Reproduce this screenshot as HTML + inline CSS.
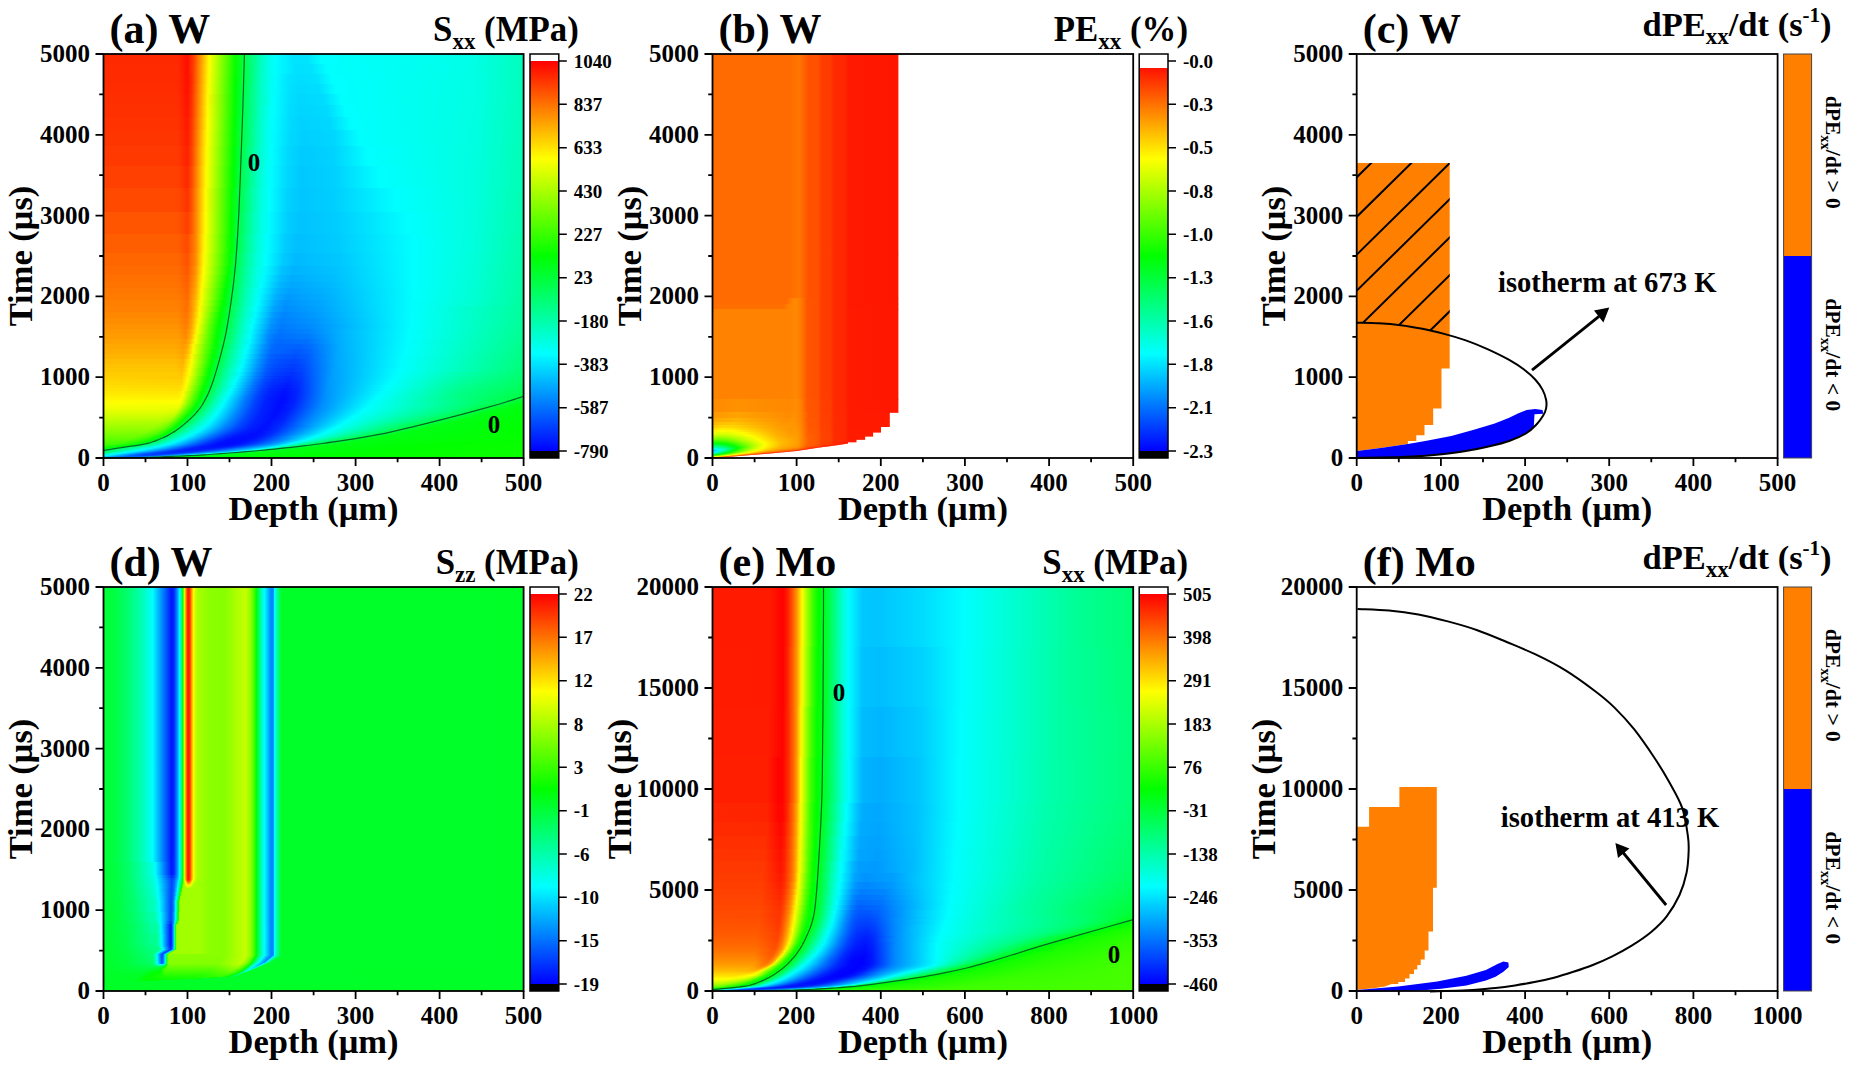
<!DOCTYPE html>
<html lang="en"><head><meta charset="utf-8"><title>Stress and plastic strain maps for W and Mo</title>
<style>html,body{margin:0;padding:0;background:#fff}body{width:1851px;height:1071px;overflow:hidden}svg{display:block}text{font-family:"Liberation Serif", "DejaVu Serif", serif;font-weight:bold;fill:#000}</style></head><body>
<svg width="1851" height="1071" viewBox="0 0 1851 1071">
<rect width="1851" height="1071" fill="#fff"/>
<!-- panel a --><defs><linearGradient id="a0"><stop offset="0" stop-color="#ff2900"/><stop offset=".176" stop-color="#ff2900"/><stop offset=".2" stop-color="#ff0d00"/><stop offset=".214" stop-color="#ff3b00"/><stop offset=".252" stop-color="#fcff00"/><stop offset=".314" stop-color="#07ff00"/><stop offset=".371" stop-color="#00ffb4"/><stop offset=".39" stop-color="#00ffe2"/><stop offset=".41" stop-color="#00ffff"/><stop offset=".452" stop-color="#00e4ff"/><stop offset=".486" stop-color="#00e4ff"/><stop offset=".519" stop-color="#00ffff"/><stop offset=".871" stop-color="#00ffe9"/><stop offset="1" stop-color="#00ffbc"/></linearGradient><linearGradient id="a1"><stop offset="0" stop-color="#ff2a00"/><stop offset=".176" stop-color="#ff2a00"/><stop offset=".2" stop-color="#ff0e00"/><stop offset=".214" stop-color="#ff3e00"/><stop offset=".248" stop-color="#ffef00"/><stop offset=".252" stop-color="#f9ff00"/><stop offset=".314" stop-color="#05ff00"/><stop offset=".371" stop-color="#00ffb6"/><stop offset=".39" stop-color="#00ffe3"/><stop offset=".41" stop-color="#00feff"/><stop offset=".457" stop-color="#00e1ff"/><stop offset=".495" stop-color="#00e2ff"/><stop offset=".533" stop-color="#00fffe"/><stop offset=".867" stop-color="#00ffe9"/><stop offset="1" stop-color="#00ffbb"/></linearGradient><linearGradient id="a2"><stop offset="0" stop-color="#ff2b00"/><stop offset=".176" stop-color="#ff2b00"/><stop offset=".2" stop-color="#ff1000"/><stop offset=".21" stop-color="#ff2a00"/><stop offset=".248" stop-color="#fff200"/><stop offset=".252" stop-color="#f6ff00"/><stop offset=".314" stop-color="#02ff00"/><stop offset=".371" stop-color="#00ffb8"/><stop offset=".39" stop-color="#00ffe5"/><stop offset=".41" stop-color="#00fdff"/><stop offset=".438" stop-color="#00e5ff"/><stop offset=".462" stop-color="#00deff"/><stop offset=".505" stop-color="#00e0ff"/><stop offset=".543" stop-color="#00ffff"/><stop offset=".881" stop-color="#00ffe6"/><stop offset="1" stop-color="#00ffbb"/></linearGradient><linearGradient id="a3"><stop offset="0" stop-color="#ff2c00"/><stop offset=".176" stop-color="#ff2c00"/><stop offset=".2" stop-color="#ff1100"/><stop offset=".21" stop-color="#ff2d00"/><stop offset=".248" stop-color="#fff500"/><stop offset=".252" stop-color="#f3ff00"/><stop offset=".314" stop-color="#00ff01"/><stop offset=".333" stop-color="#00ff46"/><stop offset=".371" stop-color="#00ffba"/><stop offset=".395" stop-color="#00fff0"/><stop offset=".41" stop-color="#00fcff"/><stop offset=".443" stop-color="#00e1ff"/><stop offset=".467" stop-color="#00dbff"/><stop offset=".514" stop-color="#00deff"/><stop offset=".552" stop-color="#00ffff"/><stop offset=".881" stop-color="#00ffe5"/><stop offset="1" stop-color="#00ffba"/></linearGradient><linearGradient id="a4"><stop offset="0" stop-color="#ff2e00"/><stop offset=".176" stop-color="#ff2e00"/><stop offset=".2" stop-color="#ff1300"/><stop offset=".21" stop-color="#ff3000"/><stop offset=".248" stop-color="#fff800"/><stop offset=".31" stop-color="#0eff00"/><stop offset=".314" stop-color="#00ff04"/><stop offset=".333" stop-color="#00ff49"/><stop offset=".371" stop-color="#00ffbc"/><stop offset=".405" stop-color="#00fffe"/><stop offset=".443" stop-color="#00dfff"/><stop offset=".467" stop-color="#00d8ff"/><stop offset=".524" stop-color="#00dcff"/><stop offset=".567" stop-color="#00fffe"/><stop offset=".881" stop-color="#00ffe4"/><stop offset="1" stop-color="#00ffba"/></linearGradient><linearGradient id="a5"><stop offset="0" stop-color="#ff3000"/><stop offset=".176" stop-color="#ff3000"/><stop offset=".2" stop-color="#ff1600"/><stop offset=".21" stop-color="#ff3300"/><stop offset=".248" stop-color="#fffc00"/><stop offset=".31" stop-color="#0bff00"/><stop offset=".314" stop-color="#00ff07"/><stop offset=".329" stop-color="#00ff3c"/><stop offset=".371" stop-color="#00ffbf"/><stop offset=".39" stop-color="#00ffeb"/><stop offset=".405" stop-color="#00ffff"/><stop offset=".443" stop-color="#00ddff"/><stop offset=".471" stop-color="#00d5ff"/><stop offset=".533" stop-color="#00daff"/><stop offset=".576" stop-color="#00ffff"/><stop offset=".881" stop-color="#00ffe3"/><stop offset="1" stop-color="#00ffb9"/></linearGradient><linearGradient id="a6"><stop offset="0" stop-color="#ff3200"/><stop offset=".176" stop-color="#ff3200"/><stop offset=".2" stop-color="#ff1900"/><stop offset=".21" stop-color="#ff3700"/><stop offset=".248" stop-color="#ffff00"/><stop offset=".31" stop-color="#08ff00"/><stop offset=".314" stop-color="#00ff0b"/><stop offset=".329" stop-color="#00ff40"/><stop offset=".371" stop-color="#00ffc2"/><stop offset=".39" stop-color="#00ffed"/><stop offset=".405" stop-color="#00fdff"/><stop offset=".443" stop-color="#00dbff"/><stop offset=".471" stop-color="#00d2ff"/><stop offset=".538" stop-color="#00d7ff"/><stop offset=".59" stop-color="#00ffff"/><stop offset=".881" stop-color="#00ffe2"/><stop offset="1" stop-color="#00ffb8"/></linearGradient><linearGradient id="a7"><stop offset="0" stop-color="#ff3500"/><stop offset=".176" stop-color="#ff3500"/><stop offset=".2" stop-color="#ff1c00"/><stop offset=".21" stop-color="#ff3c00"/><stop offset=".243" stop-color="#ffec00"/><stop offset=".248" stop-color="#fbff00"/><stop offset=".31" stop-color="#04ff00"/><stop offset=".367" stop-color="#00ffb9"/><stop offset=".39" stop-color="#00ffef"/><stop offset=".405" stop-color="#00fbff"/><stop offset=".443" stop-color="#00d9ff"/><stop offset=".476" stop-color="#00cfff"/><stop offset=".548" stop-color="#00d6ff"/><stop offset=".61" stop-color="#00fffe"/><stop offset=".881" stop-color="#00ffe1"/><stop offset="1" stop-color="#00ffb7"/></linearGradient><linearGradient id="a8"><stop offset="0" stop-color="#ff3900"/><stop offset=".176" stop-color="#ff3900"/><stop offset=".2" stop-color="#ff2100"/><stop offset=".21" stop-color="#ff4100"/><stop offset=".243" stop-color="#fff100"/><stop offset=".248" stop-color="#f6ff00"/><stop offset=".31" stop-color="#00ff01"/><stop offset=".324" stop-color="#00ff39"/><stop offset=".362" stop-color="#00ffb0"/><stop offset=".381" stop-color="#00ffe0"/><stop offset=".4" stop-color="#00feff"/><stop offset=".438" stop-color="#00d9ff"/><stop offset=".471" stop-color="#00cbff"/><stop offset=".548" stop-color="#00d2ff"/><stop offset=".629" stop-color="#00ffff"/><stop offset=".881" stop-color="#00ffe0"/><stop offset="1" stop-color="#00ffb5"/></linearGradient><linearGradient id="a9"><stop offset="0" stop-color="#ff4000"/><stop offset=".176" stop-color="#ff4000"/><stop offset=".2" stop-color="#ff2900"/><stop offset=".21" stop-color="#ff4900"/><stop offset=".243" stop-color="#fff600"/><stop offset=".248" stop-color="#f2ff00"/><stop offset=".305" stop-color="#0cff00"/><stop offset=".31" stop-color="#00ff07"/><stop offset=".324" stop-color="#00ff3f"/><stop offset=".367" stop-color="#00ffc3"/><stop offset=".386" stop-color="#00ffee"/><stop offset=".4" stop-color="#00fcff"/><stop offset=".438" stop-color="#00d6ff"/><stop offset=".471" stop-color="#00c8ff"/><stop offset=".552" stop-color="#00d1ff"/><stop offset=".657" stop-color="#00ffff"/><stop offset=".881" stop-color="#00ffdf"/><stop offset="1" stop-color="#00ffb3"/></linearGradient><linearGradient id="a10"><stop offset="0" stop-color="#ff4900"/><stop offset=".176" stop-color="#ff4900"/><stop offset=".2" stop-color="#ff3300"/><stop offset=".21" stop-color="#ff5100"/><stop offset=".243" stop-color="#fffb00"/><stop offset=".305" stop-color="#07ff00"/><stop offset=".324" stop-color="#00ff47"/><stop offset=".357" stop-color="#00ffaf"/><stop offset=".376" stop-color="#00ffdf"/><stop offset=".395" stop-color="#00ffff"/><stop offset=".438" stop-color="#00d2ff"/><stop offset=".471" stop-color="#00c6ff"/><stop offset=".552" stop-color="#00cfff"/><stop offset=".695" stop-color="#00ffff"/><stop offset=".881" stop-color="#00ffde"/><stop offset="1" stop-color="#00ffb0"/></linearGradient><linearGradient id="a11"><stop offset="0" stop-color="#ff5400"/><stop offset=".176" stop-color="#ff5400"/><stop offset=".2" stop-color="#ff3f00"/><stop offset=".21" stop-color="#ff5900"/><stop offset=".219" stop-color="#ff8200"/><stop offset=".243" stop-color="#feff00"/><stop offset=".305" stop-color="#01ff00"/><stop offset=".319" stop-color="#00ff3f"/><stop offset=".352" stop-color="#00ffaa"/><stop offset=".376" stop-color="#00ffe4"/><stop offset=".395" stop-color="#00fbff"/><stop offset=".438" stop-color="#00ceff"/><stop offset=".467" stop-color="#00c3ff"/><stop offset=".557" stop-color="#00cdff"/><stop offset=".724" stop-color="#00ffff"/><stop offset=".881" stop-color="#00ffdd"/><stop offset="1" stop-color="#00ffad"/></linearGradient><linearGradient id="a12"><stop offset="0" stop-color="#ff5e00"/><stop offset=".176" stop-color="#ff5e00"/><stop offset=".2" stop-color="#ff4a00"/><stop offset=".219" stop-color="#ff8400"/><stop offset=".238" stop-color="#ffee00"/><stop offset=".243" stop-color="#f8ff00"/><stop offset=".3" stop-color="#0fff00"/><stop offset=".305" stop-color="#00ff06"/><stop offset=".319" stop-color="#00ff49"/><stop offset=".348" stop-color="#00ffa6"/><stop offset=".371" stop-color="#00ffe1"/><stop offset=".39" stop-color="#00fdff"/><stop offset=".433" stop-color="#00ccff"/><stop offset=".462" stop-color="#00bfff"/><stop offset=".557" stop-color="#00cbff"/><stop offset=".738" stop-color="#00ffff"/><stop offset=".881" stop-color="#00ffdc"/><stop offset="1" stop-color="#00ffa9"/></linearGradient><linearGradient id="a13"><stop offset="0" stop-color="#ff6600"/><stop offset=".176" stop-color="#ff6600"/><stop offset=".2" stop-color="#ff5200"/><stop offset=".219" stop-color="#ff8900"/><stop offset=".238" stop-color="#fff600"/><stop offset=".243" stop-color="#f0ff00"/><stop offset=".3" stop-color="#07ff00"/><stop offset=".314" stop-color="#00ff42"/><stop offset=".343" stop-color="#00ffa2"/><stop offset=".367" stop-color="#00ffde"/><stop offset=".386" stop-color="#00ffff"/><stop offset=".429" stop-color="#00c9ff"/><stop offset=".457" stop-color="#00baff"/><stop offset=".562" stop-color="#00c8ff"/><stop offset=".738" stop-color="#00ffff"/><stop offset=".881" stop-color="#00ffda"/><stop offset="1" stop-color="#00ffa7"/></linearGradient><linearGradient id="a14"><stop offset="0" stop-color="#ff6b00"/><stop offset=".176" stop-color="#ff6b00"/><stop offset=".2" stop-color="#ff5800"/><stop offset=".219" stop-color="#ff9100"/><stop offset=".238" stop-color="#ffff00"/><stop offset=".295" stop-color="#0fff00"/><stop offset=".3" stop-color="#00ff07"/><stop offset=".314" stop-color="#00ff4b"/><stop offset=".343" stop-color="#00ffa9"/><stop offset=".367" stop-color="#00ffe4"/><stop offset=".386" stop-color="#00f9ff"/><stop offset=".424" stop-color="#00c3ff"/><stop offset=".452" stop-color="#00b3ff"/><stop offset=".557" stop-color="#00c3ff"/><stop offset=".738" stop-color="#00ffff"/><stop offset=".881" stop-color="#00ffd8"/><stop offset="1" stop-color="#00ffa5"/></linearGradient><linearGradient id="a15"><stop offset="0" stop-color="#ff7000"/><stop offset=".176" stop-color="#ff7000"/><stop offset=".2" stop-color="#ff5d00"/><stop offset=".219" stop-color="#ff9900"/><stop offset=".233" stop-color="#ffed00"/><stop offset=".238" stop-color="#f8ff00"/><stop offset=".295" stop-color="#02ff00"/><stop offset=".31" stop-color="#00ff41"/><stop offset=".338" stop-color="#00ffa0"/><stop offset=".362" stop-color="#00ffdf"/><stop offset=".381" stop-color="#00faff"/><stop offset=".419" stop-color="#00bfff"/><stop offset=".448" stop-color="#00acff"/><stop offset=".552" stop-color="#00bfff"/><stop offset=".738" stop-color="#00ffff"/><stop offset=".881" stop-color="#00ffd7"/><stop offset="1" stop-color="#00ffa3"/></linearGradient><linearGradient id="a16"><stop offset="0" stop-color="#ff7400"/><stop offset=".176" stop-color="#ff7400"/><stop offset=".2" stop-color="#ff6100"/><stop offset=".219" stop-color="#ffa000"/><stop offset=".233" stop-color="#fff400"/><stop offset=".238" stop-color="#f1ff00"/><stop offset=".29" stop-color="#0bff00"/><stop offset=".295" stop-color="#00ff0a"/><stop offset=".31" stop-color="#00ff48"/><stop offset=".338" stop-color="#00ffa6"/><stop offset=".376" stop-color="#00fdff"/><stop offset=".419" stop-color="#00b6ff"/><stop offset=".448" stop-color="#00a6ff"/><stop offset=".543" stop-color="#00b9ff"/><stop offset=".738" stop-color="#00ffff"/><stop offset=".881" stop-color="#00ffd5"/><stop offset="1" stop-color="#00ffa2"/></linearGradient><linearGradient id="a17"><stop offset="0" stop-color="#ff7700"/><stop offset=".176" stop-color="#ff7700"/><stop offset=".2" stop-color="#ff6500"/><stop offset=".219" stop-color="#ffa700"/><stop offset=".233" stop-color="#fffb00"/><stop offset=".29" stop-color="#00ff01"/><stop offset=".31" stop-color="#00ff4e"/><stop offset=".338" stop-color="#00ffab"/><stop offset=".362" stop-color="#00ffea"/><stop offset=".376" stop-color="#00f7ff"/><stop offset=".414" stop-color="#00b3ff"/><stop offset=".443" stop-color="#00a0ff"/><stop offset=".538" stop-color="#00b4ff"/><stop offset=".738" stop-color="#00fffe"/><stop offset=".881" stop-color="#00ffd4"/><stop offset="1" stop-color="#00ffa1"/></linearGradient><linearGradient id="a18"><stop offset="0" stop-color="#ff7b00"/><stop offset=".176" stop-color="#ff7b00"/><stop offset=".2" stop-color="#ff6900"/><stop offset=".219" stop-color="#ffaf00"/><stop offset=".233" stop-color="#fbff00"/><stop offset=".286" stop-color="#08ff00"/><stop offset=".29" stop-color="#00ff0c"/><stop offset=".338" stop-color="#00ffb1"/><stop offset=".362" stop-color="#00fff0"/><stop offset=".371" stop-color="#00faff"/><stop offset=".41" stop-color="#00b0ff"/><stop offset=".438" stop-color="#0099ff"/><stop offset=".529" stop-color="#00aeff"/><stop offset=".738" stop-color="#00fffe"/><stop offset=".881" stop-color="#00ffd3"/><stop offset="1" stop-color="#00ff9f"/></linearGradient><linearGradient id="a19"><stop offset="0" stop-color="#ff7f00"/><stop offset=".176" stop-color="#ff7f00"/><stop offset=".2" stop-color="#ff6e00"/><stop offset=".219" stop-color="#ffb700"/><stop offset=".229" stop-color="#fff100"/><stop offset=".233" stop-color="#f3ff00"/><stop offset=".281" stop-color="#10ff00"/><stop offset=".286" stop-color="#00ff04"/><stop offset=".333" stop-color="#00ffa9"/><stop offset=".367" stop-color="#00fdff"/><stop offset=".41" stop-color="#00a6ff"/><stop offset=".433" stop-color="#0093ff"/><stop offset=".519" stop-color="#00a7ff"/><stop offset=".733" stop-color="#00feff"/><stop offset=".881" stop-color="#00ffd1"/><stop offset="1" stop-color="#00ff9e"/></linearGradient><linearGradient id="a20"><stop offset="0" stop-color="#ff8300"/><stop offset=".176" stop-color="#ff8300"/><stop offset=".195" stop-color="#ff7000"/><stop offset=".2" stop-color="#ff7300"/><stop offset=".21" stop-color="#ff9300"/><stop offset=".219" stop-color="#ffbf00"/><stop offset=".229" stop-color="#fffa00"/><stop offset=".281" stop-color="#04ff00"/><stop offset=".338" stop-color="#00ffbf"/><stop offset=".362" stop-color="#00fffe"/><stop offset=".367" stop-color="#00f6ff"/><stop offset=".405" stop-color="#00a3ff"/><stop offset=".433" stop-color="#008dff"/><stop offset=".514" stop-color="#00a2ff"/><stop offset=".733" stop-color="#00feff"/><stop offset="1" stop-color="#00ff9c"/></linearGradient><linearGradient id="a21"><stop offset="0" stop-color="#ff8800"/><stop offset=".176" stop-color="#ff8800"/><stop offset=".195" stop-color="#ff7500"/><stop offset=".2" stop-color="#ff7800"/><stop offset=".21" stop-color="#ff9900"/><stop offset=".229" stop-color="#fbff00"/><stop offset=".257" stop-color="#63ff00"/><stop offset=".276" stop-color="#0cff00"/><stop offset=".281" stop-color="#00ff07"/><stop offset=".338" stop-color="#00ffc6"/><stop offset=".362" stop-color="#00f9ff"/><stop offset=".405" stop-color="#0099ff"/><stop offset=".429" stop-color="#0086ff"/><stop offset=".505" stop-color="#009aff"/><stop offset=".733" stop-color="#00ffff"/><stop offset="1" stop-color="#00ff9b"/></linearGradient><linearGradient id="a22"><stop offset="0" stop-color="#ff8d00"/><stop offset=".176" stop-color="#ff8d00"/><stop offset=".195" stop-color="#ff7a00"/><stop offset=".2" stop-color="#ff7e00"/><stop offset=".21" stop-color="#ff9f00"/><stop offset=".224" stop-color="#fff000"/><stop offset=".229" stop-color="#f1ff00"/><stop offset=".252" stop-color="#6fff00"/><stop offset=".276" stop-color="#02ff00"/><stop offset=".333" stop-color="#00ffc0"/><stop offset=".357" stop-color="#00fdff"/><stop offset=".4" stop-color="#0097ff"/><stop offset=".424" stop-color="#0080ff"/><stop offset=".5" stop-color="#0093ff"/><stop offset=".733" stop-color="#00ffff"/><stop offset="1" stop-color="#00ff99"/></linearGradient><linearGradient id="a23"><stop offset="0" stop-color="#ff9200"/><stop offset=".176" stop-color="#ff9200"/><stop offset=".195" stop-color="#ff7f00"/><stop offset=".2" stop-color="#ff8400"/><stop offset=".21" stop-color="#ffa700"/><stop offset=".224" stop-color="#fffc00"/><stop offset=".252" stop-color="#63ff00"/><stop offset=".271" stop-color="#0bff00"/><stop offset=".276" stop-color="#00ff07"/><stop offset=".338" stop-color="#00ffd6"/><stop offset=".352" stop-color="#00fffd"/><stop offset=".357" stop-color="#00f5ff"/><stop offset=".4" stop-color="#008eff"/><stop offset=".424" stop-color="#007bff"/><stop offset=".495" stop-color="#008cff"/><stop offset=".733" stop-color="#00ffff"/><stop offset="1" stop-color="#00ff96"/></linearGradient><linearGradient id="a24"><stop offset="0" stop-color="#ff9700"/><stop offset=".176" stop-color="#ff9700"/><stop offset=".195" stop-color="#ff8500"/><stop offset=".205" stop-color="#ff9b00"/><stop offset=".214" stop-color="#ffc700"/><stop offset=".219" stop-color="#ffe800"/><stop offset=".224" stop-color="#f6ff00"/><stop offset=".248" stop-color="#71ff00"/><stop offset=".271" stop-color="#03ff00"/><stop offset=".329" stop-color="#00ffc0"/><stop offset=".352" stop-color="#00fbff"/><stop offset=".395" stop-color="#008eff"/><stop offset=".419" stop-color="#0075ff"/><stop offset=".49" stop-color="#0083ff"/><stop offset=".571" stop-color="#00b5ff"/><stop offset=".729" stop-color="#00feff"/><stop offset="1" stop-color="#00ff94"/></linearGradient><linearGradient id="a25"><stop offset="0" stop-color="#ff9c00"/><stop offset=".176" stop-color="#ff9c00"/><stop offset=".195" stop-color="#ff8b00"/><stop offset=".2" stop-color="#ff9400"/><stop offset=".21" stop-color="#ffbb00"/><stop offset=".219" stop-color="#fff800"/><stop offset=".248" stop-color="#66ff00"/><stop offset=".267" stop-color="#0eff00"/><stop offset=".271" stop-color="#00ff05"/><stop offset=".319" stop-color="#00ffaa"/><stop offset=".348" stop-color="#00fffe"/><stop offset=".39" stop-color="#008fff"/><stop offset=".405" stop-color="#0077ff"/><stop offset=".419" stop-color="#0070ff"/><stop offset=".49" stop-color="#007bff"/><stop offset=".567" stop-color="#00b2ff"/><stop offset=".729" stop-color="#00ffff"/><stop offset="1" stop-color="#00ff91"/></linearGradient><linearGradient id="a26"><stop offset="0" stop-color="#ffa200"/><stop offset=".176" stop-color="#ffa200"/><stop offset=".195" stop-color="#ff9300"/><stop offset=".205" stop-color="#ffb100"/><stop offset=".214" stop-color="#ffe600"/><stop offset=".219" stop-color="#f8ff00"/><stop offset=".243" stop-color="#74ff00"/><stop offset=".267" stop-color="#06ff00"/><stop offset=".324" stop-color="#00ffc2"/><stop offset=".348" stop-color="#00f8ff"/><stop offset=".395" stop-color="#007dff"/><stop offset=".41" stop-color="#006cff"/><stop offset=".424" stop-color="#006aff"/><stop offset=".486" stop-color="#0070ff"/><stop offset=".562" stop-color="#00aeff"/><stop offset=".724" stop-color="#00feff"/><stop offset="1" stop-color="#00ff8d"/></linearGradient><linearGradient id="a27"><stop offset="0" stop-color="#ffa800"/><stop offset=".171" stop-color="#ffa800"/><stop offset=".19" stop-color="#ff9a00"/><stop offset=".2" stop-color="#ffaa00"/><stop offset=".214" stop-color="#fff800"/><stop offset=".248" stop-color="#52ff00"/><stop offset=".267" stop-color="#00ff03"/><stop offset=".31" stop-color="#00ff9d"/><stop offset=".343" stop-color="#00fdff"/><stop offset=".381" stop-color="#0094ff"/><stop offset=".4" stop-color="#006eff"/><stop offset=".414" stop-color="#0064ff"/><stop offset=".467" stop-color="#0062ff"/><stop offset=".495" stop-color="#006fff"/><stop offset=".567" stop-color="#00b0ff"/><stop offset=".724" stop-color="#00ffff"/><stop offset="1" stop-color="#00ff8a"/></linearGradient><linearGradient id="a28"><stop offset="0" stop-color="#ffae00"/><stop offset=".171" stop-color="#ffae00"/><stop offset=".19" stop-color="#ffa100"/><stop offset=".2" stop-color="#ffb700"/><stop offset=".21" stop-color="#ffe800"/><stop offset=".214" stop-color="#f8ff00"/><stop offset=".238" stop-color="#77ff00"/><stop offset=".262" stop-color="#06ff00"/><stop offset=".314" stop-color="#00ffb7"/><stop offset=".338" stop-color="#00fffd"/><stop offset=".343" stop-color="#00f5ff"/><stop offset=".381" stop-color="#008bff"/><stop offset=".4" stop-color="#0067ff"/><stop offset=".462" stop-color="#0058ff"/><stop offset=".49" stop-color="#0065ff"/><stop offset=".562" stop-color="#00acff"/><stop offset=".719" stop-color="#00ffff"/><stop offset="1" stop-color="#00ff86"/></linearGradient><linearGradient id="a29"><stop offset="0" stop-color="#ffb500"/><stop offset=".171" stop-color="#ffb500"/><stop offset=".19" stop-color="#ffa800"/><stop offset=".2" stop-color="#ffc500"/><stop offset=".21" stop-color="#fff800"/><stop offset=".257" stop-color="#10ff00"/><stop offset=".262" stop-color="#00ff05"/><stop offset=".305" stop-color="#00ffa3"/><stop offset=".333" stop-color="#00fff9"/><stop offset=".338" stop-color="#00f8ff"/><stop offset=".376" stop-color="#008eff"/><stop offset=".395" stop-color="#0066ff"/><stop offset=".41" stop-color="#0058ff"/><stop offset=".457" stop-color="#004eff"/><stop offset=".486" stop-color="#005cff"/><stop offset=".557" stop-color="#00a8ff"/><stop offset=".714" stop-color="#00feff"/><stop offset="1" stop-color="#00ff82"/></linearGradient><linearGradient id="a30"><stop offset="0" stop-color="#ffbc00"/><stop offset=".171" stop-color="#ffbc00"/><stop offset=".19" stop-color="#ffb100"/><stop offset=".205" stop-color="#ffea00"/><stop offset=".21" stop-color="#faff00"/><stop offset=".257" stop-color="#04ff00"/><stop offset=".3" stop-color="#00ff9e"/><stop offset=".333" stop-color="#00fbff"/><stop offset=".371" stop-color="#0090ff"/><stop offset=".395" stop-color="#005eff"/><stop offset=".419" stop-color="#004dff"/><stop offset=".457" stop-color="#0045ff"/><stop offset=".481" stop-color="#0053ff"/><stop offset=".552" stop-color="#00a5ff"/><stop offset=".71" stop-color="#00feff"/><stop offset="1" stop-color="#00ff7e"/></linearGradient><linearGradient id="a31"><stop offset="0" stop-color="#ffc200"/><stop offset=".171" stop-color="#ffc200"/><stop offset=".186" stop-color="#ffb800"/><stop offset=".19" stop-color="#ffba00"/><stop offset=".205" stop-color="#fff500"/><stop offset=".21" stop-color="#f2ff00"/><stop offset=".252" stop-color="#0dff00"/><stop offset=".257" stop-color="#00ff09"/><stop offset=".29" stop-color="#00ff89"/><stop offset=".329" stop-color="#00feff"/><stop offset=".367" stop-color="#0092ff"/><stop offset=".39" stop-color="#005eff"/><stop offset=".41" stop-color="#004bff"/><stop offset=".452" stop-color="#003dff"/><stop offset=".476" stop-color="#004aff"/><stop offset=".552" stop-color="#00a4ff"/><stop offset=".71" stop-color="#00fffe"/><stop offset="1" stop-color="#00ff7a"/></linearGradient><linearGradient id="a32"><stop offset="0" stop-color="#ffc700"/><stop offset=".171" stop-color="#ffc700"/><stop offset=".186" stop-color="#ffbe00"/><stop offset=".19" stop-color="#ffc300"/><stop offset=".205" stop-color="#fffd00"/><stop offset=".252" stop-color="#01ff00"/><stop offset=".295" stop-color="#00ffa4"/><stop offset=".324" stop-color="#00fffb"/><stop offset=".329" stop-color="#00f5ff"/><stop offset=".367" stop-color="#0089ff"/><stop offset=".39" stop-color="#0056ff"/><stop offset=".414" stop-color="#0041ff"/><stop offset=".448" stop-color="#0037ff"/><stop offset=".476" stop-color="#0047ff"/><stop offset=".548" stop-color="#00a1ff"/><stop offset=".705" stop-color="#00ffff"/><stop offset="1" stop-color="#00ff77"/></linearGradient><linearGradient id="a33"><stop offset="0" stop-color="#ffcc00"/><stop offset=".171" stop-color="#ffcc00"/><stop offset=".186" stop-color="#ffc400"/><stop offset=".2" stop-color="#fff000"/><stop offset=".205" stop-color="#f7ff00"/><stop offset=".21" stop-color="#dfff00"/><stop offset=".248" stop-color="#0cff00"/><stop offset=".252" stop-color="#00ff0a"/><stop offset=".295" stop-color="#00ffaf"/><stop offset=".324" stop-color="#00f8ff"/><stop offset=".362" stop-color="#008aff"/><stop offset=".386" stop-color="#0055ff"/><stop offset=".41" stop-color="#003cff"/><stop offset=".448" stop-color="#002fff"/><stop offset=".471" stop-color="#003eff"/><stop offset=".543" stop-color="#009dff"/><stop offset=".7" stop-color="#00fffe"/><stop offset=".857" stop-color="#00ffab"/><stop offset="1" stop-color="#00ff71"/></linearGradient><linearGradient id="a34"><stop offset="0" stop-color="#ffd100"/><stop offset=".186" stop-color="#ffca00"/><stop offset=".2" stop-color="#fff900"/><stop offset=".21" stop-color="#d4ff00"/><stop offset=".233" stop-color="#48ff00"/><stop offset=".248" stop-color="#01ff00"/><stop offset=".286" stop-color="#00ff98"/><stop offset=".319" stop-color="#00fcff"/><stop offset=".362" stop-color="#0080ff"/><stop offset=".386" stop-color="#004dff"/><stop offset=".41" stop-color="#0035ff"/><stop offset=".443" stop-color="#0028ff"/><stop offset=".471" stop-color="#003bff"/><stop offset=".543" stop-color="#009dff"/><stop offset=".695" stop-color="#00fffe"/><stop offset=".857" stop-color="#00ffa4"/><stop offset="1" stop-color="#00ff6b"/></linearGradient><linearGradient id="a35"><stop offset="0" stop-color="#ffd500"/><stop offset=".186" stop-color="#ffd000"/><stop offset=".2" stop-color="#fcff00"/><stop offset=".243" stop-color="#0dff00"/><stop offset=".248" stop-color="#00ff09"/><stop offset=".267" stop-color="#00ff5b"/><stop offset=".295" stop-color="#00ffc3"/><stop offset=".314" stop-color="#00fffe"/><stop offset=".319" stop-color="#00f3ff"/><stop offset=".357" stop-color="#0084ff"/><stop offset=".381" stop-color="#004dff"/><stop offset=".405" stop-color="#0032ff"/><stop offset=".443" stop-color="#0023ff"/><stop offset=".471" stop-color="#0038ff"/><stop offset=".538" stop-color="#0099ff"/><stop offset=".686" stop-color="#00fdff"/><stop offset=".857" stop-color="#00ff9d"/><stop offset="1" stop-color="#00ff66"/></linearGradient><linearGradient id="a36"><stop offset="0" stop-color="#ffd900"/><stop offset=".181" stop-color="#ffd400"/><stop offset=".186" stop-color="#ffd600"/><stop offset=".195" stop-color="#fff300"/><stop offset=".2" stop-color="#f1ff00"/><stop offset=".243" stop-color="#03ff00"/><stop offset=".286" stop-color="#00ffac"/><stop offset=".31" stop-color="#00fffa"/><stop offset=".314" stop-color="#00f7ff"/><stop offset=".357" stop-color="#007aff"/><stop offset=".381" stop-color="#0046ff"/><stop offset=".4" stop-color="#002fff"/><stop offset=".438" stop-color="#001dff"/><stop offset=".467" stop-color="#0030ff"/><stop offset=".538" stop-color="#0099ff"/><stop offset=".681" stop-color="#00feff"/><stop offset=".857" stop-color="#00ff95"/><stop offset="1" stop-color="#00ff61"/></linearGradient><linearGradient id="a37"><stop offset="0" stop-color="#ffde00"/><stop offset=".181" stop-color="#ffd900"/><stop offset=".19" stop-color="#ffe900"/><stop offset=".195" stop-color="#fffd00"/><stop offset=".238" stop-color="#0eff00"/><stop offset=".243" stop-color="#00ff09"/><stop offset=".281" stop-color="#00ffa6"/><stop offset=".31" stop-color="#00faff"/><stop offset=".352" stop-color="#007dff"/><stop offset=".376" stop-color="#0047ff"/><stop offset=".4" stop-color="#0029ff"/><stop offset=".438" stop-color="#0018ff"/><stop offset=".467" stop-color="#002eff"/><stop offset=".533" stop-color="#0095ff"/><stop offset=".676" stop-color="#00ffff"/><stop offset=".852" stop-color="#00ff91"/><stop offset="1" stop-color="#00ff5b"/></linearGradient><linearGradient id="a38"><stop offset="0" stop-color="#ffe300"/><stop offset=".181" stop-color="#ffdf00"/><stop offset=".19" stop-color="#fff000"/><stop offset=".195" stop-color="#f6ff00"/><stop offset=".238" stop-color="#02ff00"/><stop offset=".271" stop-color="#00ff8f"/><stop offset=".305" stop-color="#00fdff"/><stop offset=".348" stop-color="#0080ff"/><stop offset=".376" stop-color="#0040ff"/><stop offset=".395" stop-color="#0027ff"/><stop offset=".433" stop-color="#0013ff"/><stop offset=".462" stop-color="#0026ff"/><stop offset=".533" stop-color="#0095ff"/><stop offset=".671" stop-color="#00fffe"/><stop offset=".848" stop-color="#00ff8d"/><stop offset="1" stop-color="#00ff56"/></linearGradient><linearGradient id="a39"><stop offset="0" stop-color="#ffe800"/><stop offset=".176" stop-color="#ffe500"/><stop offset=".19" stop-color="#fff900"/><stop offset=".233" stop-color="#0cff00"/><stop offset=".238" stop-color="#00ff0c"/><stop offset=".281" stop-color="#00ffbf"/><stop offset=".3" stop-color="#00fffe"/><stop offset=".305" stop-color="#00f2ff"/><stop offset=".343" stop-color="#0083ff"/><stop offset=".371" stop-color="#0041ff"/><stop offset=".395" stop-color="#0022ff"/><stop offset=".433" stop-color="#000fff"/><stop offset=".462" stop-color="#0026ff"/><stop offset=".529" stop-color="#0090ff"/><stop offset=".662" stop-color="#00fdff"/><stop offset=".848" stop-color="#00ff87"/><stop offset="1" stop-color="#00ff50"/></linearGradient><linearGradient id="a40"><stop offset="0" stop-color="#ffed00"/><stop offset=".176" stop-color="#ffeb00"/><stop offset=".19" stop-color="#faff00"/><stop offset=".214" stop-color="#66ff00"/><stop offset=".233" stop-color="#01ff02"/><stop offset=".271" stop-color="#00ffa7"/><stop offset=".295" stop-color="#00fff9"/><stop offset=".3" stop-color="#00f6ff"/><stop offset=".343" stop-color="#007bff"/><stop offset=".371" stop-color="#003cff"/><stop offset=".39" stop-color="#0023ff"/><stop offset=".429" stop-color="#000dff"/><stop offset=".457" stop-color="#0020ff"/><stop offset=".529" stop-color="#0091ff"/><stop offset=".657" stop-color="#00feff"/><stop offset=".843" stop-color="#00ff86"/><stop offset="1" stop-color="#00ff4a"/></linearGradient><linearGradient id="a41"><stop offset="0" stop-color="#fff100"/><stop offset=".176" stop-color="#ffef00"/><stop offset=".186" stop-color="#fff800"/><stop offset=".19" stop-color="#f0ff00"/><stop offset=".21" stop-color="#77ff00"/><stop offset=".229" stop-color="#0dff00"/><stop offset=".233" stop-color="#00ff0c"/><stop offset=".271" stop-color="#00ffb1"/><stop offset=".295" stop-color="#00fdff"/><stop offset=".338" stop-color="#0081ff"/><stop offset=".367" stop-color="#0040ff"/><stop offset=".39" stop-color="#0020ff"/><stop offset=".429" stop-color="#000bff"/><stop offset=".457" stop-color="#0021ff"/><stop offset=".529" stop-color="#0092ff"/><stop offset=".652" stop-color="#00feff"/><stop offset=".833" stop-color="#00ff89"/><stop offset="1" stop-color="#00ff42"/></linearGradient><linearGradient id="a42"><stop offset="0" stop-color="#fff500"/><stop offset=".176" stop-color="#fff500"/><stop offset=".186" stop-color="#fefe00"/><stop offset=".21" stop-color="#6bff00"/><stop offset=".229" stop-color="#02ff01"/><stop offset=".271" stop-color="#00ffbb"/><stop offset=".29" stop-color="#00fffb"/><stop offset=".295" stop-color="#00f4ff"/><stop offset=".338" stop-color="#007bff"/><stop offset=".367" stop-color="#003dff"/><stop offset=".395" stop-color="#001aff"/><stop offset=".429" stop-color="#000bff"/><stop offset=".457" stop-color="#0022ff"/><stop offset=".524" stop-color="#008dff"/><stop offset=".648" stop-color="#00feff"/><stop offset=".8" stop-color="#00ff9b"/><stop offset=".976" stop-color="#00ff48"/><stop offset="1" stop-color="#00ff34"/></linearGradient><linearGradient id="a43"><stop offset="0" stop-color="#fffa00"/><stop offset=".181" stop-color="#fffd00"/><stop offset=".186" stop-color="#f7ff00"/><stop offset=".195" stop-color="#b5ff00"/><stop offset=".224" stop-color="#0eff00"/><stop offset=".229" stop-color="#00ff0b"/><stop offset=".267" stop-color="#00ffb3"/><stop offset=".29" stop-color="#00faff"/><stop offset=".333" stop-color="#0081ff"/><stop offset=".362" stop-color="#0042ff"/><stop offset=".386" stop-color="#0021ff"/><stop offset=".424" stop-color="#000aff"/><stop offset=".452" stop-color="#001eff"/><stop offset=".524" stop-color="#008fff"/><stop offset=".643" stop-color="#00feff"/><stop offset=".776" stop-color="#00ffa9"/><stop offset=".962" stop-color="#00ff48"/><stop offset="1" stop-color="#00ff22"/></linearGradient><linearGradient id="a44"><stop offset="0" stop-color="#fefe00"/><stop offset=".181" stop-color="#fbff00"/><stop offset=".186" stop-color="#eaff00"/><stop offset=".205" stop-color="#6cff00"/><stop offset=".224" stop-color="#02ff02"/><stop offset=".267" stop-color="#00ffbe"/><stop offset=".286" stop-color="#00fefe"/><stop offset=".29" stop-color="#00f2ff"/><stop offset=".333" stop-color="#007cff"/><stop offset=".362" stop-color="#003fff"/><stop offset=".386" stop-color="#001fff"/><stop offset=".424" stop-color="#000aff"/><stop offset=".452" stop-color="#0020ff"/><stop offset=".524" stop-color="#0090ff"/><stop offset=".638" stop-color="#00feff"/><stop offset=".943" stop-color="#00ff4b"/><stop offset="1" stop-color="#00ff14"/></linearGradient><linearGradient id="a45"><stop offset="0" stop-color="#f9ff00"/><stop offset=".181" stop-color="#f2ff00"/><stop offset=".219" stop-color="#0aff00"/><stop offset=".224" stop-color="#00ff0f"/><stop offset=".262" stop-color="#00ffb7"/><stop offset=".281" stop-color="#00fff9"/><stop offset=".286" stop-color="#00f7ff"/><stop offset=".329" stop-color="#0082ff"/><stop offset=".357" stop-color="#0044ff"/><stop offset=".381" stop-color="#0022ff"/><stop offset=".419" stop-color="#000bff"/><stop offset=".452" stop-color="#0023ff"/><stop offset=".519" stop-color="#008cff"/><stop offset=".633" stop-color="#00feff"/><stop offset=".876" stop-color="#00ff6e"/><stop offset=".938" stop-color="#00ff43"/><stop offset=".981" stop-color="#00ff16"/><stop offset="1" stop-color="#00ff0f"/></linearGradient><linearGradient id="a46"><stop offset="0" stop-color="#f3ff00"/><stop offset=".176" stop-color="#ecff00"/><stop offset=".181" stop-color="#e2ff00"/><stop offset=".19" stop-color="#9eff00"/><stop offset=".214" stop-color="#12ff00"/><stop offset=".219" stop-color="#00ff08"/><stop offset=".252" stop-color="#00ff9e"/><stop offset=".281" stop-color="#00fdff"/><stop offset=".324" stop-color="#0087ff"/><stop offset=".357" stop-color="#0040ff"/><stop offset=".381" stop-color="#0020ff"/><stop offset=".419" stop-color="#000bff"/><stop offset=".448" stop-color="#0020ff"/><stop offset=".519" stop-color="#008fff"/><stop offset=".629" stop-color="#00fffe"/><stop offset=".862" stop-color="#00ff71"/><stop offset=".967" stop-color="#00ff14"/><stop offset="1" stop-color="#00ff0d"/></linearGradient><linearGradient id="a47"><stop offset="0" stop-color="#edff00"/><stop offset=".148" stop-color="#edff00"/><stop offset=".176" stop-color="#e4ff00"/><stop offset=".181" stop-color="#d2ff00"/><stop offset=".19" stop-color="#8dff00"/><stop offset=".214" stop-color="#03ff00"/><stop offset=".252" stop-color="#00ffa8"/><stop offset=".276" stop-color="#00fffa"/><stop offset=".281" stop-color="#00f6ff"/><stop offset=".324" stop-color="#0083ff"/><stop offset=".352" stop-color="#0045ff"/><stop offset=".376" stop-color="#0024ff"/><stop offset=".414" stop-color="#000bff"/><stop offset=".443" stop-color="#001dff"/><stop offset=".51" stop-color="#0085ff"/><stop offset=".624" stop-color="#00ffff"/><stop offset=".852" stop-color="#00ff72"/><stop offset=".952" stop-color="#00ff15"/><stop offset="1" stop-color="#00ff0c"/></linearGradient><linearGradient id="a48"><stop offset="0" stop-color="#eaff00"/><stop offset=".148" stop-color="#eaff00"/><stop offset=".176" stop-color="#deff00"/><stop offset=".21" stop-color="#13ff00"/><stop offset=".214" stop-color="#00ff07"/><stop offset=".233" stop-color="#00ff61"/><stop offset=".257" stop-color="#00ffc0"/><stop offset=".276" stop-color="#00ffff"/><stop offset=".281" stop-color="#00f2ff"/><stop offset=".324" stop-color="#007fff"/><stop offset=".352" stop-color="#0043ff"/><stop offset=".376" stop-color="#0023ff"/><stop offset=".414" stop-color="#000cff"/><stop offset=".443" stop-color="#001fff"/><stop offset=".51" stop-color="#0087ff"/><stop offset=".619" stop-color="#00feff"/><stop offset=".843" stop-color="#00ff75"/><stop offset=".948" stop-color="#00ff13"/><stop offset="1" stop-color="#00ff0c"/></linearGradient><linearGradient id="a49"><stop offset="0" stop-color="#e6ff00"/><stop offset=".148" stop-color="#e6ff00"/><stop offset=".171" stop-color="#dcff00"/><stop offset=".176" stop-color="#d4ff00"/><stop offset=".19" stop-color="#75ff00"/><stop offset=".21" stop-color="#08ff00"/><stop offset=".214" stop-color="#00ff11"/><stop offset=".248" stop-color="#00ffa3"/><stop offset=".276" stop-color="#00fbff"/><stop offset=".319" stop-color="#0088ff"/><stop offset=".352" stop-color="#0041ff"/><stop offset=".376" stop-color="#0022ff"/><stop offset=".414" stop-color="#000cff"/><stop offset=".443" stop-color="#0021ff"/><stop offset=".51" stop-color="#0089ff"/><stop offset=".619" stop-color="#00fffe"/><stop offset=".833" stop-color="#00ff77"/><stop offset=".938" stop-color="#00ff14"/><stop offset="1" stop-color="#00ff0b"/></linearGradient><linearGradient id="a50"><stop offset="0" stop-color="#e2ff00"/><stop offset=".143" stop-color="#e2ff00"/><stop offset=".171" stop-color="#d6ff00"/><stop offset=".176" stop-color="#c9ff00"/><stop offset=".186" stop-color="#85ff00"/><stop offset=".21" stop-color="#00ff02"/><stop offset=".248" stop-color="#00ffaa"/><stop offset=".271" stop-color="#00fffa"/><stop offset=".276" stop-color="#00f6ff"/><stop offset=".319" stop-color="#0084ff"/><stop offset=".352" stop-color="#003fff"/><stop offset=".376" stop-color="#0021ff"/><stop offset=".414" stop-color="#000dff"/><stop offset=".438" stop-color="#001dff"/><stop offset=".505" stop-color="#0085ff"/><stop offset=".614" stop-color="#00ffff"/><stop offset=".824" stop-color="#00ff78"/><stop offset=".929" stop-color="#00ff14"/><stop offset="1" stop-color="#00ff0a"/></linearGradient><linearGradient id="a51"><stop offset="0" stop-color="#deff00"/><stop offset=".143" stop-color="#deff00"/><stop offset=".171" stop-color="#cfff00"/><stop offset=".176" stop-color="#bbff00"/><stop offset=".186" stop-color="#78ff00"/><stop offset=".205" stop-color="#0cff00"/><stop offset=".21" stop-color="#00ff0d"/><stop offset=".243" stop-color="#00ff9f"/><stop offset=".271" stop-color="#00ffff"/><stop offset=".314" stop-color="#008cff"/><stop offset=".348" stop-color="#0045ff"/><stop offset=".376" stop-color="#0020ff"/><stop offset=".41" stop-color="#000dff"/><stop offset=".438" stop-color="#001fff"/><stop offset=".505" stop-color="#0087ff"/><stop offset=".61" stop-color="#00feff"/><stop offset=".814" stop-color="#00ff7a"/><stop offset=".919" stop-color="#00ff15"/><stop offset="1" stop-color="#00ff0a"/></linearGradient><linearGradient id="a52"><stop offset="0" stop-color="#daff00"/><stop offset=".143" stop-color="#daff00"/><stop offset=".167" stop-color="#ccff00"/><stop offset=".171" stop-color="#c6ff00"/><stop offset=".176" stop-color="#acff00"/><stop offset=".186" stop-color="#6bff00"/><stop offset=".205" stop-color="#00ff00"/><stop offset=".219" stop-color="#00ff46"/><stop offset=".243" stop-color="#00ffa7"/><stop offset=".271" stop-color="#00faff"/><stop offset=".314" stop-color="#0088ff"/><stop offset=".348" stop-color="#0043ff"/><stop offset=".371" stop-color="#0023ff"/><stop offset=".41" stop-color="#000dff"/><stop offset=".438" stop-color="#0021ff"/><stop offset=".505" stop-color="#0089ff"/><stop offset=".61" stop-color="#00fffd"/><stop offset=".81" stop-color="#00ff77"/><stop offset=".91" stop-color="#00ff15"/><stop offset="1" stop-color="#00ff09"/></linearGradient><linearGradient id="a53"><stop offset="0" stop-color="#d5ff00"/><stop offset=".138" stop-color="#d5ff00"/><stop offset=".167" stop-color="#c5ff00"/><stop offset=".171" stop-color="#baff00"/><stop offset=".2" stop-color="#0eff00"/><stop offset=".205" stop-color="#00ff0b"/><stop offset=".224" stop-color="#00ff63"/><stop offset=".248" stop-color="#00ffbf"/><stop offset=".267" stop-color="#00fffc"/><stop offset=".271" stop-color="#00f5ff"/><stop offset=".314" stop-color="#0085ff"/><stop offset=".348" stop-color="#0040ff"/><stop offset=".371" stop-color="#0022ff"/><stop offset=".41" stop-color="#000dff"/><stop offset=".438" stop-color="#0023ff"/><stop offset=".5" stop-color="#0085ff"/><stop offset=".605" stop-color="#00fffe"/><stop offset=".8" stop-color="#00ff78"/><stop offset=".905" stop-color="#00ff13"/><stop offset="1" stop-color="#00ff08"/></linearGradient><linearGradient id="a54"><stop offset="0" stop-color="#d1ff00"/><stop offset=".138" stop-color="#d1ff00"/><stop offset=".167" stop-color="#beff00"/><stop offset=".171" stop-color="#acff00"/><stop offset=".181" stop-color="#6bff00"/><stop offset=".2" stop-color="#02ff00"/><stop offset=".233" stop-color="#00ff92"/><stop offset=".267" stop-color="#00fdff"/><stop offset=".31" stop-color="#008cff"/><stop offset=".343" stop-color="#0046ff"/><stop offset=".371" stop-color="#0020ff"/><stop offset=".405" stop-color="#000eff"/><stop offset=".433" stop-color="#001fff"/><stop offset=".495" stop-color="#0081ff"/><stop offset=".6" stop-color="#00feff"/><stop offset=".79" stop-color="#00ff79"/><stop offset=".895" stop-color="#00ff13"/><stop offset="1" stop-color="#00ff08"/></linearGradient><linearGradient id="a55"><stop offset="0" stop-color="#cdff00"/><stop offset=".138" stop-color="#cdff00"/><stop offset=".162" stop-color="#bcff00"/><stop offset=".167" stop-color="#b4ff00"/><stop offset=".171" stop-color="#9cff00"/><stop offset=".195" stop-color="#0fff00"/><stop offset=".2" stop-color="#00ff0a"/><stop offset=".214" stop-color="#00ff4e"/><stop offset=".238" stop-color="#00ffac"/><stop offset=".257" stop-color="#00ffec"/><stop offset=".267" stop-color="#00f8ff"/><stop offset=".31" stop-color="#0088ff"/><stop offset=".343" stop-color="#0043ff"/><stop offset=".371" stop-color="#001fff"/><stop offset=".405" stop-color="#000eff"/><stop offset=".433" stop-color="#0022ff"/><stop offset=".495" stop-color="#0083ff"/><stop offset=".595" stop-color="#00fdff"/><stop offset=".781" stop-color="#00ff79"/><stop offset=".886" stop-color="#00ff13"/><stop offset="1" stop-color="#00ff07"/></linearGradient><linearGradient id="a56"><stop offset="0" stop-color="#c8ff00"/><stop offset=".133" stop-color="#c8ff00"/><stop offset=".162" stop-color="#b4ff00"/><stop offset=".167" stop-color="#a7ff00"/><stop offset=".195" stop-color="#03ff00"/><stop offset=".214" stop-color="#00ff58"/><stop offset=".238" stop-color="#00ffb4"/><stop offset=".262" stop-color="#00ffff"/><stop offset=".267" stop-color="#00f2ff"/><stop offset=".31" stop-color="#0084ff"/><stop offset=".343" stop-color="#0041ff"/><stop offset=".367" stop-color="#0022ff"/><stop offset=".405" stop-color="#000eff"/><stop offset=".433" stop-color="#0024ff"/><stop offset=".495" stop-color="#0086ff"/><stop offset=".595" stop-color="#00fffd"/><stop offset=".776" stop-color="#00ff75"/><stop offset=".876" stop-color="#00ff13"/><stop offset="1" stop-color="#00ff06"/></linearGradient><linearGradient id="a57"><stop offset="0" stop-color="#c4ff00"/><stop offset=".133" stop-color="#c4ff00"/><stop offset=".157" stop-color="#b2ff00"/><stop offset=".167" stop-color="#99ff00"/><stop offset=".19" stop-color="#10ff00"/><stop offset=".195" stop-color="#00ff09"/><stop offset=".21" stop-color="#00ff4f"/><stop offset=".233" stop-color="#00ffac"/><stop offset=".262" stop-color="#00faff"/><stop offset=".305" stop-color="#008bff"/><stop offset=".338" stop-color="#0046ff"/><stop offset=".367" stop-color="#0021ff"/><stop offset=".4" stop-color="#000fff"/><stop offset=".429" stop-color="#0020ff"/><stop offset=".49" stop-color="#0082ff"/><stop offset=".59" stop-color="#00fffe"/><stop offset=".767" stop-color="#00ff76"/><stop offset=".867" stop-color="#00ff13"/><stop offset="1" stop-color="#00ff06"/></linearGradient><linearGradient id="a58"><stop offset="0" stop-color="#bfff00"/><stop offset=".133" stop-color="#bfff00"/><stop offset=".152" stop-color="#afff00"/><stop offset=".162" stop-color="#a0ff00"/><stop offset=".19" stop-color="#03ff00"/><stop offset=".205" stop-color="#00ff45"/><stop offset=".229" stop-color="#00ffa3"/><stop offset=".257" stop-color="#00fffd"/><stop offset=".262" stop-color="#00f4ff"/><stop offset=".305" stop-color="#0087ff"/><stop offset=".338" stop-color="#0043ff"/><stop offset=".367" stop-color="#0020ff"/><stop offset=".4" stop-color="#000fff"/><stop offset=".429" stop-color="#0023ff"/><stop offset=".486" stop-color="#007eff"/><stop offset=".586" stop-color="#00ffff"/><stop offset=".757" stop-color="#00ff76"/><stop offset=".857" stop-color="#00ff13"/><stop offset="1" stop-color="#00ff05"/></linearGradient><linearGradient id="a59"><stop offset="0" stop-color="#bbff00"/><stop offset=".138" stop-color="#b6ff00"/><stop offset=".157" stop-color="#a1ff00"/><stop offset=".162" stop-color="#93ff00"/><stop offset=".186" stop-color="#10ff00"/><stop offset=".19" stop-color="#00ff09"/><stop offset=".205" stop-color="#00ff50"/><stop offset=".224" stop-color="#00ff9b"/><stop offset=".257" stop-color="#00fbff"/><stop offset=".3" stop-color="#008dff"/><stop offset=".333" stop-color="#0048ff"/><stop offset=".362" stop-color="#0022ff"/><stop offset=".395" stop-color="#000fff"/><stop offset=".429" stop-color="#0025ff"/><stop offset=".486" stop-color="#0081ff"/><stop offset=".581" stop-color="#00feff"/><stop offset=".748" stop-color="#00ff76"/><stop offset=".848" stop-color="#00ff13"/><stop offset="1" stop-color="#00ff05"/></linearGradient><linearGradient id="a60"><stop offset="0" stop-color="#b6ff00"/><stop offset=".138" stop-color="#afff00"/><stop offset=".157" stop-color="#98ff00"/><stop offset=".186" stop-color="#03ff00"/><stop offset=".2" stop-color="#00ff47"/><stop offset=".224" stop-color="#00ffa5"/><stop offset=".252" stop-color="#00fffd"/><stop offset=".257" stop-color="#00f5ff"/><stop offset=".3" stop-color="#0089ff"/><stop offset=".333" stop-color="#0045ff"/><stop offset=".362" stop-color="#0021ff"/><stop offset=".395" stop-color="#000fff"/><stop offset=".429" stop-color="#0028ff"/><stop offset=".481" stop-color="#007dff"/><stop offset=".576" stop-color="#00feff"/><stop offset=".738" stop-color="#00ff76"/><stop offset=".838" stop-color="#00ff13"/><stop offset="1" stop-color="#00ff04"/></linearGradient><linearGradient id="a61"><stop offset="0" stop-color="#b2ff00"/><stop offset=".133" stop-color="#adff00"/><stop offset=".157" stop-color="#8bff00"/><stop offset=".181" stop-color="#10ff00"/><stop offset=".186" stop-color="#00ff09"/><stop offset=".195" stop-color="#00ff3e"/><stop offset=".219" stop-color="#00ff9e"/><stop offset=".252" stop-color="#00fbff"/><stop offset=".3" stop-color="#0084ff"/><stop offset=".333" stop-color="#0042ff"/><stop offset=".362" stop-color="#001fff"/><stop offset=".395" stop-color="#000fff"/><stop offset=".424" stop-color="#0025ff"/><stop offset=".481" stop-color="#0080ff"/><stop offset=".576" stop-color="#00fffc"/><stop offset=".729" stop-color="#00ff77"/><stop offset=".829" stop-color="#00ff12"/><stop offset="1" stop-color="#00ff03"/></linearGradient><linearGradient id="a62"><stop offset="0" stop-color="#aeff00"/><stop offset=".129" stop-color="#abff00"/><stop offset=".152" stop-color="#8eff00"/><stop offset=".181" stop-color="#04ff00"/><stop offset=".195" stop-color="#00ff4b"/><stop offset=".214" stop-color="#00ff97"/><stop offset=".243" stop-color="#00fff1"/><stop offset=".252" stop-color="#00f4ff"/><stop offset=".295" stop-color="#008aff"/><stop offset=".329" stop-color="#0047ff"/><stop offset=".357" stop-color="#0022ff"/><stop offset=".39" stop-color="#000fff"/><stop offset=".424" stop-color="#0028ff"/><stop offset=".476" stop-color="#007dff"/><stop offset=".571" stop-color="#00fffc"/><stop offset=".819" stop-color="#00ff12"/><stop offset="1" stop-color="#00ff03"/></linearGradient><linearGradient id="a63"><stop offset="0" stop-color="#a9ff00"/><stop offset=".129" stop-color="#a4ff00"/><stop offset=".152" stop-color="#83ff00"/><stop offset=".176" stop-color="#10ff00"/><stop offset=".181" stop-color="#00ff09"/><stop offset=".19" stop-color="#00ff42"/><stop offset=".214" stop-color="#00ffa2"/><stop offset=".248" stop-color="#00faff"/><stop offset=".295" stop-color="#0085ff"/><stop offset=".329" stop-color="#0043ff"/><stop offset=".357" stop-color="#0020ff"/><stop offset=".39" stop-color="#000fff"/><stop offset=".424" stop-color="#002bff"/><stop offset=".476" stop-color="#0080ff"/><stop offset=".567" stop-color="#00fffd"/><stop offset=".805" stop-color="#00ff14"/><stop offset="1" stop-color="#00ff02"/></linearGradient><linearGradient id="a64"><stop offset="0" stop-color="#a5ff00"/><stop offset=".124" stop-color="#a1ff00"/><stop offset=".148" stop-color="#84ff00"/><stop offset=".176" stop-color="#04ff00"/><stop offset=".19" stop-color="#00ff50"/><stop offset=".21" stop-color="#00ff9c"/><stop offset=".243" stop-color="#00ffff"/><stop offset=".248" stop-color="#00f3ff"/><stop offset=".29" stop-color="#008aff"/><stop offset=".324" stop-color="#0047ff"/><stop offset=".352" stop-color="#0022ff"/><stop offset=".386" stop-color="#000fff"/><stop offset=".419" stop-color="#0027ff"/><stop offset=".562" stop-color="#00fffd"/><stop offset=".795" stop-color="#00ff14"/><stop offset="1" stop-color="#00ff02"/></linearGradient><linearGradient id="a65"><stop offset="0" stop-color="#a0ff00"/><stop offset=".119" stop-color="#9eff00"/><stop offset=".148" stop-color="#79ff00"/><stop offset=".171" stop-color="#0fff00"/><stop offset=".176" stop-color="#00ff0a"/><stop offset=".186" stop-color="#00ff47"/><stop offset=".205" stop-color="#00ff96"/><stop offset=".229" stop-color="#00ffe1"/><stop offset=".243" stop-color="#00f8ff"/><stop offset=".29" stop-color="#0083ff"/><stop offset=".324" stop-color="#0043ff"/><stop offset=".352" stop-color="#0020ff"/><stop offset=".386" stop-color="#000fff"/><stop offset=".419" stop-color="#002aff"/><stop offset=".557" stop-color="#00fffe"/><stop offset=".786" stop-color="#00ff13"/><stop offset="1" stop-color="#00ff01"/></linearGradient><linearGradient id="a66"><stop offset="0" stop-color="#9cff00"/><stop offset=".119" stop-color="#97ff00"/><stop offset=".143" stop-color="#79ff00"/><stop offset=".171" stop-color="#01ff00"/><stop offset=".181" stop-color="#00ff3e"/><stop offset=".2" stop-color="#00ff90"/><stop offset=".219" stop-color="#00ffcf"/><stop offset=".238" stop-color="#00fcff"/><stop offset=".286" stop-color="#0087ff"/><stop offset=".319" stop-color="#0046ff"/><stop offset=".348" stop-color="#0021ff"/><stop offset=".381" stop-color="#000fff"/><stop offset=".414" stop-color="#0027ff"/><stop offset=".552" stop-color="#00fffe"/><stop offset=".776" stop-color="#00ff13"/><stop offset="1" stop-color="#00ff00"/></linearGradient><linearGradient id="a67"><stop offset="0" stop-color="#97ff00"/><stop offset=".114" stop-color="#94ff00"/><stop offset=".143" stop-color="#6cff00"/><stop offset=".167" stop-color="#0aff00"/><stop offset=".171" stop-color="#00ff10"/><stop offset=".181" stop-color="#00ff4e"/><stop offset=".2" stop-color="#00ff9c"/><stop offset=".229" stop-color="#00fff2"/><stop offset=".238" stop-color="#00f4ff"/><stop offset=".286" stop-color="#0080ff"/><stop offset=".319" stop-color="#0040ff"/><stop offset=".348" stop-color="#001eff"/><stop offset=".381" stop-color="#000fff"/><stop offset=".414" stop-color="#002aff"/><stop offset=".548" stop-color="#00fffe"/><stop offset=".767" stop-color="#00ff12"/><stop offset="1" stop-color="#00ff00"/></linearGradient><linearGradient id="a68"><stop offset="0" stop-color="#93ff00"/><stop offset=".11" stop-color="#91ff00"/><stop offset=".138" stop-color="#6cff00"/><stop offset=".162" stop-color="#11ff00"/><stop offset=".167" stop-color="#00ff05"/><stop offset=".176" stop-color="#00ff47"/><stop offset=".195" stop-color="#00ff97"/><stop offset=".219" stop-color="#00ffe2"/><stop offset=".233" stop-color="#00f7ff"/><stop offset=".281" stop-color="#0082ff"/><stop offset=".314" stop-color="#0041ff"/><stop offset=".343" stop-color="#001eff"/><stop offset=".376" stop-color="#000eff"/><stop offset=".395" stop-color="#0017ff"/><stop offset=".414" stop-color="#002eff"/><stop offset=".543" stop-color="#00fffe"/><stop offset=".752" stop-color="#00ff14"/><stop offset="1" stop-color="#01ff00"/></linearGradient><linearGradient id="a69"><stop offset="0" stop-color="#8eff00"/><stop offset=".11" stop-color="#89ff00"/><stop offset=".133" stop-color="#6aff00"/><stop offset=".162" stop-color="#02ff00"/><stop offset=".171" stop-color="#00ff3f"/><stop offset=".19" stop-color="#00ff93"/><stop offset=".21" stop-color="#00ffd1"/><stop offset=".229" stop-color="#00faff"/><stop offset=".276" stop-color="#0084ff"/><stop offset=".31" stop-color="#0042ff"/><stop offset=".338" stop-color="#001eff"/><stop offset=".371" stop-color="#000eff"/><stop offset=".39" stop-color="#0015ff"/><stop offset=".41" stop-color="#002bff"/><stop offset=".538" stop-color="#00fffe"/><stop offset=".743" stop-color="#00ff13"/><stop offset="1" stop-color="#01ff00"/></linearGradient><linearGradient id="a70"><stop offset="0" stop-color="#89ff00"/><stop offset=".105" stop-color="#85ff00"/><stop offset=".133" stop-color="#5cff00"/><stop offset=".157" stop-color="#07ff00"/><stop offset=".162" stop-color="#00ff13"/><stop offset=".171" stop-color="#00ff51"/><stop offset=".186" stop-color="#00ff8e"/><stop offset=".205" stop-color="#00ffce"/><stop offset=".224" stop-color="#00fcff"/><stop offset=".271" stop-color="#0086ff"/><stop offset=".305" stop-color="#0043ff"/><stop offset=".333" stop-color="#001eff"/><stop offset=".371" stop-color="#000eff"/><stop offset=".41" stop-color="#002fff"/><stop offset=".533" stop-color="#00fffe"/><stop offset=".681" stop-color="#00ff48"/><stop offset=".733" stop-color="#00ff12"/><stop offset="1" stop-color="#02ff00"/></linearGradient><linearGradient id="a71"><stop offset="0" stop-color="#84ff00"/><stop offset=".1" stop-color="#80ff00"/><stop offset=".129" stop-color="#5aff00"/><stop offset=".152" stop-color="#0bff00"/><stop offset=".157" stop-color="#00ff0c"/><stop offset=".167" stop-color="#00ff4d"/><stop offset=".181" stop-color="#00ff8b"/><stop offset=".219" stop-color="#00feff"/><stop offset=".271" stop-color="#007cff"/><stop offset=".305" stop-color="#003bff"/><stop offset=".333" stop-color="#001aff"/><stop offset=".367" stop-color="#000dff"/><stop offset=".386" stop-color="#0016ff"/><stop offset=".405" stop-color="#002dff"/><stop offset=".529" stop-color="#00fffd"/><stop offset=".667" stop-color="#00ff4b"/><stop offset=".719" stop-color="#00ff14"/><stop offset="1" stop-color="#02ff00"/></linearGradient><linearGradient id="a72"><stop offset="0" stop-color="#80ff00"/><stop offset=".095" stop-color="#7bff00"/><stop offset=".124" stop-color="#56ff00"/><stop offset=".148" stop-color="#0dff00"/><stop offset=".152" stop-color="#00ff08"/><stop offset=".162" stop-color="#00ff49"/><stop offset=".181" stop-color="#00ff9a"/><stop offset=".21" stop-color="#00fff2"/><stop offset=".219" stop-color="#00f3ff"/><stop offset=".267" stop-color="#007cff"/><stop offset=".3" stop-color="#003aff"/><stop offset=".329" stop-color="#0019ff"/><stop offset=".362" stop-color="#000dff"/><stop offset=".381" stop-color="#0015ff"/><stop offset=".4" stop-color="#002bff"/><stop offset=".524" stop-color="#00fffc"/><stop offset=".657" stop-color="#00ff49"/><stop offset=".71" stop-color="#00ff13"/><stop offset="1" stop-color="#03ff00"/></linearGradient><linearGradient id="a73"><stop offset="0" stop-color="#7bff00"/><stop offset=".09" stop-color="#76ff00"/><stop offset=".119" stop-color="#52ff00"/><stop offset=".148" stop-color="#00ff05"/><stop offset=".157" stop-color="#00ff46"/><stop offset=".176" stop-color="#00ff98"/><stop offset=".205" stop-color="#00fff1"/><stop offset=".214" stop-color="#00f4ff"/><stop offset=".262" stop-color="#007cff"/><stop offset=".295" stop-color="#0039ff"/><stop offset=".324" stop-color="#0017ff"/><stop offset=".357" stop-color="#000cff"/><stop offset=".376" stop-color="#0013ff"/><stop offset=".4" stop-color="#0030ff"/><stop offset=".519" stop-color="#00fffa"/><stop offset=".643" stop-color="#00ff4c"/><stop offset=".695" stop-color="#00ff14"/><stop offset="1" stop-color="#03ff00"/></linearGradient><linearGradient id="a74"><stop offset="0" stop-color="#75ff00"/><stop offset=".086" stop-color="#71ff00"/><stop offset=".114" stop-color="#4dff00"/><stop offset=".143" stop-color="#00ff05"/><stop offset=".152" stop-color="#00ff44"/><stop offset=".171" stop-color="#00ff96"/><stop offset=".2" stop-color="#00fff1"/><stop offset=".21" stop-color="#00f4ff"/><stop offset=".257" stop-color="#007bff"/><stop offset=".29" stop-color="#0038ff"/><stop offset=".319" stop-color="#0016ff"/><stop offset=".357" stop-color="#000cff"/><stop offset=".376" stop-color="#0017ff"/><stop offset=".4" stop-color="#0036ff"/><stop offset=".51" stop-color="#00feff"/><stop offset=".629" stop-color="#00ff4e"/><stop offset=".686" stop-color="#00ff12"/><stop offset="1" stop-color="#04ff00"/></linearGradient><linearGradient id="a75"><stop offset="0" stop-color="#70ff00"/><stop offset=".076" stop-color="#6fff00"/><stop offset=".11" stop-color="#47ff00"/><stop offset=".138" stop-color="#00ff06"/><stop offset=".148" stop-color="#00ff44"/><stop offset=".167" stop-color="#00ff96"/><stop offset=".195" stop-color="#00fff1"/><stop offset=".205" stop-color="#00f4ff"/><stop offset=".252" stop-color="#007aff"/><stop offset=".286" stop-color="#0036ff"/><stop offset=".314" stop-color="#0014ff"/><stop offset=".352" stop-color="#000cff"/><stop offset=".371" stop-color="#0016ff"/><stop offset=".395" stop-color="#0035ff"/><stop offset=".505" stop-color="#00fffe"/><stop offset=".59" stop-color="#00ff72"/><stop offset=".671" stop-color="#00ff13"/><stop offset="1" stop-color="#04ff00"/></linearGradient><linearGradient id="a76"><stop offset="0" stop-color="#6bff00"/><stop offset=".071" stop-color="#69ff00"/><stop offset=".105" stop-color="#41ff00"/><stop offset=".129" stop-color="#09ff00"/><stop offset=".133" stop-color="#00ff09"/><stop offset=".143" stop-color="#00ff46"/><stop offset=".167" stop-color="#00ffa8"/><stop offset=".195" stop-color="#00ffff"/><stop offset=".2" stop-color="#00f3ff"/><stop offset=".248" stop-color="#0078ff"/><stop offset=".281" stop-color="#0034ff"/><stop offset=".31" stop-color="#0013ff"/><stop offset=".348" stop-color="#000bff"/><stop offset=".367" stop-color="#0016ff"/><stop offset=".39" stop-color="#0035ff"/><stop offset=".5" stop-color="#00fffa"/><stop offset=".576" stop-color="#00ff75"/><stop offset=".633" stop-color="#00ff29"/><stop offset=".662" stop-color="#00ff11"/><stop offset="1" stop-color="#05ff00"/></linearGradient><linearGradient id="a77"><stop offset="0" stop-color="#65ff00"/><stop offset=".067" stop-color="#63ff00"/><stop offset=".1" stop-color="#3bff00"/><stop offset=".124" stop-color="#06ff00"/><stop offset=".129" stop-color="#00ff0e"/><stop offset=".138" stop-color="#00ff48"/><stop offset=".157" stop-color="#00ff98"/><stop offset=".19" stop-color="#00feff"/><stop offset=".243" stop-color="#0076ff"/><stop offset=".276" stop-color="#0032ff"/><stop offset=".305" stop-color="#0011ff"/><stop offset=".338" stop-color="#000bff"/><stop offset=".362" stop-color="#0015ff"/><stop offset=".386" stop-color="#0035ff"/><stop offset=".438" stop-color="#0090ff"/><stop offset=".49" stop-color="#00ffff"/><stop offset=".562" stop-color="#00ff77"/><stop offset=".614" stop-color="#00ff30"/><stop offset=".648" stop-color="#00ff12"/><stop offset="1" stop-color="#05ff00"/></linearGradient><linearGradient id="a78"><stop offset="0" stop-color="#60ff00"/><stop offset=".062" stop-color="#5cff00"/><stop offset=".09" stop-color="#3bff00"/><stop offset=".119" stop-color="#01ff00"/><stop offset=".133" stop-color="#00ff4d"/><stop offset=".148" stop-color="#00ff89"/><stop offset=".167" stop-color="#00ffcc"/><stop offset=".186" stop-color="#00fbff"/><stop offset=".238" stop-color="#0073ff"/><stop offset=".271" stop-color="#002fff"/><stop offset=".3" stop-color="#000fff"/><stop offset=".333" stop-color="#000bff"/><stop offset=".357" stop-color="#0016ff"/><stop offset=".381" stop-color="#0035ff"/><stop offset=".433" stop-color="#0092ff"/><stop offset=".486" stop-color="#00fffa"/><stop offset=".548" stop-color="#00ff78"/><stop offset=".6" stop-color="#00ff30"/><stop offset=".633" stop-color="#00ff12"/><stop offset="1" stop-color="#05ff00"/></linearGradient><linearGradient id="a79"><stop offset="0" stop-color="#5aff00"/><stop offset=".052" stop-color="#58ff00"/><stop offset=".086" stop-color="#34ff00"/><stop offset=".114" stop-color="#00ff05"/><stop offset=".124" stop-color="#00ff3c"/><stop offset=".143" stop-color="#00ff8d"/><stop offset=".167" stop-color="#00ffde"/><stop offset=".181" stop-color="#00f9ff"/><stop offset=".233" stop-color="#0070ff"/><stop offset=".267" stop-color="#002dff"/><stop offset=".295" stop-color="#000eff"/><stop offset=".329" stop-color="#000aff"/><stop offset=".352" stop-color="#0016ff"/><stop offset=".376" stop-color="#0036ff"/><stop offset=".429" stop-color="#0094ff"/><stop offset=".476" stop-color="#00fffd"/><stop offset=".533" stop-color="#00ff79"/><stop offset=".581" stop-color="#00ff35"/><stop offset=".619" stop-color="#00ff12"/><stop offset="1" stop-color="#06ff00"/></linearGradient><linearGradient id="a80"><stop offset="0" stop-color="#54ff00"/><stop offset=".048" stop-color="#51ff00"/><stop offset=".081" stop-color="#2dff00"/><stop offset=".105" stop-color="#03ff00"/><stop offset=".11" stop-color="#00ff0f"/><stop offset=".119" stop-color="#00ff45"/><stop offset=".143" stop-color="#00ffa4"/><stop offset=".167" stop-color="#00fff0"/><stop offset=".176" stop-color="#00f5ff"/><stop offset=".229" stop-color="#006dff"/><stop offset=".262" stop-color="#002aff"/><stop offset=".29" stop-color="#000dff"/><stop offset=".324" stop-color="#000aff"/><stop offset=".348" stop-color="#0017ff"/><stop offset=".376" stop-color="#0040ff"/><stop offset=".424" stop-color="#0097ff"/><stop offset=".467" stop-color="#00fdff"/><stop offset=".519" stop-color="#00ff7a"/><stop offset=".567" stop-color="#00ff34"/><stop offset=".605" stop-color="#00ff11"/><stop offset=".833" stop-color="#00ff00"/><stop offset="1" stop-color="#06ff00"/></linearGradient><linearGradient id="a81"><stop offset="0" stop-color="#4eff00"/><stop offset=".038" stop-color="#4cff00"/><stop offset=".071" stop-color="#2bff00"/><stop offset=".1" stop-color="#00ff05"/><stop offset=".114" stop-color="#00ff4e"/><stop offset=".129" stop-color="#00ff87"/><stop offset=".167" stop-color="#00fdff"/><stop offset=".219" stop-color="#0075ff"/><stop offset=".252" stop-color="#0030ff"/><stop offset=".281" stop-color="#000eff"/><stop offset=".314" stop-color="#000aff"/><stop offset=".338" stop-color="#0014ff"/><stop offset=".367" stop-color="#003bff"/><stop offset=".414" stop-color="#0092ff"/><stop offset=".457" stop-color="#00fbff"/><stop offset=".462" stop-color="#00fff6"/><stop offset=".505" stop-color="#00ff7a"/><stop offset=".538" stop-color="#00ff45"/><stop offset=".586" stop-color="#00ff13"/><stop offset=".819" stop-color="#00ff00"/><stop offset="1" stop-color="#07ff00"/></linearGradient><linearGradient id="a82"><stop offset="0" stop-color="#48ff00"/><stop offset=".033" stop-color="#43ff00"/><stop offset=".09" stop-color="#00ff03"/><stop offset=".105" stop-color="#00ff49"/><stop offset=".129" stop-color="#00ffa3"/><stop offset=".152" stop-color="#00ffed"/><stop offset=".162" stop-color="#00f8ff"/><stop offset=".214" stop-color="#0071ff"/><stop offset=".248" stop-color="#002dff"/><stop offset=".276" stop-color="#000dff"/><stop offset=".31" stop-color="#000aff"/><stop offset=".333" stop-color="#0017ff"/><stop offset=".362" stop-color="#003fff"/><stop offset=".405" stop-color="#008eff"/><stop offset=".448" stop-color="#00faff"/><stop offset=".452" stop-color="#00fff7"/><stop offset=".49" stop-color="#00ff79"/><stop offset=".524" stop-color="#00ff42"/><stop offset=".571" stop-color="#00ff12"/><stop offset=".8" stop-color="#00ff00"/><stop offset="1" stop-color="#07ff00"/></linearGradient><linearGradient id="a83"><stop offset="0" stop-color="#41ff00"/><stop offset=".024" stop-color="#3bff00"/><stop offset=".076" stop-color="#00ff01"/><stop offset=".114" stop-color="#00ff94"/><stop offset=".152" stop-color="#00fcff"/><stop offset=".21" stop-color="#006aff"/><stop offset=".238" stop-color="#0030ff"/><stop offset=".267" stop-color="#000fff"/><stop offset=".3" stop-color="#000cff"/><stop offset=".324" stop-color="#0018ff"/><stop offset=".348" stop-color="#0039ff"/><stop offset=".4" stop-color="#009aff"/><stop offset=".438" stop-color="#00fcff"/><stop offset=".443" stop-color="#00fff2"/><stop offset=".467" stop-color="#00ff94"/><stop offset=".476" stop-color="#00ff78"/><stop offset=".505" stop-color="#00ff44"/><stop offset=".552" stop-color="#00ff13"/><stop offset=".786" stop-color="#00ff00"/><stop offset="1" stop-color="#07ff00"/></linearGradient><linearGradient id="a84"><stop offset="0" stop-color="#39ff00"/><stop offset=".057" stop-color="#03ff00"/><stop offset=".105" stop-color="#00ff9b"/><stop offset=".143" stop-color="#00fdff"/><stop offset=".2" stop-color="#006cff"/><stop offset=".229" stop-color="#0031ff"/><stop offset=".257" stop-color="#0010ff"/><stop offset=".29" stop-color="#000dff"/><stop offset=".314" stop-color="#001cff"/><stop offset=".338" stop-color="#003eff"/><stop offset=".39" stop-color="#00a1ff"/><stop offset=".429" stop-color="#00fffa"/><stop offset=".452" stop-color="#00ff92"/><stop offset=".462" stop-color="#00ff74"/><stop offset=".486" stop-color="#00ff44"/><stop offset=".533" stop-color="#00ff13"/><stop offset=".767" stop-color="#00ff00"/><stop offset="1" stop-color="#08ff00"/></linearGradient><linearGradient id="a85"><stop offset="0" stop-color="#29ff00"/><stop offset=".038" stop-color="#02ff00"/><stop offset=".043" stop-color="#00ff09"/><stop offset=".09" stop-color="#00ff97"/><stop offset=".133" stop-color="#00fbff"/><stop offset=".19" stop-color="#006cff"/><stop offset=".219" stop-color="#0031ff"/><stop offset=".243" stop-color="#0014ff"/><stop offset=".276" stop-color="#0010ff"/><stop offset=".3" stop-color="#001dff"/><stop offset=".324" stop-color="#003fff"/><stop offset=".381" stop-color="#00abff"/><stop offset=".414" stop-color="#00fffd"/><stop offset=".438" stop-color="#00ff8d"/><stop offset=".462" stop-color="#00ff4b"/><stop offset=".49" stop-color="#00ff24"/><stop offset=".514" stop-color="#00ff12"/><stop offset=".748" stop-color="#00ff00"/><stop offset="1" stop-color="#08ff00"/></linearGradient><linearGradient id="a86"><stop offset="0" stop-color="#13ff00"/><stop offset=".019" stop-color="#00ff01"/><stop offset=".095" stop-color="#00ffc4"/><stop offset=".124" stop-color="#00f8ff"/><stop offset=".181" stop-color="#0068ff"/><stop offset=".21" stop-color="#002eff"/><stop offset=".233" stop-color="#0015ff"/><stop offset=".262" stop-color="#0013ff"/><stop offset=".281" stop-color="#001cff"/><stop offset=".305" stop-color="#003bff"/><stop offset=".371" stop-color="#00b9ff"/><stop offset=".4" stop-color="#00fffa"/><stop offset=".424" stop-color="#00ff82"/><stop offset=".443" stop-color="#00ff47"/><stop offset=".49" stop-color="#00ff13"/><stop offset=".724" stop-color="#00ff00"/><stop offset="1" stop-color="#09ff00"/></linearGradient><linearGradient id="a87"><stop offset="0" stop-color="#00ff05"/><stop offset=".11" stop-color="#00feff"/><stop offset=".186" stop-color="#0044ff"/><stop offset=".21" stop-color="#0020ff"/><stop offset=".229" stop-color="#0017ff"/><stop offset=".257" stop-color="#0019ff"/><stop offset=".281" stop-color="#0032ff"/><stop offset=".357" stop-color="#00bfff"/><stop offset=".381" stop-color="#00fcff"/><stop offset=".386" stop-color="#00fff0"/><stop offset=".405" stop-color="#00ff84"/><stop offset=".419" stop-color="#00ff4b"/><stop offset=".443" stop-color="#00ff26"/><stop offset=".467" stop-color="#00ff13"/><stop offset=".7" stop-color="#00ff00"/><stop offset="1" stop-color="#09ff00"/></linearGradient><linearGradient id="a88"><stop offset="0" stop-color="#00ff2a"/><stop offset=".095" stop-color="#00fffc"/><stop offset=".176" stop-color="#003eff"/><stop offset=".195" stop-color="#0023ff"/><stop offset=".214" stop-color="#001bff"/><stop offset=".243" stop-color="#001eff"/><stop offset=".267" stop-color="#0038ff"/><stop offset=".338" stop-color="#00bdff"/><stop offset=".362" stop-color="#00f9ff"/><stop offset=".367" stop-color="#00fff3"/><stop offset=".386" stop-color="#00ff7d"/><stop offset=".395" stop-color="#00ff4f"/><stop offset=".419" stop-color="#00ff26"/><stop offset=".448" stop-color="#00ff11"/><stop offset=".681" stop-color="#00ff00"/><stop offset="1" stop-color="#09ff00"/></linearGradient><linearGradient id="a89"><stop offset="0" stop-color="#00ff46"/><stop offset=".086" stop-color="#00fbff"/><stop offset=".162" stop-color="#0041ff"/><stop offset=".181" stop-color="#0026ff"/><stop offset=".2" stop-color="#001fff"/><stop offset=".224" stop-color="#0021ff"/><stop offset=".248" stop-color="#0038ff"/><stop offset=".319" stop-color="#00bcff"/><stop offset=".343" stop-color="#00fcff"/><stop offset=".348" stop-color="#00ffec"/><stop offset=".371" stop-color="#00ff4c"/><stop offset=".39" stop-color="#00ff2a"/><stop offset=".419" stop-color="#00ff13"/><stop offset=".652" stop-color="#00ff00"/><stop offset="1" stop-color="#09ff00"/></linearGradient><linearGradient id="a90"><stop offset="0" stop-color="#00ff5a"/><stop offset=".071" stop-color="#00fbff"/><stop offset=".143" stop-color="#004aff"/><stop offset=".162" stop-color="#002dff"/><stop offset=".181" stop-color="#0024ff"/><stop offset=".21" stop-color="#0027ff"/><stop offset=".233" stop-color="#0043ff"/><stop offset=".295" stop-color="#00baff"/><stop offset=".319" stop-color="#00ffff"/><stop offset=".324" stop-color="#00ffe4"/><stop offset=".338" stop-color="#00ff77"/><stop offset=".348" stop-color="#00ff46"/><stop offset=".371" stop-color="#00ff23"/><stop offset=".395" stop-color="#00ff12"/><stop offset=".629" stop-color="#00ff00"/><stop offset="1" stop-color="#0aff00"/></linearGradient><linearGradient id="a91"><stop offset="0" stop-color="#00ff6e"/><stop offset=".052" stop-color="#00fffd"/><stop offset=".124" stop-color="#0050ff"/><stop offset=".143" stop-color="#0033ff"/><stop offset=".162" stop-color="#002aff"/><stop offset=".186" stop-color="#002cff"/><stop offset=".21" stop-color="#0045ff"/><stop offset=".262" stop-color="#00afff"/><stop offset=".286" stop-color="#00f4ff"/><stop offset=".29" stop-color="#00fff4"/><stop offset=".305" stop-color="#00ff84"/><stop offset=".319" stop-color="#00ff4a"/><stop offset=".343" stop-color="#00ff26"/><stop offset=".371" stop-color="#00ff11"/><stop offset=".605" stop-color="#00ff00"/><stop offset="1" stop-color="#0aff00"/></linearGradient><linearGradient id="a92"><stop offset="0" stop-color="#00ff8f"/><stop offset=".029" stop-color="#00ffeb"/><stop offset=".038" stop-color="#00faff"/><stop offset=".1" stop-color="#005dff"/><stop offset=".119" stop-color="#003eff"/><stop offset=".138" stop-color="#0033ff"/><stop offset=".167" stop-color="#0036ff"/><stop offset=".186" stop-color="#004eff"/><stop offset=".229" stop-color="#00abff"/><stop offset=".252" stop-color="#00fbff"/><stop offset=".257" stop-color="#00ffe8"/><stop offset=".271" stop-color="#00ff7c"/><stop offset=".286" stop-color="#00ff4f"/><stop offset=".314" stop-color="#00ff24"/><stop offset=".343" stop-color="#00ff11"/><stop offset=".571" stop-color="#00ff00"/><stop offset="1" stop-color="#0aff00"/></linearGradient><linearGradient id="a93"><stop offset="0" stop-color="#00ffc2"/><stop offset=".019" stop-color="#00ffff"/><stop offset=".081" stop-color="#0062ff"/><stop offset=".1" stop-color="#0045ff"/><stop offset=".119" stop-color="#003eff"/><stop offset=".143" stop-color="#0041ff"/><stop offset=".162" stop-color="#005cff"/><stop offset=".195" stop-color="#00acff"/><stop offset=".214" stop-color="#00f7ff"/><stop offset=".219" stop-color="#00ffeb"/><stop offset=".233" stop-color="#00ff7d"/><stop offset=".248" stop-color="#00ff51"/><stop offset=".276" stop-color="#00ff25"/><stop offset=".305" stop-color="#00ff11"/><stop offset=".533" stop-color="#00ff00"/><stop offset="1" stop-color="#0aff00"/></linearGradient><linearGradient id="a94"><stop offset="0" stop-color="#00ffef"/><stop offset=".01" stop-color="#00f5ff"/><stop offset=".067" stop-color="#0065ff"/><stop offset=".095" stop-color="#004bff"/><stop offset=".119" stop-color="#004eff"/><stop offset=".133" stop-color="#0063ff"/><stop offset=".162" stop-color="#00afff"/><stop offset=".176" stop-color="#00eeff"/><stop offset=".181" stop-color="#00fff5"/><stop offset=".195" stop-color="#00ff7c"/><stop offset=".205" stop-color="#00ff44"/><stop offset=".229" stop-color="#00ff21"/><stop offset=".252" stop-color="#00ff12"/><stop offset=".486" stop-color="#00ff00"/><stop offset="1" stop-color="#0aff00"/></linearGradient><linearGradient id="a95"><stop offset="0" stop-color="#00e4ff"/><stop offset=".029" stop-color="#0099ff"/><stop offset=".048" stop-color="#0073ff"/><stop offset=".062" stop-color="#0065ff"/><stop offset=".086" stop-color="#0064ff"/><stop offset=".095" stop-color="#0071ff"/><stop offset=".114" stop-color="#00a9ff"/><stop offset=".124" stop-color="#00cbff"/><stop offset=".133" stop-color="#00fdff"/><stop offset=".143" stop-color="#00ffce"/><stop offset=".148" stop-color="#00ff44"/><stop offset=".167" stop-color="#00ff1e"/><stop offset=".186" stop-color="#00ff11"/><stop offset=".419" stop-color="#00ff00"/><stop offset="1" stop-color="#0aff00"/></linearGradient><linearGradient id="a96"><stop offset="0" stop-color="#00deff"/><stop offset=".019" stop-color="#00e2ff"/><stop offset=".033" stop-color="#00fffd"/><stop offset=".043" stop-color="#00ffe7"/><stop offset=".057" stop-color="#00ffb8"/><stop offset=".062" stop-color="#00ff45"/><stop offset=".081" stop-color="#00ff1f"/><stop offset=".1" stop-color="#00ff12"/><stop offset=".338" stop-color="#00ff00"/><stop offset="1" stop-color="#0aff00"/></linearGradient></defs>
<rect x="103.5" y="54" width="420.1" height="10.5" fill="url(#a0)"/><rect x="103.5" y="64" width="420.1" height="10.5" fill="url(#a1)"/><rect x="103.5" y="74" width="420.1" height="10.5" fill="url(#a2)"/><rect x="103.5" y="84" width="420.1" height="10.5" fill="url(#a3)"/><rect x="103.5" y="94" width="420.1" height="11.5" fill="url(#a4)"/><rect x="103.5" y="105" width="420.1" height="12.5" fill="url(#a5)"/><rect x="103.5" y="117" width="420.1" height="13.5" fill="url(#a6)"/><rect x="103.5" y="130" width="420.1" height="16.5" fill="url(#a7)"/><rect x="103.5" y="146" width="420.1" height="20.5" fill="url(#a8)"/><rect x="103.5" y="166" width="420.1" height="22.5" fill="url(#a9)"/><rect x="103.5" y="188" width="420.1" height="24.5" fill="url(#a10)"/><rect x="103.5" y="212" width="420.1" height="22.5" fill="url(#a11)"/><rect x="103.5" y="234" width="420.1" height="19.5" fill="url(#a12)"/><rect x="103.5" y="253" width="420.1" height="13.5" fill="url(#a13)"/><rect x="103.5" y="266" width="420.1" height="9.5" fill="url(#a14)"/><rect x="103.5" y="275" width="420.1" height="7.5" fill="url(#a15)"/><rect x="103.5" y="282" width="420.1" height="6.5" fill="url(#a16)"/><rect x="103.5" y="288" width="420.1" height="6.5" fill="url(#a17)"/><rect x="103.5" y="294" width="420.1" height="6.5" fill="url(#a18)"/><rect x="103.5" y="300" width="420.1" height="6.5" fill="url(#a19)"/><rect x="103.5" y="306" width="420.1" height="6.5" fill="url(#a20)"/><rect x="103.5" y="312" width="420.1" height="6.5" fill="url(#a21)"/><rect x="103.5" y="318" width="420.1" height="6.5" fill="url(#a22)"/><rect x="103.5" y="324" width="420.1" height="5.5" fill="url(#a23)"/><rect x="103.5" y="329" width="420.1" height="5.5" fill="url(#a24)"/><rect x="103.5" y="334" width="420.1" height="5.5" fill="url(#a25)"/><rect x="103.5" y="339" width="420.1" height="5.5" fill="url(#a26)"/><rect x="103.5" y="344" width="420.1" height="5.5" fill="url(#a27)"/><rect x="103.5" y="349" width="420.1" height="5.5" fill="url(#a28)"/><rect x="103.5" y="354" width="420.1" height="5.5" fill="url(#a29)"/><rect x="103.5" y="359" width="420.1" height="5.5" fill="url(#a30)"/><rect x="103.5" y="364" width="420.1" height="4.5" fill="url(#a31)"/><rect x="103.5" y="368" width="420.1" height="4.5" fill="url(#a32)"/><rect x="103.5" y="372" width="420.1" height="4.5" fill="url(#a33)"/><rect x="103.5" y="376" width="420.1" height="3.5" fill="url(#a34)"/><rect x="103.5" y="379" width="420.1" height="3.5" fill="url(#a35)"/><rect x="103.5" y="382" width="420.1" height="3.5" fill="url(#a36)"/><rect x="103.5" y="385" width="420.1" height="3.5" fill="url(#a37)"/><rect x="103.5" y="388" width="420.1" height="3.5" fill="url(#a38)"/><rect x="103.5" y="391" width="420.1" height="3.5" fill="url(#a39)"/><rect x="103.5" y="394" width="420.1" height="2.5" fill="url(#a40)"/><rect x="103.5" y="396" width="420.1" height="2.5" fill="url(#a41)"/><rect x="103.5" y="398" width="420.1" height="2.5" fill="url(#a42)"/><rect x="103.5" y="400" width="420.1" height="2.5" fill="url(#a43)"/><rect x="103.5" y="402" width="420.1" height="2.5" fill="url(#a44)"/><rect x="103.5" y="404" width="420.1" height="2.5" fill="url(#a45)"/><rect x="103.5" y="406" width="420.1" height="2.5" fill="url(#a46)"/><rect x="103.5" y="408" width="420.1" height="1.5" fill="url(#a47)"/><rect x="103.5" y="409" width="420.1" height="1.5" fill="url(#a48)"/><rect x="103.5" y="410" width="420.1" height="1.5" fill="url(#a49)"/><rect x="103.5" y="411" width="420.1" height="1.5" fill="url(#a50)"/><rect x="103.5" y="412" width="420.1" height="1.5" fill="url(#a51)"/><rect x="103.5" y="413" width="420.1" height="1.5" fill="url(#a52)"/><rect x="103.5" y="414" width="420.1" height="1.5" fill="url(#a53)"/><rect x="103.5" y="415" width="420.1" height="1.5" fill="url(#a54)"/><rect x="103.5" y="416" width="420.1" height="1.5" fill="url(#a55)"/><rect x="103.5" y="417" width="420.1" height="1.5" fill="url(#a56)"/><rect x="103.5" y="418" width="420.1" height="1.5" fill="url(#a57)"/><rect x="103.5" y="419" width="420.1" height="1.5" fill="url(#a58)"/><rect x="103.5" y="420" width="420.1" height="1.5" fill="url(#a59)"/><rect x="103.5" y="421" width="420.1" height="1.5" fill="url(#a60)"/><rect x="103.5" y="422" width="420.1" height="1.5" fill="url(#a61)"/><rect x="103.5" y="423" width="420.1" height="1.5" fill="url(#a62)"/><rect x="103.5" y="424" width="420.1" height="1.5" fill="url(#a63)"/><rect x="103.5" y="425" width="420.1" height="1.5" fill="url(#a64)"/><rect x="103.5" y="426" width="420.1" height="1.5" fill="url(#a65)"/><rect x="103.5" y="427" width="420.1" height="1.5" fill="url(#a66)"/><rect x="103.5" y="428" width="420.1" height="1.5" fill="url(#a67)"/><rect x="103.5" y="429" width="420.1" height="1.5" fill="url(#a68)"/><rect x="103.5" y="430" width="420.1" height="1.5" fill="url(#a69)"/><rect x="103.5" y="431" width="420.1" height="1.5" fill="url(#a70)"/><rect x="103.5" y="432" width="420.1" height="1.5" fill="url(#a71)"/><rect x="103.5" y="433" width="420.1" height="1.5" fill="url(#a72)"/><rect x="103.5" y="434" width="420.1" height="1.5" fill="url(#a73)"/><rect x="103.5" y="435" width="420.1" height="1.5" fill="url(#a74)"/><rect x="103.5" y="436" width="420.1" height="1.5" fill="url(#a75)"/><rect x="103.5" y="437" width="420.1" height="1.5" fill="url(#a76)"/><rect x="103.5" y="438" width="420.1" height="1.5" fill="url(#a77)"/><rect x="103.5" y="439" width="420.1" height="1.5" fill="url(#a78)"/><rect x="103.5" y="440" width="420.1" height="1.5" fill="url(#a79)"/><rect x="103.5" y="441" width="420.1" height="1.5" fill="url(#a80)"/><rect x="103.5" y="442" width="420.1" height="1.5" fill="url(#a81)"/><rect x="103.5" y="443" width="420.1" height="1.5" fill="url(#a82)"/><rect x="103.5" y="444" width="420.1" height="1.5" fill="url(#a83)"/><rect x="103.5" y="445" width="420.1" height="1.5" fill="url(#a84)"/><rect x="103.5" y="446" width="420.1" height="1.5" fill="url(#a85)"/><rect x="103.5" y="447" width="420.1" height="1.5" fill="url(#a86)"/><rect x="103.5" y="448" width="420.1" height="1.5" fill="url(#a87)"/><rect x="103.5" y="449" width="420.1" height="1.5" fill="url(#a88)"/><rect x="103.5" y="450" width="420.1" height="1.5" fill="url(#a89)"/><rect x="103.5" y="451" width="420.1" height="1.5" fill="url(#a90)"/><rect x="103.5" y="452" width="420.1" height="1.5" fill="url(#a91)"/><rect x="103.5" y="453" width="420.1" height="1.5" fill="url(#a92)"/><rect x="103.5" y="454" width="420.1" height="1.5" fill="url(#a93)"/><rect x="103.5" y="455" width="420.1" height="1.5" fill="url(#a94)"/><rect x="103.5" y="456" width="420.1" height="1.5" fill="url(#a95)"/><rect x="103.5" y="457" width="420.1" height="1" fill="url(#a96)"/><path d="M103.5 450.5C104.8 450.3 108.6 449.5 111.6 449.1C114.5 448.6 117.9 448.1 121.2 447.7C124.4 447.2 128 446.7 131.2 446.2C134.3 445.8 137.6 445.3 140.3 444.8C143 444.4 145.5 443.9 147.5 443.4C149.5 443 150.7 442.5 152.1 442C153.5 441.5 154.8 441.1 156 440.6C157.3 440.1 158.5 439.7 159.6 439.2C160.8 438.7 161.9 438.2 162.9 437.8C164 437.3 165 436.8 165.9 436.4C166.9 435.9 167.8 435.4 168.7 434.9C169.6 434.5 170.4 434 171.2 433.5C172 433.1 172.8 432.6 173.5 432.1C174.3 431.7 175 431.2 175.7 430.7C176.4 430.2 177 429.8 177.7 429.3C178.3 428.8 179 428.4 179.6 427.9C180.2 427.4 180.8 426.9 181.4 426.5C182 426 182.6 425.5 183.1 425.1C183.7 424.6 184.3 424.1 184.9 423.6C185.4 423.2 186 422.7 186.5 422.2C187.1 421.8 187.6 421.3 188.1 420.8C188.6 420.3 189.2 419.9 189.7 419.4C190.2 418.9 190.7 418.5 191.2 418C191.6 417.5 192.1 417.1 192.6 416.6C193.1 416.1 193.5 415.6 194 415.2C194.4 414.7 194.9 414.2 195.3 413.8C195.7 413.3 196.1 412.8 196.6 412.3C197 411.9 197.4 411.4 197.8 410.9C198.2 410.5 198.2 410.4 198.9 409.5C199.6 408.6 200.3 408.2 201.9 405.5C203.4 402.8 206.5 397.4 208.3 393.4C210.2 389.3 211.6 385.3 213 381.2C214.5 377.2 215.6 373.2 216.8 369.1C218 365.1 219.1 361 220.2 357C221.3 353 222.3 348.9 223.3 344.9C224.3 340.8 225.2 336.8 226 332.8C226.8 328.7 227.5 324.7 228.2 320.6C228.9 316.6 229.5 312.6 230.1 308.5C230.7 304.5 231.3 300.4 231.8 296.4C232.4 292.4 232.9 288.3 233.4 284.3C233.9 280.2 234.3 276.2 234.7 272.2C235.2 268.1 235.6 264.1 235.9 260C236.2 256 236.5 252 236.8 247.9C237.1 243.9 237.3 239.8 237.6 235.8C237.8 231.8 238 227.7 238.3 223.7C238.5 219.6 238.7 215.6 238.9 211.6C239.1 207.5 239.2 203.5 239.4 199.4C239.6 195.4 239.7 191.4 239.9 187.3C240.1 183.3 240.2 179.2 240.4 175.2C240.5 171.2 240.7 167.1 240.8 163.1C241 159 241.1 155 241.3 151C241.4 146.9 241.6 142.9 241.7 138.8C241.9 134.8 242 130.8 242.2 126.7C242.3 122.7 242.5 118.6 242.6 114.6C242.7 110.6 242.9 106.5 243 102.5C243.1 98.4 243.3 94.4 243.4 90.4C243.5 86.3 243.6 82.3 243.7 78.2C243.9 74.2 244 70.2 244.1 66.1C244.2 62.1 244.3 56 244.4 54" stroke="#042" stroke-width="1.2" fill="none" opacity=".8"/><path d="M103.5 458C106.3 458 114.7 457.9 120.3 457.9C125.9 457.8 131.5 457.7 137.1 457.5C142.7 457.4 148.3 457.2 153.9 457C159.5 456.8 165.1 456.6 170.7 456.4C176.3 456.2 181.9 456 187.5 455.7C193.1 455.5 198.7 455.2 204.3 454.8C209.9 454.5 215.5 454 221.1 453.6C226.7 453.2 232.3 452.8 237.9 452.4C243.5 451.9 249.1 451.5 254.7 451C260.3 450.5 265.9 450 271.5 449.4C277.1 448.9 282.7 448.3 288.3 447.7C293.9 447.1 299.5 446.4 305.1 445.7C310.7 445 316.4 444.3 322 443.5C327.6 442.8 333.2 442 338.8 441.2C344.4 440.3 350 439.5 355.6 438.6C361.2 437.6 366.8 436.7 372.4 435.7C378 434.6 383.6 433.5 389.2 432.3C394.8 431.1 400.4 429.8 406 428.4C411.6 427.1 417.2 425.7 422.8 424.3C428.4 422.9 434 421.5 439.6 420.1C445.2 418.6 450.8 417.2 456.4 415.8C462 414.3 467.6 412.9 473.2 411.3C478.8 409.8 484.4 408.3 490 406.7C495.6 405.1 501.2 403.5 506.8 401.7C512.4 400 520.8 397.2 523.6 396.3" stroke="#042" stroke-width="1.2" fill="none" opacity=".8"/>
<!-- panel b --><clipPath id="bclip"><path d="M712.5 54L898.4 54L898.4 412.8L889.8 412.8L889.8 427.1L881 427.1L881 432.6L873.1 432.6L873.1 436.6L865.1 436.6L865.1 439.7L856.4 439.7L856.4 442.2L848 442.2L848 443.6L838.7 444.9L827.8 446.4L817.7 447.7L806.7 449.4L796.6 450.9L775.6 452.9L754.6 454.8L733.5 456.5L712.5 458Z"/></clipPath><g clip-path="url(#bclip)"><defs><linearGradient id="b0"><stop offset="0" stop-color="#ff6b00"/><stop offset=".408" stop-color="#ff6b00"/><stop offset=".458" stop-color="#ff7700"/><stop offset=".508" stop-color="#ff5100"/><stop offset=".558" stop-color="#ff5000"/><stop offset=".575" stop-color="#ff3d00"/><stop offset=".625" stop-color="#ff3b00"/><stop offset=".642" stop-color="#ff2900"/><stop offset=".7" stop-color="#ff2700"/><stop offset=".717" stop-color="#ff1900"/><stop offset="1" stop-color="#ff1600"/></linearGradient><linearGradient id="b1"><stop offset="0" stop-color="#ff6b00"/><stop offset=".408" stop-color="#ff6b00"/><stop offset=".458" stop-color="#ff7700"/><stop offset=".508" stop-color="#ff5100"/><stop offset=".558" stop-color="#ff5000"/><stop offset=".575" stop-color="#ff3d00"/><stop offset=".625" stop-color="#ff3b00"/><stop offset=".642" stop-color="#ff2900"/><stop offset=".7" stop-color="#ff2700"/><stop offset=".717" stop-color="#ff1900"/><stop offset="1" stop-color="#ff1600"/></linearGradient><linearGradient id="b2"><stop offset="0" stop-color="#ff6b00"/><stop offset=".392" stop-color="#ff6b00"/><stop offset=".425" stop-color="#ff8600"/><stop offset=".442" stop-color="#ff8900"/><stop offset=".467" stop-color="#ff7c00"/><stop offset=".5" stop-color="#ff5500"/><stop offset=".558" stop-color="#ff5000"/><stop offset=".575" stop-color="#ff3d00"/><stop offset=".625" stop-color="#ff3b00"/><stop offset=".642" stop-color="#ff2900"/><stop offset=".7" stop-color="#ff2700"/><stop offset=".717" stop-color="#ff1900"/><stop offset="1" stop-color="#ff1600"/></linearGradient><linearGradient id="b3"><stop offset="0" stop-color="#ff6e00"/><stop offset=".375" stop-color="#ff6e00"/><stop offset=".4" stop-color="#ff8100"/><stop offset=".442" stop-color="#ff8900"/><stop offset=".467" stop-color="#ff7c00"/><stop offset=".5" stop-color="#ff5500"/><stop offset=".558" stop-color="#ff5000"/><stop offset=".575" stop-color="#ff3d00"/><stop offset=".625" stop-color="#ff3b00"/><stop offset=".642" stop-color="#ff2900"/><stop offset=".7" stop-color="#ff2700"/><stop offset=".717" stop-color="#ff1900"/><stop offset="1" stop-color="#ff1600"/></linearGradient><linearGradient id="b4"><stop offset="0" stop-color="#ff8200"/><stop offset=".408" stop-color="#ff8200"/><stop offset=".442" stop-color="#ff8900"/><stop offset=".467" stop-color="#ff7c00"/><stop offset=".5" stop-color="#ff5500"/><stop offset=".558" stop-color="#ff5000"/><stop offset=".575" stop-color="#ff3d00"/><stop offset=".625" stop-color="#ff3b00"/><stop offset=".642" stop-color="#ff2900"/><stop offset=".7" stop-color="#ff2700"/><stop offset=".717" stop-color="#ff1a00"/><stop offset="1" stop-color="#ff1600"/></linearGradient><linearGradient id="b5"><stop offset="0" stop-color="#ff8a00"/><stop offset=".133" stop-color="#ff9100"/><stop offset=".408" stop-color="#ff8800"/><stop offset=".442" stop-color="#ff8e00"/><stop offset=".467" stop-color="#ff8000"/><stop offset=".5" stop-color="#ff5800"/><stop offset=".558" stop-color="#ff5200"/><stop offset=".575" stop-color="#ff3f00"/><stop offset=".625" stop-color="#ff3c00"/><stop offset=".642" stop-color="#ff2a00"/><stop offset=".7" stop-color="#ff2700"/><stop offset=".717" stop-color="#ff1a00"/><stop offset="1" stop-color="#ff1700"/></linearGradient><linearGradient id="b6"><stop offset="0" stop-color="#ff9700"/><stop offset=".125" stop-color="#ffa300"/><stop offset=".408" stop-color="#ff8b00"/><stop offset=".433" stop-color="#ff9200"/><stop offset=".467" stop-color="#ff8200"/><stop offset=".508" stop-color="#ff5600"/><stop offset=".558" stop-color="#ff5300"/><stop offset=".575" stop-color="#ff4000"/><stop offset=".625" stop-color="#ff3d00"/><stop offset=".642" stop-color="#ff2a00"/><stop offset=".7" stop-color="#ff2800"/><stop offset=".717" stop-color="#ff1a00"/><stop offset="1" stop-color="#ff1900"/></linearGradient><linearGradient id="b7"><stop offset="0" stop-color="#ffa600"/><stop offset=".125" stop-color="#ffb300"/><stop offset=".4" stop-color="#ff8f00"/><stop offset=".433" stop-color="#ff9400"/><stop offset=".467" stop-color="#ff8400"/><stop offset=".5" stop-color="#ff5b00"/><stop offset=".558" stop-color="#ff5300"/><stop offset=".575" stop-color="#ff4000"/><stop offset=".625" stop-color="#ff3d00"/><stop offset=".642" stop-color="#ff2a00"/><stop offset=".7" stop-color="#ff2800"/><stop offset=".717" stop-color="#ff1a00"/><stop offset="1" stop-color="#ff1900"/></linearGradient><linearGradient id="b8"><stop offset="0" stop-color="#ffb500"/><stop offset=".058" stop-color="#ffc300"/><stop offset=".117" stop-color="#ffc300"/><stop offset=".375" stop-color="#ff9500"/><stop offset=".442" stop-color="#ff9500"/><stop offset=".467" stop-color="#ff8600"/><stop offset=".508" stop-color="#ff5800"/><stop offset=".558" stop-color="#ff5400"/><stop offset=".575" stop-color="#ff4100"/><stop offset=".625" stop-color="#ff3e00"/><stop offset=".642" stop-color="#ff2b00"/><stop offset=".7" stop-color="#ff2800"/><stop offset=".717" stop-color="#ff1a00"/><stop offset="1" stop-color="#ff1900"/></linearGradient><linearGradient id="b9"><stop offset="0" stop-color="#ffc800"/><stop offset=".05" stop-color="#ffd600"/><stop offset=".108" stop-color="#ffd600"/><stop offset=".35" stop-color="#ff9d00"/><stop offset=".442" stop-color="#ff9700"/><stop offset=".467" stop-color="#ff8700"/><stop offset=".508" stop-color="#ff5900"/><stop offset=".558" stop-color="#ff5500"/><stop offset=".575" stop-color="#ff4100"/><stop offset=".625" stop-color="#ff3e00"/><stop offset=".642" stop-color="#ff2b00"/><stop offset=".7" stop-color="#ff2800"/><stop offset=".717" stop-color="#ff1a00"/><stop offset="1" stop-color="#ff1a00"/></linearGradient><linearGradient id="b10"><stop offset="0" stop-color="#ffdd00"/><stop offset=".05" stop-color="#ffec00"/><stop offset=".1" stop-color="#ffeb00"/><stop offset=".342" stop-color="#ffa300"/><stop offset=".408" stop-color="#ff9600"/><stop offset=".442" stop-color="#ff9800"/><stop offset=".467" stop-color="#ff8900"/><stop offset=".508" stop-color="#ff5a00"/><stop offset=".558" stop-color="#ff5500"/><stop offset=".575" stop-color="#ff4200"/><stop offset=".625" stop-color="#ff3e00"/><stop offset=".642" stop-color="#ff2b00"/><stop offset=".7" stop-color="#ff2800"/><stop offset=".717" stop-color="#ff1b00"/><stop offset="1" stop-color="#ff1a00"/></linearGradient><linearGradient id="b11"><stop offset="0" stop-color="#fff100"/><stop offset=".042" stop-color="#fbfd00"/><stop offset=".117" stop-color="#fffa00"/><stop offset=".325" stop-color="#ffac00"/><stop offset=".408" stop-color="#ff9800"/><stop offset=".442" stop-color="#ff9a00"/><stop offset=".467" stop-color="#ff8a00"/><stop offset=".508" stop-color="#ff5b00"/><stop offset=".558" stop-color="#ff5600"/><stop offset=".575" stop-color="#ff4200"/><stop offset=".625" stop-color="#ff3e00"/><stop offset=".642" stop-color="#ff2b00"/><stop offset=".7" stop-color="#ff2800"/><stop offset=".717" stop-color="#ff1b00"/><stop offset="1" stop-color="#ff1a00"/></linearGradient><linearGradient id="b12"><stop offset="0" stop-color="#f4ff00"/><stop offset=".033" stop-color="#e5ff00"/><stop offset=".067" stop-color="#e4ff00"/><stop offset=".158" stop-color="#fefc00"/><stop offset=".325" stop-color="#ffb100"/><stop offset=".408" stop-color="#ff9b00"/><stop offset=".442" stop-color="#ff9c00"/><stop offset=".467" stop-color="#ff8b00"/><stop offset=".5" stop-color="#ff6000"/><stop offset=".558" stop-color="#ff5600"/><stop offset=".575" stop-color="#ff4300"/><stop offset=".625" stop-color="#ff3f00"/><stop offset=".642" stop-color="#ff2b00"/><stop offset=".7" stop-color="#ff2800"/><stop offset=".717" stop-color="#ff1b00"/><stop offset="1" stop-color="#ff1a00"/></linearGradient><linearGradient id="b13"><stop offset="0" stop-color="#deff00"/><stop offset=".033" stop-color="#cfff00"/><stop offset=".075" stop-color="#d0ff00"/><stop offset=".183" stop-color="#fffd00"/><stop offset=".333" stop-color="#ffb200"/><stop offset=".408" stop-color="#ff9d00"/><stop offset=".442" stop-color="#ff9d00"/><stop offset=".467" stop-color="#ff8c00"/><stop offset=".5" stop-color="#ff6100"/><stop offset=".558" stop-color="#ff5700"/><stop offset=".575" stop-color="#ff4300"/><stop offset=".625" stop-color="#ff3f00"/><stop offset=".642" stop-color="#ff2c00"/><stop offset=".7" stop-color="#ff2800"/><stop offset=".717" stop-color="#ff1b00"/><stop offset="1" stop-color="#ff1a00"/></linearGradient><linearGradient id="b14"><stop offset="0" stop-color="#cdff00"/><stop offset=".033" stop-color="#beff00"/><stop offset=".075" stop-color="#c0ff00"/><stop offset=".192" stop-color="#feff00"/><stop offset=".333" stop-color="#ffb500"/><stop offset=".408" stop-color="#ff9e00"/><stop offset=".442" stop-color="#ff9e00"/><stop offset=".467" stop-color="#ff8d00"/><stop offset=".5" stop-color="#ff6200"/><stop offset=".558" stop-color="#ff5700"/><stop offset=".575" stop-color="#ff4300"/><stop offset=".625" stop-color="#ff3f00"/><stop offset=".642" stop-color="#ff2c00"/><stop offset=".7" stop-color="#ff2800"/><stop offset=".717" stop-color="#ff1b00"/><stop offset="1" stop-color="#ff1a00"/></linearGradient><linearGradient id="b15"><stop offset="0" stop-color="#baff00"/><stop offset=".033" stop-color="#abff00"/><stop offset=".075" stop-color="#b0ff00"/><stop offset=".208" stop-color="#fffe00"/><stop offset=".333" stop-color="#ffb800"/><stop offset=".408" stop-color="#ff9f00"/><stop offset=".442" stop-color="#ff9f00"/><stop offset=".467" stop-color="#ff8e00"/><stop offset=".5" stop-color="#ff6200"/><stop offset=".558" stop-color="#ff5700"/><stop offset=".575" stop-color="#ff4300"/><stop offset=".625" stop-color="#ff3f00"/><stop offset=".642" stop-color="#ff2c00"/><stop offset=".7" stop-color="#ff2800"/><stop offset=".717" stop-color="#ff1b00"/><stop offset="1" stop-color="#ff1a00"/></linearGradient><linearGradient id="b16"><stop offset="0" stop-color="#a6ff00"/><stop offset=".033" stop-color="#97ff00"/><stop offset=".075" stop-color="#9eff00"/><stop offset=".225" stop-color="#fffa00"/><stop offset=".342" stop-color="#ffb800"/><stop offset=".408" stop-color="#ffa100"/><stop offset=".442" stop-color="#ffa100"/><stop offset=".467" stop-color="#ff8f00"/><stop offset=".5" stop-color="#ff6300"/><stop offset=".558" stop-color="#ff5700"/><stop offset=".575" stop-color="#ff4300"/><stop offset=".625" stop-color="#ff3f00"/><stop offset=".642" stop-color="#ff2c00"/><stop offset=".7" stop-color="#ff2800"/><stop offset=".717" stop-color="#ff1b00"/><stop offset="1" stop-color="#ff1a00"/></linearGradient><linearGradient id="b17"><stop offset="0" stop-color="#90ff00"/><stop offset=".033" stop-color="#81ff00"/><stop offset=".075" stop-color="#8aff00"/><stop offset=".233" stop-color="#fffc00"/><stop offset=".342" stop-color="#ffbb00"/><stop offset=".45" stop-color="#ff9d00"/><stop offset=".508" stop-color="#ff5f00"/><stop offset=".558" stop-color="#ff5700"/><stop offset=".575" stop-color="#ff4300"/><stop offset=".625" stop-color="#ff3f00"/><stop offset=".642" stop-color="#ff2c00"/><stop offset=".7" stop-color="#ff2800"/><stop offset=".717" stop-color="#ff1b00"/><stop offset="1" stop-color="#ff1a00"/></linearGradient><linearGradient id="b18"><stop offset="0" stop-color="#78ff00"/><stop offset=".033" stop-color="#69ff00"/><stop offset=".075" stop-color="#75ff00"/><stop offset=".242" stop-color="#fffd00"/><stop offset=".35" stop-color="#ffba00"/><stop offset=".45" stop-color="#ff9e00"/><stop offset=".508" stop-color="#ff5f00"/><stop offset=".558" stop-color="#ff5700"/><stop offset=".575" stop-color="#ff4300"/><stop offset=".625" stop-color="#ff3f00"/><stop offset=".642" stop-color="#ff2c00"/><stop offset=".7" stop-color="#ff2800"/><stop offset=".717" stop-color="#ff1b00"/><stop offset="1" stop-color="#ff1a00"/></linearGradient><linearGradient id="b19"><stop offset="0" stop-color="#5dff00"/><stop offset=".033" stop-color="#4fff00"/><stop offset=".075" stop-color="#5eff00"/><stop offset=".25" stop-color="#fffe00"/><stop offset=".35" stop-color="#ffbd00"/><stop offset=".45" stop-color="#ff9e00"/><stop offset=".508" stop-color="#ff5f00"/><stop offset=".558" stop-color="#ff5700"/><stop offset=".575" stop-color="#ff4300"/><stop offset=".625" stop-color="#ff3f00"/><stop offset=".642" stop-color="#ff2c00"/><stop offset=".7" stop-color="#ff2700"/><stop offset=".717" stop-color="#ff1b00"/><stop offset="1" stop-color="#ff1a00"/></linearGradient><linearGradient id="b20"><stop offset="0" stop-color="#40ff00"/><stop offset=".033" stop-color="#33ff00"/><stop offset=".075" stop-color="#46ff00"/><stop offset=".258" stop-color="#ffff00"/><stop offset=".35" stop-color="#ffc000"/><stop offset=".45" stop-color="#ff9e00"/><stop offset=".508" stop-color="#ff5f00"/><stop offset=".558" stop-color="#ff5700"/><stop offset=".575" stop-color="#ff4300"/><stop offset=".625" stop-color="#ff3e00"/><stop offset=".642" stop-color="#ff2b00"/><stop offset=".7" stop-color="#ff2600"/><stop offset=".717" stop-color="#ff1a00"/><stop offset="1" stop-color="#ff1a00"/></linearGradient><linearGradient id="b21"><stop offset="0" stop-color="#20ff00"/><stop offset=".033" stop-color="#15ff00"/><stop offset=".075" stop-color="#2cff00"/><stop offset=".267" stop-color="#ffff00"/><stop offset=".367" stop-color="#ffb900"/><stop offset=".45" stop-color="#ff9e00"/><stop offset=".508" stop-color="#ff5e00"/><stop offset=".558" stop-color="#ff5700"/><stop offset=".575" stop-color="#ff4300"/><stop offset=".625" stop-color="#ff3d00"/><stop offset=".642" stop-color="#ff2b00"/><stop offset=".717" stop-color="#ff1a00"/><stop offset="1" stop-color="#ff1a00"/></linearGradient><linearGradient id="b22"><stop offset="0" stop-color="#00ff02"/><stop offset=".025" stop-color="#00ff0d"/><stop offset=".067" stop-color="#09ff00"/><stop offset=".108" stop-color="#36ff00"/><stop offset=".217" stop-color="#c3ff00"/><stop offset=".275" stop-color="#fffe00"/><stop offset=".367" stop-color="#ffb800"/><stop offset=".45" stop-color="#ff9d00"/><stop offset=".508" stop-color="#ff5e00"/><stop offset=".558" stop-color="#ff5600"/><stop offset=".575" stop-color="#ff4200"/><stop offset=".625" stop-color="#ff3b00"/><stop offset=".642" stop-color="#ff2900"/><stop offset=".708" stop-color="#ff1a00"/><stop offset="1" stop-color="#ff1a00"/></linearGradient><linearGradient id="b23"><stop offset="0" stop-color="#00ff27"/><stop offset=".017" stop-color="#00ff31"/><stop offset=".033" stop-color="#00ff2e"/><stop offset=".083" stop-color="#00ff03"/><stop offset=".092" stop-color="#07ff00"/><stop offset=".2" stop-color="#a2ff00"/><stop offset=".275" stop-color="#fdff00"/><stop offset=".358" stop-color="#ffbc00"/><stop offset=".45" stop-color="#ff9c00"/><stop offset=".5" stop-color="#ff6200"/><stop offset=".558" stop-color="#ff5300"/><stop offset=".575" stop-color="#ff4000"/><stop offset=".625" stop-color="#ff3500"/><stop offset=".642" stop-color="#ff2500"/><stop offset=".683" stop-color="#ff1a00"/><stop offset="1" stop-color="#ff1a00"/></linearGradient><linearGradient id="b24"><stop offset="0" stop-color="#00ff4e"/><stop offset=".017" stop-color="#00ff57"/><stop offset=".042" stop-color="#00ff4e"/><stop offset=".108" stop-color="#05ff00"/><stop offset=".192" stop-color="#8aff00"/><stop offset=".275" stop-color="#fffe00"/><stop offset=".358" stop-color="#ffb900"/><stop offset=".45" stop-color="#ff9a00"/><stop offset=".5" stop-color="#ff6000"/><stop offset=".558" stop-color="#ff4e00"/><stop offset=".575" stop-color="#ff3a00"/><stop offset=".642" stop-color="#ff1c00"/><stop offset="1" stop-color="#ff1a00"/></linearGradient><linearGradient id="b25"><stop offset="0" stop-color="#00ff78"/><stop offset=".017" stop-color="#00ff80"/><stop offset=".042" stop-color="#00ff74"/><stop offset=".075" stop-color="#00ff4b"/><stop offset=".117" stop-color="#00ff06"/><stop offset=".175" stop-color="#61ff00"/><stop offset=".225" stop-color="#c0ff00"/><stop offset=".258" stop-color="#f0ff00"/><stop offset=".275" stop-color="#fffa00"/><stop offset=".358" stop-color="#ffb600"/><stop offset=".45" stop-color="#ff9600"/><stop offset=".5" stop-color="#ff5b00"/><stop offset=".55" stop-color="#ff4500"/><stop offset=".608" stop-color="#ff1a00"/><stop offset="1" stop-color="#ff1a00"/></linearGradient><linearGradient id="b26"><stop offset="0" stop-color="#00ffa5"/><stop offset=".025" stop-color="#00ffa8"/><stop offset=".05" stop-color="#00ff91"/><stop offset=".083" stop-color="#00ff5d"/><stop offset=".133" stop-color="#03ff00"/><stop offset=".2" stop-color="#9bff00"/><stop offset=".233" stop-color="#d4ff00"/><stop offset=".267" stop-color="#fffe00"/><stop offset=".35" stop-color="#ffb500"/><stop offset=".45" stop-color="#ff8e00"/><stop offset=".5" stop-color="#ff5100"/><stop offset=".567" stop-color="#ff1a00"/><stop offset="1" stop-color="#ff1a00"/></linearGradient><linearGradient id="b27"><stop offset="0" stop-color="#00ffd4"/><stop offset=".025" stop-color="#00ffd4"/><stop offset=".058" stop-color="#00ffaa"/><stop offset=".092" stop-color="#00ff6b"/><stop offset=".125" stop-color="#00ff0b"/><stop offset=".133" stop-color="#0cff00"/><stop offset=".167" stop-color="#61ff00"/><stop offset=".2" stop-color="#a6ff00"/><stop offset=".258" stop-color="#fffe00"/><stop offset=".3" stop-color="#ffd200"/><stop offset=".342" stop-color="#ffb200"/><stop offset=".45" stop-color="#ff7f00"/><stop offset=".525" stop-color="#ff1c00"/><stop offset=".533" stop-color="#ff1a00"/><stop offset="1" stop-color="#ff1a00"/></linearGradient><linearGradient id="b28"><stop offset="0" stop-color="#00faff"/><stop offset=".025" stop-color="#00ffff"/><stop offset=".05" stop-color="#00ffdd"/><stop offset=".058" stop-color="#00ffcb"/><stop offset=".117" stop-color="#00ff10"/><stop offset=".125" stop-color="#08ff00"/><stop offset=".158" stop-color="#5eff00"/><stop offset=".192" stop-color="#a5ff00"/><stop offset=".225" stop-color="#dfff00"/><stop offset=".25" stop-color="#fffb00"/><stop offset=".325" stop-color="#ffb000"/><stop offset=".442" stop-color="#ff6b00"/><stop offset=".467" stop-color="#ff4c00"/><stop offset=".492" stop-color="#ff1f00"/><stop offset=".5" stop-color="#ff1a00"/><stop offset="1" stop-color="#ff1a00"/></linearGradient><linearGradient id="b29"><stop offset="0" stop-color="#00c9ff"/><stop offset=".017" stop-color="#00ccff"/><stop offset=".033" stop-color="#00ffff"/><stop offset=".1" stop-color="#00ff27"/><stop offset=".117" stop-color="#0aff00"/><stop offset=".175" stop-color="#9aff00"/><stop offset=".233" stop-color="#fffe00"/><stop offset=".3" stop-color="#ffb100"/><stop offset=".425" stop-color="#ff4f00"/><stop offset=".458" stop-color="#ff1e00"/><stop offset=".467" stop-color="#ff1a00"/><stop offset="1" stop-color="#ff1a00"/></linearGradient><linearGradient id="b30"><stop offset="0" stop-color="#00d2ff"/><stop offset=".017" stop-color="#00f7ff"/><stop offset=".025" stop-color="#00ffef"/><stop offset=".1" stop-color="#00ff02"/><stop offset=".108" stop-color="#16ff00"/><stop offset=".167" stop-color="#a8ff00"/><stop offset=".2" stop-color="#e9ff00"/><stop offset=".217" stop-color="#fff900"/><stop offset=".275" stop-color="#ffac00"/><stop offset=".375" stop-color="#ff4d00"/><stop offset=".417" stop-color="#ff1a00"/><stop offset="1" stop-color="#ff1a00"/></linearGradient><linearGradient id="b31"><stop offset="0" stop-color="#00fff5"/><stop offset=".025" stop-color="#00ffb8"/><stop offset=".083" stop-color="#00ff03"/><stop offset=".092" stop-color="#16ff00"/><stop offset=".142" stop-color="#9bff00"/><stop offset=".175" stop-color="#e4ff00"/><stop offset=".192" stop-color="#fffa00"/><stop offset=".258" stop-color="#ff9500"/><stop offset=".367" stop-color="#ff1a00"/><stop offset="1" stop-color="#ff1a00"/></linearGradient><linearGradient id="b32"><stop offset="0" stop-color="#00ffaf"/><stop offset=".017" stop-color="#00ff89"/><stop offset=".058" stop-color="#00ff0c"/><stop offset=".067" stop-color="#0eff00"/><stop offset=".117" stop-color="#9bff00"/><stop offset=".158" stop-color="#feff00"/><stop offset=".233" stop-color="#ff7a00"/><stop offset=".3" stop-color="#ff1e00"/><stop offset=".308" stop-color="#ff1a00"/><stop offset="1" stop-color="#ff1a00"/></linearGradient><linearGradient id="b33"><stop offset="0" stop-color="#00ff54"/><stop offset=".033" stop-color="#03ff00"/><stop offset=".092" stop-color="#aeff00"/><stop offset=".125" stop-color="#fffa00"/><stop offset=".183" stop-color="#ff7c00"/><stop offset=".242" stop-color="#ff1a00"/><stop offset="1" stop-color="#ff1a00"/></linearGradient><linearGradient id="b34"><stop offset="0" stop-color="#20ff00"/><stop offset=".075" stop-color="#f2ff00"/><stop offset=".083" stop-color="#fff400"/><stop offset=".125" stop-color="#ff8900"/><stop offset=".175" stop-color="#ff1a00"/><stop offset="1" stop-color="#ff1a00"/></linearGradient><linearGradient id="b35"><stop offset="0" stop-color="#b4ff00"/><stop offset=".025" stop-color="#f9ff00"/><stop offset=".108" stop-color="#ff1a00"/><stop offset="1" stop-color="#ff1a00"/></linearGradient><linearGradient id="b36"><stop offset="0" stop-color="#ff8c00"/><stop offset=".033" stop-color="#ff2600"/><stop offset=".042" stop-color="#ff1a00"/><stop offset="1" stop-color="#ff1a00"/></linearGradient></defs>
<rect x="712.5" y="54" width="189.3" height="200.5" fill="url(#b0)"/><rect x="712.5" y="254" width="189.3" height="44.5" fill="url(#b1)"/><rect x="712.5" y="298" width="189.3" height="6.5" fill="url(#b2)"/><rect x="712.5" y="304" width="189.3" height="5.5" fill="url(#b3)"/><rect x="712.5" y="309" width="189.3" height="90.5" fill="url(#b4)"/><rect x="712.5" y="399" width="189.3" height="13.5" fill="url(#b5)"/><rect x="712.5" y="412" width="189.3" height="6.5" fill="url(#b6)"/><rect x="712.5" y="418" width="189.3" height="4.5" fill="url(#b7)"/><rect x="712.5" y="422" width="189.3" height="3.5" fill="url(#b8)"/><rect x="712.5" y="425" width="189.3" height="3.5" fill="url(#b9)"/><rect x="712.5" y="428" width="189.3" height="2.5" fill="url(#b10)"/><rect x="712.5" y="430" width="189.3" height="2.5" fill="url(#b11)"/><rect x="712.5" y="432" width="189.3" height="2.5" fill="url(#b12)"/><rect x="712.5" y="434" width="189.3" height="1.5" fill="url(#b13)"/><rect x="712.5" y="435" width="189.3" height="1.5" fill="url(#b14)"/><rect x="712.5" y="436" width="189.3" height="1.5" fill="url(#b15)"/><rect x="712.5" y="437" width="189.3" height="1.5" fill="url(#b16)"/><rect x="712.5" y="438" width="189.3" height="1.5" fill="url(#b17)"/><rect x="712.5" y="439" width="189.3" height="1.5" fill="url(#b18)"/><rect x="712.5" y="440" width="189.3" height="1.5" fill="url(#b19)"/><rect x="712.5" y="441" width="189.3" height="1.5" fill="url(#b20)"/><rect x="712.5" y="442" width="189.3" height="1.5" fill="url(#b21)"/><rect x="712.5" y="443" width="189.3" height="1.5" fill="url(#b22)"/><rect x="712.5" y="444" width="189.3" height="1.5" fill="url(#b23)"/><rect x="712.5" y="445" width="189.3" height="1.5" fill="url(#b24)"/><rect x="712.5" y="446" width="189.3" height="1.5" fill="url(#b25)"/><rect x="712.5" y="447" width="189.3" height="1.5" fill="url(#b26)"/><rect x="712.5" y="448" width="189.3" height="1.5" fill="url(#b27)"/><rect x="712.5" y="449" width="189.3" height="1.5" fill="url(#b28)"/><rect x="712.5" y="450" width="189.3" height="1.5" fill="url(#b29)"/><rect x="712.5" y="451" width="189.3" height="1.5" fill="url(#b30)"/><rect x="712.5" y="452" width="189.3" height="1.5" fill="url(#b31)"/><rect x="712.5" y="453" width="189.3" height="1.5" fill="url(#b32)"/><rect x="712.5" y="454" width="189.3" height="1.5" fill="url(#b33)"/><rect x="712.5" y="455" width="189.3" height="1.5" fill="url(#b34)"/><rect x="712.5" y="456" width="189.3" height="1.5" fill="url(#b35)"/><rect x="712.5" y="457" width="189.3" height="1" fill="url(#b36)"/></g>
<!-- panel d --><defs><linearGradient id="d0"><stop offset="0" stop-color="#00ff33"/><stop offset=".026" stop-color="#00ff43"/><stop offset=".055" stop-color="#00ff6a"/><stop offset=".086" stop-color="#00ffa9"/><stop offset=".117" stop-color="#00fffb"/><stop offset=".162" stop-color="#0015ff"/><stop offset=".167" stop-color="#0025ff"/><stop offset=".171" stop-color="#0051ff"/><stop offset=".176" stop-color="#0096ff"/><stop offset=".181" stop-color="#00f6ff"/><stop offset=".183" stop-color="#00ffcb"/><stop offset=".186" stop-color="#00ff81"/><stop offset=".188" stop-color="#00ff25"/><stop offset=".19" stop-color="#4fff00"/><stop offset=".193" stop-color="#d4ff00"/><stop offset=".195" stop-color="#ffad00"/><stop offset=".198" stop-color="#ff6000"/><stop offset=".2" stop-color="#ff2800"/><stop offset=".202" stop-color="#ff1a00"/><stop offset=".205" stop-color="#ff2e00"/><stop offset=".207" stop-color="#ff5700"/><stop offset=".214" stop-color="#fff700"/><stop offset=".217" stop-color="#e1ff00"/><stop offset=".219" stop-color="#c6ff00"/><stop offset=".224" stop-color="#abff00"/><stop offset=".252" stop-color="#8cff00"/><stop offset=".288" stop-color="#87ff00"/><stop offset=".338" stop-color="#c6ff00"/><stop offset=".35" stop-color="#91ff00"/><stop offset=".357" stop-color="#55ff00"/><stop offset=".362" stop-color="#19ff00"/><stop offset=".364" stop-color="#00ff08"/><stop offset=".369" stop-color="#00ff56"/><stop offset=".376" stop-color="#00ffb7"/><stop offset=".383" stop-color="#00fffe"/><stop offset=".386" stop-color="#00eaff"/><stop offset=".398" stop-color="#008aff"/><stop offset=".402" stop-color="#0082ff"/><stop offset=".405" stop-color="#00a1ff"/><stop offset=".407" stop-color="#00fffd"/><stop offset=".421" stop-color="#00ff3d"/><stop offset=".426" stop-color="#00ff29"/><stop offset="1" stop-color="#00ff27"/></linearGradient><linearGradient id="d1"><stop offset="0" stop-color="#00ff32"/><stop offset=".029" stop-color="#00ff42"/><stop offset=".06" stop-color="#00ff6a"/><stop offset=".098" stop-color="#00ffb5"/><stop offset=".119" stop-color="#00ffe9"/><stop offset=".121" stop-color="#00fff8"/><stop offset=".124" stop-color="#00f8ff"/><stop offset=".162" stop-color="#0015ff"/><stop offset=".167" stop-color="#0025ff"/><stop offset=".171" stop-color="#0051ff"/><stop offset=".176" stop-color="#0096ff"/><stop offset=".181" stop-color="#00f6ff"/><stop offset=".183" stop-color="#00ffcb"/><stop offset=".186" stop-color="#00ff81"/><stop offset=".188" stop-color="#00ff25"/><stop offset=".19" stop-color="#4fff00"/><stop offset=".193" stop-color="#d4ff00"/><stop offset=".195" stop-color="#ffad00"/><stop offset=".198" stop-color="#ff6000"/><stop offset=".2" stop-color="#ff2800"/><stop offset=".202" stop-color="#ff1a00"/><stop offset=".205" stop-color="#ff2e00"/><stop offset=".207" stop-color="#ff5700"/><stop offset=".214" stop-color="#fff700"/><stop offset=".217" stop-color="#e1ff00"/><stop offset=".219" stop-color="#c6ff00"/><stop offset=".224" stop-color="#abff00"/><stop offset=".252" stop-color="#8cff00"/><stop offset=".288" stop-color="#87ff00"/><stop offset=".338" stop-color="#c6ff00"/><stop offset=".35" stop-color="#91ff00"/><stop offset=".357" stop-color="#55ff00"/><stop offset=".362" stop-color="#19ff00"/><stop offset=".364" stop-color="#00ff08"/><stop offset=".369" stop-color="#00ff56"/><stop offset=".376" stop-color="#00ffb7"/><stop offset=".383" stop-color="#00fffe"/><stop offset=".386" stop-color="#00eaff"/><stop offset=".398" stop-color="#008aff"/><stop offset=".402" stop-color="#0082ff"/><stop offset=".405" stop-color="#00a1ff"/><stop offset=".407" stop-color="#00fffd"/><stop offset=".421" stop-color="#00ff3d"/><stop offset=".426" stop-color="#00ff29"/><stop offset="1" stop-color="#00ff27"/></linearGradient><linearGradient id="d2"><stop offset="0" stop-color="#00ff31"/><stop offset=".029" stop-color="#00ff41"/><stop offset=".062" stop-color="#00ff6b"/><stop offset=".119" stop-color="#00ffdf"/><stop offset=".124" stop-color="#00fff8"/><stop offset=".126" stop-color="#00f8ff"/><stop offset=".162" stop-color="#002aff"/><stop offset=".164" stop-color="#002eff"/><stop offset=".169" stop-color="#004cff"/><stop offset=".174" stop-color="#0083ff"/><stop offset=".179" stop-color="#00d2ff"/><stop offset=".181" stop-color="#00fffa"/><stop offset=".183" stop-color="#00ffbf"/><stop offset=".186" stop-color="#00ff77"/><stop offset=".188" stop-color="#00ff1d"/><stop offset=".19" stop-color="#53ff00"/><stop offset=".193" stop-color="#d6ff00"/><stop offset=".195" stop-color="#ffad00"/><stop offset=".198" stop-color="#ff6000"/><stop offset=".2" stop-color="#ff2800"/><stop offset=".202" stop-color="#ff1a00"/><stop offset=".205" stop-color="#ff2e00"/><stop offset=".207" stop-color="#ff5700"/><stop offset=".214" stop-color="#fff700"/><stop offset=".217" stop-color="#e1ff00"/><stop offset=".219" stop-color="#c6ff00"/><stop offset=".224" stop-color="#abff00"/><stop offset=".252" stop-color="#8cff00"/><stop offset=".288" stop-color="#87ff00"/><stop offset=".338" stop-color="#c6ff00"/><stop offset=".35" stop-color="#91ff00"/><stop offset=".357" stop-color="#55ff00"/><stop offset=".362" stop-color="#19ff00"/><stop offset=".364" stop-color="#00ff08"/><stop offset=".369" stop-color="#00ff56"/><stop offset=".376" stop-color="#00ffb7"/><stop offset=".383" stop-color="#00fffe"/><stop offset=".386" stop-color="#00eaff"/><stop offset=".398" stop-color="#008aff"/><stop offset=".402" stop-color="#0082ff"/><stop offset=".405" stop-color="#00a1ff"/><stop offset=".407" stop-color="#00fffd"/><stop offset=".421" stop-color="#00ff3d"/><stop offset=".426" stop-color="#00ff29"/><stop offset="1" stop-color="#00ff27"/></linearGradient><linearGradient id="d3"><stop offset="0" stop-color="#00ff31"/><stop offset=".031" stop-color="#00ff43"/><stop offset=".064" stop-color="#00ff6e"/><stop offset=".119" stop-color="#00ffdc"/><stop offset=".126" stop-color="#00feff"/><stop offset=".162" stop-color="#003dff"/><stop offset=".164" stop-color="#0042ff"/><stop offset=".169" stop-color="#0060ff"/><stop offset=".174" stop-color="#0097ff"/><stop offset=".179" stop-color="#00e7ff"/><stop offset=".181" stop-color="#00ffe5"/><stop offset=".183" stop-color="#00ffac"/><stop offset=".186" stop-color="#00ff67"/><stop offset=".188" stop-color="#00ff12"/><stop offset=".19" stop-color="#59ff00"/><stop offset=".193" stop-color="#d8ff00"/><stop offset=".195" stop-color="#ffb800"/><stop offset=".198" stop-color="#ff6700"/><stop offset=".2" stop-color="#ff2900"/><stop offset=".202" stop-color="#ff1a00"/><stop offset=".205" stop-color="#ff3000"/><stop offset=".207" stop-color="#ff5d00"/><stop offset=".212" stop-color="#ffd000"/><stop offset=".214" stop-color="#fbfe00"/><stop offset=".219" stop-color="#beff00"/><stop offset=".224" stop-color="#a8ff00"/><stop offset=".252" stop-color="#8cff00"/><stop offset=".288" stop-color="#87ff00"/><stop offset=".338" stop-color="#c6ff00"/><stop offset=".35" stop-color="#91ff00"/><stop offset=".357" stop-color="#55ff00"/><stop offset=".362" stop-color="#19ff00"/><stop offset=".364" stop-color="#00ff08"/><stop offset=".369" stop-color="#00ff56"/><stop offset=".376" stop-color="#00ffb7"/><stop offset=".383" stop-color="#00fffe"/><stop offset=".386" stop-color="#00eaff"/><stop offset=".398" stop-color="#008aff"/><stop offset=".402" stop-color="#0082ff"/><stop offset=".405" stop-color="#00a1ff"/><stop offset=".407" stop-color="#00fffd"/><stop offset=".421" stop-color="#00ff3d"/><stop offset=".426" stop-color="#00ff29"/><stop offset="1" stop-color="#00ff27"/></linearGradient><linearGradient id="d4"><stop offset="0" stop-color="#00ff31"/><stop offset=".031" stop-color="#00ff42"/><stop offset=".064" stop-color="#00ff6d"/><stop offset=".119" stop-color="#00ffdb"/><stop offset=".126" stop-color="#00fffc"/><stop offset=".162" stop-color="#0048ff"/><stop offset=".164" stop-color="#004dff"/><stop offset=".169" stop-color="#006cff"/><stop offset=".174" stop-color="#00a5ff"/><stop offset=".179" stop-color="#00f7ff"/><stop offset=".181" stop-color="#00ffd4"/><stop offset=".183" stop-color="#00ff9a"/><stop offset=".186" stop-color="#00ff56"/><stop offset=".188" stop-color="#00ff06"/><stop offset=".19" stop-color="#5fff00"/><stop offset=".193" stop-color="#d6ff00"/><stop offset=".195" stop-color="#ffd000"/><stop offset=".198" stop-color="#ff7f00"/><stop offset=".2" stop-color="#ff3f00"/><stop offset=".202" stop-color="#ff2e00"/><stop offset=".205" stop-color="#ff4500"/><stop offset=".207" stop-color="#ff7500"/><stop offset=".212" stop-color="#ffe800"/><stop offset=".214" stop-color="#e8ff00"/><stop offset=".217" stop-color="#c8ff00"/><stop offset=".221" stop-color="#aaff00"/><stop offset=".252" stop-color="#8cff00"/><stop offset=".288" stop-color="#87ff00"/><stop offset=".338" stop-color="#c6ff00"/><stop offset=".35" stop-color="#91ff00"/><stop offset=".357" stop-color="#55ff00"/><stop offset=".362" stop-color="#19ff00"/><stop offset=".364" stop-color="#00ff08"/><stop offset=".369" stop-color="#00ff56"/><stop offset=".376" stop-color="#00ffb7"/><stop offset=".383" stop-color="#00fffe"/><stop offset=".386" stop-color="#00eaff"/><stop offset=".398" stop-color="#008aff"/><stop offset=".402" stop-color="#0082ff"/><stop offset=".405" stop-color="#00a1ff"/><stop offset=".407" stop-color="#00fffd"/><stop offset=".421" stop-color="#00ff3d"/><stop offset=".426" stop-color="#00ff29"/><stop offset="1" stop-color="#00ff27"/></linearGradient><linearGradient id="d5"><stop offset="0" stop-color="#00ff31"/><stop offset=".031" stop-color="#00ff42"/><stop offset=".064" stop-color="#00ff6d"/><stop offset=".119" stop-color="#00ffda"/><stop offset=".126" stop-color="#00fffb"/><stop offset=".162" stop-color="#0048ff"/><stop offset=".164" stop-color="#004dff"/><stop offset=".169" stop-color="#006dff"/><stop offset=".174" stop-color="#00a9ff"/><stop offset=".179" stop-color="#00feff"/><stop offset=".183" stop-color="#00ff90"/><stop offset=".188" stop-color="#03ff00"/><stop offset=".19" stop-color="#62ff00"/><stop offset=".193" stop-color="#d4ff00"/><stop offset=".195" stop-color="#ffec00"/><stop offset=".198" stop-color="#ffa100"/><stop offset=".2" stop-color="#ff6400"/><stop offset=".202" stop-color="#ff5500"/><stop offset=".205" stop-color="#ff6b00"/><stop offset=".212" stop-color="#fdff00"/><stop offset=".214" stop-color="#d6ff00"/><stop offset=".217" stop-color="#bdff00"/><stop offset=".221" stop-color="#a7ff00"/><stop offset=".252" stop-color="#8cff00"/><stop offset=".288" stop-color="#87ff00"/><stop offset=".338" stop-color="#c6ff00"/><stop offset=".35" stop-color="#91ff00"/><stop offset=".357" stop-color="#55ff00"/><stop offset=".362" stop-color="#19ff00"/><stop offset=".364" stop-color="#00ff08"/><stop offset=".369" stop-color="#00ff56"/><stop offset=".376" stop-color="#00ffb7"/><stop offset=".383" stop-color="#00fffe"/><stop offset=".386" stop-color="#00eaff"/><stop offset=".398" stop-color="#008aff"/><stop offset=".402" stop-color="#0082ff"/><stop offset=".405" stop-color="#00a1ff"/><stop offset=".407" stop-color="#00fffd"/><stop offset=".421" stop-color="#00ff3d"/><stop offset=".426" stop-color="#00ff29"/><stop offset="1" stop-color="#00ff27"/></linearGradient><linearGradient id="d6"><stop offset="0" stop-color="#00ff31"/><stop offset=".031" stop-color="#00ff42"/><stop offset=".064" stop-color="#00ff6d"/><stop offset=".119" stop-color="#00ffd9"/><stop offset=".126" stop-color="#00fff9"/><stop offset=".162" stop-color="#0048ff"/><stop offset=".164" stop-color="#004dff"/><stop offset=".169" stop-color="#006fff"/><stop offset=".174" stop-color="#00adff"/><stop offset=".176" stop-color="#00d5ff"/><stop offset=".179" stop-color="#00fff9"/><stop offset=".183" stop-color="#00ff86"/><stop offset=".186" stop-color="#00ff41"/><stop offset=".188" stop-color="#0eff00"/><stop offset=".193" stop-color="#c9ff00"/><stop offset=".195" stop-color="#faff00"/><stop offset=".198" stop-color="#ffc200"/><stop offset=".2" stop-color="#ff8a00"/><stop offset=".202" stop-color="#ff7b00"/><stop offset=".205" stop-color="#ff9000"/><stop offset=".21" stop-color="#ffeb00"/><stop offset=".212" stop-color="#e8ff00"/><stop offset=".214" stop-color="#c7ff00"/><stop offset=".219" stop-color="#a9ff00"/><stop offset=".252" stop-color="#8cff00"/><stop offset=".288" stop-color="#87ff00"/><stop offset=".338" stop-color="#c6ff00"/><stop offset=".35" stop-color="#91ff00"/><stop offset=".357" stop-color="#55ff00"/><stop offset=".362" stop-color="#19ff00"/><stop offset=".364" stop-color="#00ff08"/><stop offset=".369" stop-color="#00ff56"/><stop offset=".376" stop-color="#00ffb7"/><stop offset=".383" stop-color="#00fffe"/><stop offset=".386" stop-color="#00eaff"/><stop offset=".398" stop-color="#008aff"/><stop offset=".402" stop-color="#0082ff"/><stop offset=".405" stop-color="#00a1ff"/><stop offset=".407" stop-color="#00fffd"/><stop offset=".421" stop-color="#00ff3d"/><stop offset=".426" stop-color="#00ff29"/><stop offset="1" stop-color="#00ff27"/></linearGradient><linearGradient id="d7"><stop offset="0" stop-color="#00ff31"/><stop offset=".031" stop-color="#00ff42"/><stop offset=".064" stop-color="#00ff6c"/><stop offset=".119" stop-color="#00ffd8"/><stop offset=".126" stop-color="#00fff8"/><stop offset=".129" stop-color="#00f9ff"/><stop offset=".162" stop-color="#0048ff"/><stop offset=".164" stop-color="#004eff"/><stop offset=".169" stop-color="#0071ff"/><stop offset=".174" stop-color="#00b1ff"/><stop offset=".176" stop-color="#00dbff"/><stop offset=".179" stop-color="#00fff2"/><stop offset=".183" stop-color="#00ff7b"/><stop offset=".186" stop-color="#00ff34"/><stop offset=".188" stop-color="#1bff00"/><stop offset=".19" stop-color="#76ff00"/><stop offset=".193" stop-color="#bcff00"/><stop offset=".195" stop-color="#e3ff00"/><stop offset=".198" stop-color="#ffe200"/><stop offset=".2" stop-color="#ffaf00"/><stop offset=".202" stop-color="#ffa100"/><stop offset=".205" stop-color="#ffb500"/><stop offset=".21" stop-color="#f9ff00"/><stop offset=".214" stop-color="#bbff00"/><stop offset=".219" stop-color="#a6ff00"/><stop offset=".252" stop-color="#8cff00"/><stop offset=".288" stop-color="#87ff00"/><stop offset=".338" stop-color="#c6ff00"/><stop offset=".35" stop-color="#91ff00"/><stop offset=".357" stop-color="#55ff00"/><stop offset=".362" stop-color="#19ff00"/><stop offset=".364" stop-color="#00ff08"/><stop offset=".369" stop-color="#00ff56"/><stop offset=".376" stop-color="#00ffb7"/><stop offset=".383" stop-color="#00fffe"/><stop offset=".386" stop-color="#00eaff"/><stop offset=".398" stop-color="#008aff"/><stop offset=".402" stop-color="#0082ff"/><stop offset=".405" stop-color="#00a1ff"/><stop offset=".407" stop-color="#00fffd"/><stop offset=".421" stop-color="#00ff3d"/><stop offset=".426" stop-color="#00ff29"/><stop offset="1" stop-color="#00ff27"/></linearGradient><linearGradient id="d8"><stop offset="0" stop-color="#00ff31"/><stop offset=".031" stop-color="#00ff42"/><stop offset=".064" stop-color="#00ff6c"/><stop offset=".121" stop-color="#00ffdb"/><stop offset=".126" stop-color="#00fff5"/><stop offset=".129" stop-color="#00fbff"/><stop offset=".162" stop-color="#0048ff"/><stop offset=".164" stop-color="#004eff"/><stop offset=".169" stop-color="#0074ff"/><stop offset=".174" stop-color="#00b7ff"/><stop offset=".176" stop-color="#00e4ff"/><stop offset=".179" stop-color="#00ffe7"/><stop offset=".183" stop-color="#00ff69"/><stop offset=".186" stop-color="#00ff1f"/><stop offset=".188" stop-color="#33ff00"/><stop offset=".19" stop-color="#8fff00"/><stop offset=".195" stop-color="#c7ff00"/><stop offset=".198" stop-color="#f0ff00"/><stop offset=".2" stop-color="#ffe600"/><stop offset=".202" stop-color="#ffdb00"/><stop offset=".207" stop-color="#f3fc00"/><stop offset=".212" stop-color="#beff00"/><stop offset=".217" stop-color="#a7ff00"/><stop offset=".252" stop-color="#8cff00"/><stop offset=".288" stop-color="#87ff00"/><stop offset=".338" stop-color="#c6ff00"/><stop offset=".35" stop-color="#91ff00"/><stop offset=".357" stop-color="#55ff00"/><stop offset=".362" stop-color="#19ff00"/><stop offset=".364" stop-color="#00ff08"/><stop offset=".369" stop-color="#00ff56"/><stop offset=".376" stop-color="#00ffb7"/><stop offset=".383" stop-color="#00fffe"/><stop offset=".386" stop-color="#00eaff"/><stop offset=".398" stop-color="#008aff"/><stop offset=".402" stop-color="#0082ff"/><stop offset=".405" stop-color="#00a1ff"/><stop offset=".407" stop-color="#00fffd"/><stop offset=".421" stop-color="#00ff3d"/><stop offset=".426" stop-color="#00ff29"/><stop offset="1" stop-color="#00ff27"/></linearGradient><linearGradient id="d9"><stop offset="0" stop-color="#00ff31"/><stop offset=".033" stop-color="#00ff44"/><stop offset=".069" stop-color="#00ff73"/><stop offset=".121" stop-color="#00ffd8"/><stop offset=".129" stop-color="#00fdff"/><stop offset=".162" stop-color="#0048ff"/><stop offset=".164" stop-color="#004fff"/><stop offset=".169" stop-color="#0077ff"/><stop offset=".174" stop-color="#00beff"/><stop offset=".176" stop-color="#00edff"/><stop offset=".179" stop-color="#00ffda"/><stop offset=".183" stop-color="#00ff55"/><stop offset=".186" stop-color="#00ff07"/><stop offset=".19" stop-color="#a3ff00"/><stop offset=".195" stop-color="#b2ff00"/><stop offset=".2" stop-color="#e3ff00"/><stop offset=".202" stop-color="#eaff00"/><stop offset=".21" stop-color="#baff00"/><stop offset=".214" stop-color="#a6ff00"/><stop offset=".231" stop-color="#a1ff00"/><stop offset=".252" stop-color="#8cff00"/><stop offset=".288" stop-color="#87ff00"/><stop offset=".338" stop-color="#c6ff00"/><stop offset=".35" stop-color="#91ff00"/><stop offset=".357" stop-color="#55ff00"/><stop offset=".362" stop-color="#19ff00"/><stop offset=".364" stop-color="#00ff08"/><stop offset=".369" stop-color="#00ff56"/><stop offset=".376" stop-color="#00ffb7"/><stop offset=".383" stop-color="#00fffe"/><stop offset=".386" stop-color="#00eaff"/><stop offset=".398" stop-color="#008aff"/><stop offset=".402" stop-color="#0082ff"/><stop offset=".405" stop-color="#00a1ff"/><stop offset=".407" stop-color="#00fffd"/><stop offset=".421" stop-color="#00ff3d"/><stop offset=".426" stop-color="#00ff29"/><stop offset="1" stop-color="#00ff27"/></linearGradient><linearGradient id="d10"><stop offset="0" stop-color="#00ff31"/><stop offset=".033" stop-color="#00ff44"/><stop offset=".069" stop-color="#00ff72"/><stop offset=".121" stop-color="#00ffd6"/><stop offset=".129" stop-color="#00ffff"/><stop offset=".162" stop-color="#0048ff"/><stop offset=".164" stop-color="#004fff"/><stop offset=".169" stop-color="#0079ff"/><stop offset=".174" stop-color="#00c3ff"/><stop offset=".176" stop-color="#00f4ff"/><stop offset=".179" stop-color="#00ffd1"/><stop offset=".183" stop-color="#00ff48"/><stop offset=".186" stop-color="#09ff00"/><stop offset=".188" stop-color="#62ff00"/><stop offset=".19" stop-color="#a2ff00"/><stop offset=".195" stop-color="#a8ff00"/><stop offset=".202" stop-color="#c4ff00"/><stop offset=".214" stop-color="#a3ff00"/><stop offset=".231" stop-color="#a1ff00"/><stop offset=".252" stop-color="#8cff00"/><stop offset=".288" stop-color="#87ff00"/><stop offset=".338" stop-color="#c6ff00"/><stop offset=".35" stop-color="#91ff00"/><stop offset=".357" stop-color="#55ff00"/><stop offset=".362" stop-color="#19ff00"/><stop offset=".364" stop-color="#00ff08"/><stop offset=".369" stop-color="#00ff56"/><stop offset=".376" stop-color="#00ffb7"/><stop offset=".383" stop-color="#00fffe"/><stop offset=".398" stop-color="#008aff"/><stop offset=".402" stop-color="#0082ff"/><stop offset=".405" stop-color="#00a1ff"/><stop offset=".407" stop-color="#00fffd"/><stop offset=".421" stop-color="#00ff3d"/><stop offset=".426" stop-color="#00ff29"/><stop offset="1" stop-color="#00ff27"/></linearGradient><linearGradient id="d11"><stop offset="0" stop-color="#00ff30"/><stop offset=".033" stop-color="#00ff43"/><stop offset=".069" stop-color="#00ff71"/><stop offset=".121" stop-color="#00ffd2"/><stop offset=".129" stop-color="#00fffc"/><stop offset=".16" stop-color="#004fff"/><stop offset=".162" stop-color="#0048ff"/><stop offset=".167" stop-color="#0063ff"/><stop offset=".169" stop-color="#007fff"/><stop offset=".174" stop-color="#00d1ff"/><stop offset=".176" stop-color="#00fff7"/><stop offset=".181" stop-color="#00ff71"/><stop offset=".183" stop-color="#00ff21"/><stop offset=".186" stop-color="#38ff00"/><stop offset=".188" stop-color="#98ff00"/><stop offset=".19" stop-color="#a2ff00"/><stop offset=".229" stop-color="#a2ff00"/><stop offset=".252" stop-color="#8cff00"/><stop offset=".288" stop-color="#87ff00"/><stop offset=".338" stop-color="#c6ff00"/><stop offset=".35" stop-color="#91ff00"/><stop offset=".357" stop-color="#55ff00"/><stop offset=".362" stop-color="#19ff00"/><stop offset=".364" stop-color="#00ff08"/><stop offset=".369" stop-color="#00ff56"/><stop offset=".376" stop-color="#00ffb7"/><stop offset=".383" stop-color="#00fffe"/><stop offset=".398" stop-color="#008aff"/><stop offset=".402" stop-color="#0082ff"/><stop offset=".405" stop-color="#00a1ff"/><stop offset=".407" stop-color="#00fffd"/><stop offset=".421" stop-color="#00ff3d"/><stop offset=".426" stop-color="#00ff29"/><stop offset="1" stop-color="#00ff27"/></linearGradient><linearGradient id="d12"><stop offset="0" stop-color="#00ff30"/><stop offset=".033" stop-color="#00ff42"/><stop offset=".069" stop-color="#00ff6f"/><stop offset=".121" stop-color="#00ffcd"/><stop offset=".129" stop-color="#00fff5"/><stop offset=".131" stop-color="#00faff"/><stop offset=".16" stop-color="#004eff"/><stop offset=".162" stop-color="#0049ff"/><stop offset=".167" stop-color="#0069ff"/><stop offset=".169" stop-color="#008bff"/><stop offset=".174" stop-color="#00ecff"/><stop offset=".176" stop-color="#00ffd3"/><stop offset=".181" stop-color="#00ff35"/><stop offset=".183" stop-color="#29ff00"/><stop offset=".186" stop-color="#91ff00"/><stop offset=".188" stop-color="#a2ff00"/><stop offset=".229" stop-color="#a2ff00"/><stop offset=".252" stop-color="#8cff00"/><stop offset=".288" stop-color="#87ff00"/><stop offset=".338" stop-color="#c6ff00"/><stop offset=".35" stop-color="#91ff00"/><stop offset=".357" stop-color="#55ff00"/><stop offset=".362" stop-color="#19ff00"/><stop offset=".364" stop-color="#00ff08"/><stop offset=".369" stop-color="#00ff56"/><stop offset=".376" stop-color="#00ffb7"/><stop offset=".383" stop-color="#00fffe"/><stop offset=".398" stop-color="#008aff"/><stop offset=".402" stop-color="#0082ff"/><stop offset=".405" stop-color="#00a1ff"/><stop offset=".407" stop-color="#00fffd"/><stop offset=".421" stop-color="#00ff3d"/><stop offset=".426" stop-color="#00ff29"/><stop offset="1" stop-color="#00ff27"/></linearGradient><linearGradient id="d13"><stop offset="0" stop-color="#00ff30"/><stop offset=".036" stop-color="#00ff44"/><stop offset=".074" stop-color="#00ff75"/><stop offset=".121" stop-color="#00ffc8"/><stop offset=".131" stop-color="#00fffe"/><stop offset=".16" stop-color="#004dff"/><stop offset=".162" stop-color="#004aff"/><stop offset=".164" stop-color="#0057ff"/><stop offset=".167" stop-color="#0072ff"/><stop offset=".171" stop-color="#00ceff"/><stop offset=".174" stop-color="#00fff0"/><stop offset=".176" stop-color="#00ffa4"/><stop offset=".179" stop-color="#00ff4d"/><stop offset=".181" stop-color="#17ff00"/><stop offset=".183" stop-color="#87ff00"/><stop offset=".186" stop-color="#a2ff00"/><stop offset=".229" stop-color="#a2ff00"/><stop offset=".252" stop-color="#8cff00"/><stop offset=".288" stop-color="#87ff00"/><stop offset=".338" stop-color="#c6ff00"/><stop offset=".35" stop-color="#91ff00"/><stop offset=".357" stop-color="#55ff00"/><stop offset=".362" stop-color="#19ff00"/><stop offset=".364" stop-color="#00ff08"/><stop offset=".369" stop-color="#00ff56"/><stop offset=".376" stop-color="#00ffb7"/><stop offset=".383" stop-color="#00fffe"/><stop offset=".398" stop-color="#008aff"/><stop offset=".402" stop-color="#0082ff"/><stop offset=".405" stop-color="#00a1ff"/><stop offset=".407" stop-color="#00fffd"/><stop offset=".421" stop-color="#00ff3d"/><stop offset=".426" stop-color="#00ff29"/><stop offset="1" stop-color="#00ff27"/></linearGradient><linearGradient id="d14"><stop offset="0" stop-color="#00ff2f"/><stop offset=".036" stop-color="#00ff42"/><stop offset=".074" stop-color="#00ff70"/><stop offset=".117" stop-color="#00ffbd"/><stop offset=".124" stop-color="#00ffc2"/><stop offset=".131" stop-color="#00fff2"/><stop offset=".133" stop-color="#00fbff"/><stop offset=".16" stop-color="#004aff"/><stop offset=".162" stop-color="#004cff"/><stop offset=".164" stop-color="#005eff"/><stop offset=".167" stop-color="#0082ff"/><stop offset=".169" stop-color="#00b4ff"/><stop offset=".171" stop-color="#00f5ff"/><stop offset=".174" stop-color="#00ffba"/><stop offset=".176" stop-color="#00ff5c"/><stop offset=".179" stop-color="#10ff00"/><stop offset=".181" stop-color="#8bff00"/><stop offset=".183" stop-color="#a2ff00"/><stop offset=".229" stop-color="#a2ff00"/><stop offset=".252" stop-color="#8cff00"/><stop offset=".288" stop-color="#87ff00"/><stop offset=".338" stop-color="#c6ff00"/><stop offset=".35" stop-color="#91ff00"/><stop offset=".357" stop-color="#55ff00"/><stop offset=".362" stop-color="#19ff00"/><stop offset=".364" stop-color="#00ff08"/><stop offset=".369" stop-color="#00ff56"/><stop offset=".376" stop-color="#00ffb7"/><stop offset=".383" stop-color="#00fffe"/><stop offset=".398" stop-color="#008aff"/><stop offset=".402" stop-color="#0082ff"/><stop offset=".405" stop-color="#00a1ff"/><stop offset=".407" stop-color="#00fffd"/><stop offset=".421" stop-color="#00ff3d"/><stop offset=".426" stop-color="#00ff29"/><stop offset="1" stop-color="#00ff27"/></linearGradient><linearGradient id="d15"><stop offset="0" stop-color="#00ff2f"/><stop offset=".024" stop-color="#00ff37"/><stop offset=".052" stop-color="#00ff50"/><stop offset=".083" stop-color="#00ff78"/><stop offset=".117" stop-color="#00ffb0"/><stop offset=".124" stop-color="#00ffb3"/><stop offset=".133" stop-color="#00fff4"/><stop offset=".136" stop-color="#00f8ff"/><stop offset=".16" stop-color="#0047ff"/><stop offset=".162" stop-color="#004fff"/><stop offset=".164" stop-color="#0065ff"/><stop offset=".167" stop-color="#008dff"/><stop offset=".169" stop-color="#00c3ff"/><stop offset=".171" stop-color="#00fff6"/><stop offset=".174" stop-color="#00ffa4"/><stop offset=".176" stop-color="#00ff43"/><stop offset=".179" stop-color="#2dff00"/><stop offset=".181" stop-color="#a2ff00"/><stop offset=".229" stop-color="#a2ff00"/><stop offset=".252" stop-color="#8cff00"/><stop offset=".288" stop-color="#87ff00"/><stop offset=".338" stop-color="#c6ff00"/><stop offset=".35" stop-color="#91ff00"/><stop offset=".357" stop-color="#55ff00"/><stop offset=".362" stop-color="#19ff00"/><stop offset=".364" stop-color="#00ff08"/><stop offset=".369" stop-color="#00ff56"/><stop offset=".376" stop-color="#00ffb7"/><stop offset=".383" stop-color="#00fffe"/><stop offset=".398" stop-color="#008aff"/><stop offset=".402" stop-color="#0082ff"/><stop offset=".405" stop-color="#00a1ff"/><stop offset=".407" stop-color="#00fffd"/><stop offset=".421" stop-color="#00ff3d"/><stop offset=".426" stop-color="#00ff29"/><stop offset="1" stop-color="#00ff27"/></linearGradient><linearGradient id="d16"><stop offset="0" stop-color="#00ff2e"/><stop offset=".024" stop-color="#00ff36"/><stop offset=".052" stop-color="#00ff4e"/><stop offset=".083" stop-color="#00ff73"/><stop offset=".117" stop-color="#00ffa9"/><stop offset=".126" stop-color="#00ffae"/><stop offset=".136" stop-color="#00fdff"/><stop offset=".16" stop-color="#0033ff"/><stop offset=".162" stop-color="#003eff"/><stop offset=".164" stop-color="#005fff"/><stop offset=".167" stop-color="#0096ff"/><stop offset=".169" stop-color="#00e0ff"/><stop offset=".171" stop-color="#00ffc0"/><stop offset=".174" stop-color="#00ff50"/><stop offset=".176" stop-color="#35ff00"/><stop offset=".179" stop-color="#a2ff00"/><stop offset=".229" stop-color="#a2ff00"/><stop offset=".252" stop-color="#8cff00"/><stop offset=".288" stop-color="#87ff00"/><stop offset=".338" stop-color="#c6ff00"/><stop offset=".35" stop-color="#91ff00"/><stop offset=".357" stop-color="#55ff00"/><stop offset=".362" stop-color="#19ff00"/><stop offset=".364" stop-color="#00ff08"/><stop offset=".369" stop-color="#00ff56"/><stop offset=".376" stop-color="#00ffb7"/><stop offset=".383" stop-color="#00fffe"/><stop offset=".398" stop-color="#008aff"/><stop offset=".402" stop-color="#0082ff"/><stop offset=".405" stop-color="#00a1ff"/><stop offset=".407" stop-color="#00fffd"/><stop offset=".421" stop-color="#00ff3d"/><stop offset=".426" stop-color="#00ff29"/><stop offset="1" stop-color="#00ff27"/></linearGradient><linearGradient id="d17"><stop offset="0" stop-color="#00ff2e"/><stop offset=".05" stop-color="#00ff49"/><stop offset=".083" stop-color="#00ff6e"/><stop offset=".117" stop-color="#00ffa0"/><stop offset=".126" stop-color="#00ffa3"/><stop offset=".129" stop-color="#00ffa9"/><stop offset=".136" stop-color="#00fff4"/><stop offset=".138" stop-color="#00f1ff"/><stop offset=".16" stop-color="#0016ff"/><stop offset=".162" stop-color="#0029ff"/><stop offset=".164" stop-color="#005fff"/><stop offset=".167" stop-color="#00baff"/><stop offset=".169" stop-color="#00ffc7"/><stop offset=".171" stop-color="#00ff2b"/><stop offset=".174" stop-color="#91ff00"/><stop offset=".176" stop-color="#a2ff00"/><stop offset=".229" stop-color="#a2ff00"/><stop offset=".252" stop-color="#8cff00"/><stop offset=".288" stop-color="#87ff00"/><stop offset=".338" stop-color="#c6ff00"/><stop offset=".35" stop-color="#91ff00"/><stop offset=".357" stop-color="#55ff00"/><stop offset=".362" stop-color="#19ff00"/><stop offset=".364" stop-color="#00ff08"/><stop offset=".369" stop-color="#00ff56"/><stop offset=".376" stop-color="#00ffb7"/><stop offset=".383" stop-color="#00fffe"/><stop offset=".386" stop-color="#00eaff"/><stop offset=".398" stop-color="#008aff"/><stop offset=".402" stop-color="#0082ff"/><stop offset=".405" stop-color="#00a1ff"/><stop offset=".407" stop-color="#00fffd"/><stop offset=".421" stop-color="#00ff3d"/><stop offset=".426" stop-color="#00ff29"/><stop offset="1" stop-color="#00ff27"/></linearGradient><linearGradient id="d18"><stop offset="0" stop-color="#00ff2d"/><stop offset=".05" stop-color="#00ff45"/><stop offset=".117" stop-color="#00ff92"/><stop offset=".126" stop-color="#00ff94"/><stop offset=".129" stop-color="#00ff9a"/><stop offset=".136" stop-color="#00ffe9"/><stop offset=".138" stop-color="#00fbff"/><stop offset=".16" stop-color="#0015ff"/><stop offset=".162" stop-color="#0028ff"/><stop offset=".164" stop-color="#005fff"/><stop offset=".167" stop-color="#00baff"/><stop offset=".169" stop-color="#00ffc8"/><stop offset=".171" stop-color="#00ff2b"/><stop offset=".174" stop-color="#91ff00"/><stop offset=".176" stop-color="#a2ff00"/><stop offset=".229" stop-color="#a2ff00"/><stop offset=".252" stop-color="#8cff00"/><stop offset=".288" stop-color="#87ff00"/><stop offset=".338" stop-color="#c6ff00"/><stop offset=".35" stop-color="#91ff00"/><stop offset=".357" stop-color="#55ff00"/><stop offset=".362" stop-color="#19ff00"/><stop offset=".364" stop-color="#00ff08"/><stop offset=".369" stop-color="#00ff56"/><stop offset=".376" stop-color="#00ffb7"/><stop offset=".383" stop-color="#00fffe"/><stop offset=".386" stop-color="#00eaff"/><stop offset=".398" stop-color="#008aff"/><stop offset=".402" stop-color="#0082ff"/><stop offset=".405" stop-color="#00a1ff"/><stop offset=".407" stop-color="#00fffd"/><stop offset=".421" stop-color="#00ff3d"/><stop offset=".426" stop-color="#00ff29"/><stop offset="1" stop-color="#00ff27"/></linearGradient><linearGradient id="d19"><stop offset="0" stop-color="#00ff2c"/><stop offset=".052" stop-color="#00ff44"/><stop offset=".117" stop-color="#00ff87"/><stop offset=".129" stop-color="#00ff8c"/><stop offset=".138" stop-color="#00fff7"/><stop offset=".14" stop-color="#00ecff"/><stop offset=".16" stop-color="#0018ff"/><stop offset=".162" stop-color="#002cff"/><stop offset=".164" stop-color="#0062ff"/><stop offset=".167" stop-color="#00bdff"/><stop offset=".169" stop-color="#00ffc6"/><stop offset=".171" stop-color="#00ff2a"/><stop offset=".174" stop-color="#91ff00"/><stop offset=".176" stop-color="#a2ff00"/><stop offset=".229" stop-color="#a2ff00"/><stop offset=".252" stop-color="#8cff00"/><stop offset=".288" stop-color="#87ff00"/><stop offset=".338" stop-color="#c6ff00"/><stop offset=".35" stop-color="#91ff00"/><stop offset=".357" stop-color="#55ff00"/><stop offset=".362" stop-color="#19ff00"/><stop offset=".364" stop-color="#00ff08"/><stop offset=".369" stop-color="#00ff56"/><stop offset=".376" stop-color="#00ffb7"/><stop offset=".383" stop-color="#00fffe"/><stop offset=".386" stop-color="#00eaff"/><stop offset=".398" stop-color="#008aff"/><stop offset=".402" stop-color="#0082ff"/><stop offset=".405" stop-color="#00a1ff"/><stop offset=".407" stop-color="#00fffd"/><stop offset=".421" stop-color="#00ff3d"/><stop offset=".426" stop-color="#00ff29"/><stop offset="1" stop-color="#00ff27"/></linearGradient><linearGradient id="d20"><stop offset="0" stop-color="#00ff2c"/><stop offset=".05" stop-color="#00ff41"/><stop offset=".117" stop-color="#00ff84"/><stop offset=".129" stop-color="#00ff86"/><stop offset=".131" stop-color="#00ff8b"/><stop offset=".14" stop-color="#00fff8"/><stop offset=".16" stop-color="#002aff"/><stop offset=".162" stop-color="#003dff"/><stop offset=".164" stop-color="#0072ff"/><stop offset=".167" stop-color="#00caff"/><stop offset=".169" stop-color="#00ffbc"/><stop offset=".171" stop-color="#00ff25"/><stop offset=".174" stop-color="#92ff00"/><stop offset=".176" stop-color="#a2ff00"/><stop offset=".229" stop-color="#a2ff00"/><stop offset=".252" stop-color="#8cff00"/><stop offset=".288" stop-color="#87ff00"/><stop offset=".338" stop-color="#c6ff00"/><stop offset=".35" stop-color="#91ff00"/><stop offset=".357" stop-color="#55ff00"/><stop offset=".362" stop-color="#19ff00"/><stop offset=".364" stop-color="#00ff08"/><stop offset=".369" stop-color="#00ff56"/><stop offset=".376" stop-color="#00ffb7"/><stop offset=".383" stop-color="#00fffe"/><stop offset=".398" stop-color="#008aff"/><stop offset=".402" stop-color="#0082ff"/><stop offset=".405" stop-color="#00a1ff"/><stop offset=".407" stop-color="#00fffd"/><stop offset=".421" stop-color="#00ff3d"/><stop offset=".426" stop-color="#00ff29"/><stop offset="1" stop-color="#00ff27"/></linearGradient><linearGradient id="d21"><stop offset="0" stop-color="#00ff2c"/><stop offset=".048" stop-color="#00ff3f"/><stop offset=".117" stop-color="#00ff82"/><stop offset=".131" stop-color="#00ff83"/><stop offset=".133" stop-color="#00ff92"/><stop offset=".14" stop-color="#00ffea"/><stop offset=".143" stop-color="#00f7ff"/><stop offset=".157" stop-color="#0048ff"/><stop offset=".16" stop-color="#0037ff"/><stop offset=".162" stop-color="#004fff"/><stop offset=".164" stop-color="#008bff"/><stop offset=".167" stop-color="#00e8ff"/><stop offset=".169" stop-color="#00ff9a"/><stop offset=".171" stop-color="#00ff00"/><stop offset=".174" stop-color="#a2ff00"/><stop offset=".229" stop-color="#a2ff00"/><stop offset=".252" stop-color="#8cff00"/><stop offset=".288" stop-color="#87ff00"/><stop offset=".338" stop-color="#c6ff00"/><stop offset=".35" stop-color="#91ff00"/><stop offset=".357" stop-color="#55ff00"/><stop offset=".362" stop-color="#19ff00"/><stop offset=".364" stop-color="#00ff08"/><stop offset=".369" stop-color="#00ff56"/><stop offset=".376" stop-color="#00ffb7"/><stop offset=".383" stop-color="#00fffe"/><stop offset=".398" stop-color="#008aff"/><stop offset=".402" stop-color="#0082ff"/><stop offset=".405" stop-color="#00a1ff"/><stop offset=".407" stop-color="#00fffd"/><stop offset=".421" stop-color="#00ff3d"/><stop offset=".426" stop-color="#00ff29"/><stop offset="1" stop-color="#00ff27"/></linearGradient><linearGradient id="d22"><stop offset="0" stop-color="#00ff2c"/><stop offset=".05" stop-color="#00ff40"/><stop offset=".117" stop-color="#00ff80"/><stop offset=".129" stop-color="#00ff82"/><stop offset=".138" stop-color="#00fff5"/><stop offset=".14" stop-color="#00ebff"/><stop offset=".155" stop-color="#0039ff"/><stop offset=".157" stop-color="#004bff"/><stop offset=".16" stop-color="#007eff"/><stop offset=".162" stop-color="#00d4ff"/><stop offset=".164" stop-color="#00ffb5"/><stop offset=".167" stop-color="#00ff22"/><stop offset=".169" stop-color="#8fff00"/><stop offset=".171" stop-color="#a2ff00"/><stop offset=".229" stop-color="#a2ff00"/><stop offset=".252" stop-color="#8cff00"/><stop offset=".288" stop-color="#87ff00"/><stop offset=".338" stop-color="#c6ff00"/><stop offset=".35" stop-color="#91ff00"/><stop offset=".357" stop-color="#55ff00"/><stop offset=".362" stop-color="#19ff00"/><stop offset=".364" stop-color="#00ff08"/><stop offset=".369" stop-color="#00ff56"/><stop offset=".376" stop-color="#00ffb7"/><stop offset=".383" stop-color="#00fffe"/><stop offset=".398" stop-color="#008aff"/><stop offset=".402" stop-color="#0082ff"/><stop offset=".405" stop-color="#00a1ff"/><stop offset=".407" stop-color="#00fffd"/><stop offset=".421" stop-color="#00ff3d"/><stop offset=".426" stop-color="#00ff29"/><stop offset="1" stop-color="#00ff27"/></linearGradient><linearGradient id="d23"><stop offset="0" stop-color="#00ff2c"/><stop offset=".05" stop-color="#00ff3f"/><stop offset=".126" stop-color="#00ff81"/><stop offset=".136" stop-color="#00fdff"/><stop offset=".15" stop-color="#003dff"/><stop offset=".152" stop-color="#0049ff"/><stop offset=".155" stop-color="#0074ff"/><stop offset=".157" stop-color="#00c2ff"/><stop offset=".16" stop-color="#00ffcf"/><stop offset=".162" stop-color="#00ff43"/><stop offset=".164" stop-color="#67ff00"/><stop offset=".167" stop-color="#a2ff00"/><stop offset=".229" stop-color="#a2ff00"/><stop offset=".252" stop-color="#8cff00"/><stop offset=".288" stop-color="#87ff00"/><stop offset=".338" stop-color="#c6ff00"/><stop offset=".35" stop-color="#91ff00"/><stop offset=".357" stop-color="#55ff00"/><stop offset=".362" stop-color="#19ff00"/><stop offset=".364" stop-color="#00ff08"/><stop offset=".369" stop-color="#00ff56"/><stop offset=".376" stop-color="#00ffb7"/><stop offset=".383" stop-color="#00fffe"/><stop offset=".398" stop-color="#008aff"/><stop offset=".402" stop-color="#0082ff"/><stop offset=".405" stop-color="#00a1ff"/><stop offset=".407" stop-color="#00fffd"/><stop offset=".421" stop-color="#00ff3d"/><stop offset=".426" stop-color="#00ff29"/><stop offset="1" stop-color="#00ff27"/></linearGradient><linearGradient id="d24"><stop offset="0" stop-color="#00ff2c"/><stop offset=".052" stop-color="#00ff40"/><stop offset=".121" stop-color="#00ff7e"/><stop offset=".124" stop-color="#00ff88"/><stop offset=".131" stop-color="#00ffec"/><stop offset=".133" stop-color="#00f0ff"/><stop offset=".145" stop-color="#004aff"/><stop offset=".148" stop-color="#0048ff"/><stop offset=".15" stop-color="#006bff"/><stop offset=".152" stop-color="#00b1ff"/><stop offset=".155" stop-color="#00ffe6"/><stop offset=".157" stop-color="#00ff62"/><stop offset=".16" stop-color="#40ff00"/><stop offset=".162" stop-color="#a2ff00"/><stop offset=".229" stop-color="#a2ff00"/><stop offset=".252" stop-color="#8cff00"/><stop offset=".288" stop-color="#87ff00"/><stop offset=".338" stop-color="#c6ff00"/><stop offset=".35" stop-color="#91ff00"/><stop offset=".357" stop-color="#55ff00"/><stop offset=".362" stop-color="#19ff00"/><stop offset=".364" stop-color="#00ff08"/><stop offset=".369" stop-color="#00ff56"/><stop offset=".376" stop-color="#00ffb7"/><stop offset=".383" stop-color="#00fffe"/><stop offset=".398" stop-color="#008aff"/><stop offset=".402" stop-color="#0082ff"/><stop offset=".405" stop-color="#00a1ff"/><stop offset=".407" stop-color="#00fffd"/><stop offset=".421" stop-color="#00ff3d"/><stop offset=".426" stop-color="#00ff29"/><stop offset="1" stop-color="#00ff27"/></linearGradient><linearGradient id="d25"><stop offset="0" stop-color="#00ff2c"/><stop offset=".055" stop-color="#00ff41"/><stop offset=".119" stop-color="#00ff7c"/><stop offset=".121" stop-color="#00ff90"/><stop offset=".129" stop-color="#00fff9"/><stop offset=".14" stop-color="#0057ff"/><stop offset=".143" stop-color="#0048ff"/><stop offset=".145" stop-color="#0064ff"/><stop offset=".148" stop-color="#00a3ff"/><stop offset=".15" stop-color="#00fffc"/><stop offset=".152" stop-color="#00ff7f"/><stop offset=".155" stop-color="#1cff00"/><stop offset=".157" stop-color="#a2ff00"/><stop offset=".229" stop-color="#a2ff00"/><stop offset=".252" stop-color="#8cff00"/><stop offset=".288" stop-color="#87ff00"/><stop offset=".338" stop-color="#c6ff00"/><stop offset=".35" stop-color="#91ff00"/><stop offset=".357" stop-color="#55ff00"/><stop offset=".362" stop-color="#19ff00"/><stop offset=".364" stop-color="#00ff08"/><stop offset=".369" stop-color="#00ff56"/><stop offset=".376" stop-color="#00ffb7"/><stop offset=".383" stop-color="#00fffe"/><stop offset=".398" stop-color="#008aff"/><stop offset=".402" stop-color="#0082ff"/><stop offset=".405" stop-color="#00a1ff"/><stop offset=".407" stop-color="#00fffd"/><stop offset=".421" stop-color="#00ff3d"/><stop offset=".426" stop-color="#00ff29"/><stop offset="1" stop-color="#00ff27"/></linearGradient><linearGradient id="d26"><stop offset="0" stop-color="#00ff2b"/><stop offset=".055" stop-color="#00ff41"/><stop offset=".117" stop-color="#00ff78"/><stop offset=".119" stop-color="#00ff85"/><stop offset=".126" stop-color="#00fff5"/><stop offset=".129" stop-color="#00e4ff"/><stop offset=".138" stop-color="#004fff"/><stop offset=".14" stop-color="#0052ff"/><stop offset=".143" stop-color="#0077ff"/><stop offset=".145" stop-color="#00bcff"/><stop offset=".148" stop-color="#00ffde"/><stop offset=".15" stop-color="#00ff5e"/><stop offset=".152" stop-color="#3fff00"/><stop offset=".155" stop-color="#8bff00"/><stop offset=".288" stop-color="#87ff00"/><stop offset=".338" stop-color="#c6ff00"/><stop offset=".35" stop-color="#90ff00"/><stop offset=".357" stop-color="#54ff00"/><stop offset=".362" stop-color="#18ff00"/><stop offset=".364" stop-color="#00ff0a"/><stop offset=".369" stop-color="#00ff58"/><stop offset=".376" stop-color="#00ffb9"/><stop offset=".383" stop-color="#00feff"/><stop offset=".398" stop-color="#0089ff"/><stop offset=".402" stop-color="#0082ff"/><stop offset=".405" stop-color="#00a9ff"/><stop offset=".407" stop-color="#00fffb"/><stop offset=".421" stop-color="#00ff3c"/><stop offset=".426" stop-color="#00ff29"/><stop offset="1" stop-color="#00ff27"/></linearGradient><linearGradient id="d27"><stop offset="0" stop-color="#00ff2b"/><stop offset=".055" stop-color="#00ff40"/><stop offset=".117" stop-color="#00ff75"/><stop offset=".119" stop-color="#00ff81"/><stop offset=".126" stop-color="#00fff1"/><stop offset=".129" stop-color="#00e8ff"/><stop offset=".138" stop-color="#0052ff"/><stop offset=".14" stop-color="#0055ff"/><stop offset=".143" stop-color="#007aff"/><stop offset=".145" stop-color="#00bfff"/><stop offset=".148" stop-color="#00ffdc"/><stop offset=".15" stop-color="#00ff5d"/><stop offset=".152" stop-color="#3fff00"/><stop offset=".155" stop-color="#8aff00"/><stop offset=".286" stop-color="#86ff00"/><stop offset=".338" stop-color="#c4ff00"/><stop offset=".35" stop-color="#83ff00"/><stop offset=".357" stop-color="#42ff00"/><stop offset=".362" stop-color="#04ff00"/><stop offset=".369" stop-color="#00ff72"/><stop offset=".374" stop-color="#00ffb3"/><stop offset=".381" stop-color="#00fffe"/><stop offset=".395" stop-color="#0086ff"/><stop offset=".4" stop-color="#0082ff"/><stop offset=".402" stop-color="#00c6ff"/><stop offset=".405" stop-color="#00fff1"/><stop offset=".417" stop-color="#00ff4a"/><stop offset=".419" stop-color="#00ff36"/><stop offset=".424" stop-color="#00ff29"/><stop offset="1" stop-color="#00ff27"/></linearGradient><linearGradient id="d28"><stop offset="0" stop-color="#00ff2b"/><stop offset=".055" stop-color="#00ff3f"/><stop offset=".117" stop-color="#00ff73"/><stop offset=".119" stop-color="#00ff7f"/><stop offset=".126" stop-color="#00ffef"/><stop offset=".129" stop-color="#00eaff"/><stop offset=".138" stop-color="#0054ff"/><stop offset=".14" stop-color="#0057ff"/><stop offset=".143" stop-color="#007cff"/><stop offset=".145" stop-color="#00c1ff"/><stop offset=".148" stop-color="#00ffdb"/><stop offset=".15" stop-color="#00ff5c"/><stop offset=".152" stop-color="#3fff00"/><stop offset=".155" stop-color="#8aff00"/><stop offset=".286" stop-color="#86ff00"/><stop offset=".336" stop-color="#c5ff00"/><stop offset=".348" stop-color="#8aff00"/><stop offset=".355" stop-color="#4eff00"/><stop offset=".36" stop-color="#10ff00"/><stop offset=".362" stop-color="#00ff14"/><stop offset=".367" stop-color="#00ff68"/><stop offset=".371" stop-color="#00ffab"/><stop offset=".379" stop-color="#00fffa"/><stop offset=".393" stop-color="#0086ff"/><stop offset=".398" stop-color="#0083ff"/><stop offset=".4" stop-color="#00deff"/><stop offset=".402" stop-color="#00ffe8"/><stop offset=".414" stop-color="#00ff3c"/><stop offset=".419" stop-color="#00ff29"/><stop offset="1" stop-color="#00ff27"/></linearGradient><linearGradient id="d29"><stop offset="0" stop-color="#00ff2b"/><stop offset=".055" stop-color="#00ff3e"/><stop offset=".117" stop-color="#00ff71"/><stop offset=".119" stop-color="#00ff7d"/><stop offset=".126" stop-color="#00ffed"/><stop offset=".129" stop-color="#00ecff"/><stop offset=".138" stop-color="#0056ff"/><stop offset=".14" stop-color="#0059ff"/><stop offset=".143" stop-color="#007eff"/><stop offset=".145" stop-color="#00c2ff"/><stop offset=".148" stop-color="#00ffda"/><stop offset=".15" stop-color="#00ff5c"/><stop offset=".152" stop-color="#3fff00"/><stop offset=".155" stop-color="#89ff00"/><stop offset=".283" stop-color="#85ff00"/><stop offset=".333" stop-color="#c3ff00"/><stop offset=".336" stop-color="#c1ff00"/><stop offset=".345" stop-color="#92ff00"/><stop offset=".352" stop-color="#57ff00"/><stop offset=".357" stop-color="#1dff00"/><stop offset=".36" stop-color="#00ff02"/><stop offset=".364" stop-color="#00ff5a"/><stop offset=".369" stop-color="#00ffa1"/><stop offset=".376" stop-color="#00fff4"/><stop offset=".379" stop-color="#00f1ff"/><stop offset=".39" stop-color="#0088ff"/><stop offset=".395" stop-color="#008aff"/><stop offset=".398" stop-color="#00f8ff"/><stop offset=".41" stop-color="#00ff4e"/><stop offset=".412" stop-color="#00ff37"/><stop offset=".417" stop-color="#00ff28"/><stop offset="1" stop-color="#00ff27"/></linearGradient><linearGradient id="d30"><stop offset="0" stop-color="#00ff2b"/><stop offset=".055" stop-color="#00ff3e"/><stop offset=".117" stop-color="#00ff6f"/><stop offset=".119" stop-color="#00ff7b"/><stop offset=".126" stop-color="#00ffeb"/><stop offset=".129" stop-color="#00eeff"/><stop offset=".138" stop-color="#0059ff"/><stop offset=".14" stop-color="#005bff"/><stop offset=".143" stop-color="#0080ff"/><stop offset=".145" stop-color="#00c4ff"/><stop offset=".148" stop-color="#00ffd8"/><stop offset=".15" stop-color="#00ff5b"/><stop offset=".152" stop-color="#3eff00"/><stop offset=".155" stop-color="#89ff00"/><stop offset=".281" stop-color="#84ff00"/><stop offset=".333" stop-color="#c4ff00"/><stop offset=".345" stop-color="#85ff00"/><stop offset=".352" stop-color="#48ff00"/><stop offset=".357" stop-color="#0aff00"/><stop offset=".36" stop-color="#00ff1e"/><stop offset=".367" stop-color="#00ff97"/><stop offset=".374" stop-color="#00ffef"/><stop offset=".376" stop-color="#00f6ff"/><stop offset=".381" stop-color="#00c5ff"/><stop offset=".388" stop-color="#008bff"/><stop offset=".39" stop-color="#008bff"/><stop offset=".393" stop-color="#00a3ff"/><stop offset=".395" stop-color="#00fff4"/><stop offset=".407" stop-color="#00ff3e"/><stop offset=".412" stop-color="#00ff29"/><stop offset="1" stop-color="#00ff27"/></linearGradient><linearGradient id="d31"><stop offset="0" stop-color="#00ff2b"/><stop offset=".055" stop-color="#00ff3d"/><stop offset=".117" stop-color="#00ff6d"/><stop offset=".119" stop-color="#00ff78"/><stop offset=".126" stop-color="#00ffe9"/><stop offset=".129" stop-color="#00f0ff"/><stop offset=".138" stop-color="#005bff"/><stop offset=".14" stop-color="#005eff"/><stop offset=".143" stop-color="#0082ff"/><stop offset=".145" stop-color="#00c6ff"/><stop offset=".148" stop-color="#00ffd7"/><stop offset=".15" stop-color="#00ff5a"/><stop offset=".152" stop-color="#3eff00"/><stop offset=".155" stop-color="#88ff00"/><stop offset=".281" stop-color="#84ff00"/><stop offset=".331" stop-color="#c2ff00"/><stop offset=".343" stop-color="#8dff00"/><stop offset=".35" stop-color="#53ff00"/><stop offset=".355" stop-color="#17ff00"/><stop offset=".357" stop-color="#00ff0c"/><stop offset=".362" stop-color="#00ff67"/><stop offset=".367" stop-color="#00ffb1"/><stop offset=".374" stop-color="#00fbff"/><stop offset=".379" stop-color="#00c8ff"/><stop offset=".386" stop-color="#008fff"/><stop offset=".388" stop-color="#008fff"/><stop offset=".39" stop-color="#00bdff"/><stop offset=".393" stop-color="#00ffea"/><stop offset=".402" stop-color="#00ff54"/><stop offset=".405" stop-color="#00ff37"/><stop offset=".41" stop-color="#00ff28"/><stop offset="1" stop-color="#00ff27"/></linearGradient><linearGradient id="d32"><stop offset="0" stop-color="#00ff2b"/><stop offset=".055" stop-color="#00ff3c"/><stop offset=".117" stop-color="#00ff6b"/><stop offset=".119" stop-color="#00ff76"/><stop offset=".126" stop-color="#00ffe7"/><stop offset=".129" stop-color="#00f2ff"/><stop offset=".138" stop-color="#005dff"/><stop offset=".14" stop-color="#0060ff"/><stop offset=".143" stop-color="#0084ff"/><stop offset=".145" stop-color="#00c7ff"/><stop offset=".148" stop-color="#00ffd6"/><stop offset=".15" stop-color="#00ff5a"/><stop offset=".152" stop-color="#3eff00"/><stop offset=".155" stop-color="#88ff00"/><stop offset=".279" stop-color="#83ff00"/><stop offset=".331" stop-color="#c1ff00"/><stop offset=".343" stop-color="#81ff00"/><stop offset=".35" stop-color="#42ff00"/><stop offset=".355" stop-color="#04ff00"/><stop offset=".364" stop-color="#00ffa7"/><stop offset=".371" stop-color="#00fffe"/><stop offset=".376" stop-color="#00ccff"/><stop offset=".383" stop-color="#0092ff"/><stop offset=".386" stop-color="#0092ff"/><stop offset=".388" stop-color="#00d9ff"/><stop offset=".39" stop-color="#00ffde"/><stop offset=".4" stop-color="#00ff42"/><stop offset=".405" stop-color="#00ff29"/><stop offset="1" stop-color="#00ff27"/></linearGradient><linearGradient id="d33"><stop offset="0" stop-color="#00ff2b"/><stop offset=".055" stop-color="#00ff3c"/><stop offset=".117" stop-color="#00ff69"/><stop offset=".119" stop-color="#00ff74"/><stop offset=".126" stop-color="#00ffe4"/><stop offset=".129" stop-color="#00f4ff"/><stop offset=".138" stop-color="#005fff"/><stop offset=".14" stop-color="#0062ff"/><stop offset=".143" stop-color="#0086ff"/><stop offset=".145" stop-color="#00c9ff"/><stop offset=".148" stop-color="#00ffd5"/><stop offset=".15" stop-color="#00ff59"/><stop offset=".152" stop-color="#3eff00"/><stop offset=".155" stop-color="#87ff00"/><stop offset=".279" stop-color="#84ff00"/><stop offset=".329" stop-color="#c1ff00"/><stop offset=".34" stop-color="#88ff00"/><stop offset=".348" stop-color="#4eff00"/><stop offset=".352" stop-color="#11ff00"/><stop offset=".355" stop-color="#00ff17"/><stop offset=".362" stop-color="#00ff9c"/><stop offset=".369" stop-color="#00fff9"/><stop offset=".379" stop-color="#00a3ff"/><stop offset=".381" stop-color="#0096ff"/><stop offset=".383" stop-color="#0096ff"/><stop offset=".386" stop-color="#00f8ff"/><stop offset=".395" stop-color="#00ff59"/><stop offset=".398" stop-color="#00ff38"/><stop offset=".402" stop-color="#00ff28"/><stop offset="1" stop-color="#00ff27"/></linearGradient><linearGradient id="d34"><stop offset="0" stop-color="#00ff2a"/><stop offset=".055" stop-color="#00ff3b"/><stop offset=".117" stop-color="#00ff66"/><stop offset=".119" stop-color="#00ff72"/><stop offset=".126" stop-color="#00ffe2"/><stop offset=".129" stop-color="#00f7ff"/><stop offset=".138" stop-color="#0061ff"/><stop offset=".14" stop-color="#0064ff"/><stop offset=".143" stop-color="#0088ff"/><stop offset=".145" stop-color="#00cbff"/><stop offset=".148" stop-color="#00ffd4"/><stop offset=".15" stop-color="#00ff59"/><stop offset=".152" stop-color="#3eff00"/><stop offset=".155" stop-color="#87ff00"/><stop offset=".274" stop-color="#83ff00"/><stop offset=".326" stop-color="#c1ff00"/><stop offset=".338" stop-color="#87ff00"/><stop offset=".345" stop-color="#4cff00"/><stop offset=".35" stop-color="#0fff00"/><stop offset=".352" stop-color="#00ff1c"/><stop offset=".36" stop-color="#00ffa4"/><stop offset=".367" stop-color="#00feff"/><stop offset=".374" stop-color="#00b2ff"/><stop offset=".376" stop-color="#00a1ff"/><stop offset=".379" stop-color="#00a1ff"/><stop offset=".381" stop-color="#00fffe"/><stop offset=".383" stop-color="#00ffc9"/><stop offset=".39" stop-color="#00ff4b"/><stop offset=".393" stop-color="#00ff32"/><stop offset=".395" stop-color="#00ff28"/><stop offset="1" stop-color="#00ff27"/></linearGradient><linearGradient id="d35"><stop offset="0" stop-color="#00ff2a"/><stop offset=".055" stop-color="#00ff3a"/><stop offset=".117" stop-color="#00ff63"/><stop offset=".119" stop-color="#00ff6a"/><stop offset=".133" stop-color="#00fff1"/><stop offset=".136" stop-color="#00f9ff"/><stop offset=".138" stop-color="#00e6ff"/><stop offset=".14" stop-color="#00f1ff"/><stop offset=".143" stop-color="#00ffec"/><stop offset=".145" stop-color="#00ffb8"/><stop offset=".148" stop-color="#00ff74"/><stop offset=".15" stop-color="#00ff1e"/><stop offset=".152" stop-color="#4aff00"/><stop offset=".155" stop-color="#7dff00"/><stop offset=".271" stop-color="#7bff00"/><stop offset=".324" stop-color="#b7ff00"/><stop offset=".336" stop-color="#7eff00"/><stop offset=".343" stop-color="#45ff00"/><stop offset=".348" stop-color="#0bff00"/><stop offset=".35" stop-color="#00ff22"/><stop offset=".352" stop-color="#00ff57"/><stop offset=".357" stop-color="#00ffac"/><stop offset=".362" stop-color="#00ffeb"/><stop offset=".364" stop-color="#00f5ff"/><stop offset=".371" stop-color="#00acff"/><stop offset=".374" stop-color="#00acff"/><stop offset=".376" stop-color="#00fff7"/><stop offset=".379" stop-color="#00ffc1"/><stop offset=".386" stop-color="#00ff3c"/><stop offset=".39" stop-color="#00ff28"/><stop offset="1" stop-color="#00ff27"/></linearGradient><linearGradient id="d36"><stop offset="0" stop-color="#00ff2a"/><stop offset=".05" stop-color="#00ff36"/><stop offset=".117" stop-color="#00ff5b"/><stop offset=".119" stop-color="#00ff5d"/><stop offset=".133" stop-color="#00ff9e"/><stop offset=".138" stop-color="#00ffaa"/><stop offset=".14" stop-color="#00ff98"/><stop offset=".143" stop-color="#00ff78"/><stop offset=".148" stop-color="#00ff23"/><stop offset=".15" stop-color="#14ff00"/><stop offset=".152" stop-color="#56ff00"/><stop offset=".155" stop-color="#76ff00"/><stop offset=".269" stop-color="#73ff00"/><stop offset=".321" stop-color="#acff00"/><stop offset=".333" stop-color="#75ff00"/><stop offset=".34" stop-color="#3eff00"/><stop offset=".345" stop-color="#07ff00"/><stop offset=".348" stop-color="#00ff28"/><stop offset=".352" stop-color="#00ff8c"/><stop offset=".36" stop-color="#00fff4"/><stop offset=".362" stop-color="#00ebff"/><stop offset=".367" stop-color="#00b9ff"/><stop offset=".369" stop-color="#00b7ff"/><stop offset=".371" stop-color="#00fff0"/><stop offset=".374" stop-color="#00ffb8"/><stop offset=".379" stop-color="#00ff5c"/><stop offset=".381" stop-color="#00ff35"/><stop offset=".383" stop-color="#00ff28"/><stop offset="1" stop-color="#00ff27"/></linearGradient><linearGradient id="d37"><stop offset="0" stop-color="#00ff2a"/><stop offset=".057" stop-color="#00ff37"/><stop offset=".119" stop-color="#00ff51"/><stop offset=".133" stop-color="#00ff5f"/><stop offset=".138" stop-color="#00ff57"/><stop offset=".145" stop-color="#00ff03"/><stop offset=".152" stop-color="#5dff00"/><stop offset=".155" stop-color="#6fff00"/><stop offset=".267" stop-color="#6cff00"/><stop offset=".319" stop-color="#a2ff00"/><stop offset=".331" stop-color="#6cff00"/><stop offset=".338" stop-color="#38ff00"/><stop offset=".343" stop-color="#03ff00"/><stop offset=".35" stop-color="#00ff95"/><stop offset=".357" stop-color="#00fffe"/><stop offset=".362" stop-color="#00c9ff"/><stop offset=".364" stop-color="#00c2ff"/><stop offset=".367" stop-color="#00ffe9"/><stop offset=".369" stop-color="#00ffae"/><stop offset=".374" stop-color="#00ff4d"/><stop offset=".376" stop-color="#00ff2f"/><stop offset=".379" stop-color="#00ff28"/><stop offset="1" stop-color="#00ff27"/></linearGradient><linearGradient id="d38"><stop offset="0" stop-color="#00ff29"/><stop offset=".112" stop-color="#00ff49"/><stop offset=".133" stop-color="#00ff3e"/><stop offset=".138" stop-color="#00ff2c"/><stop offset=".14" stop-color="#00ff11"/><stop offset=".143" stop-color="#0eff00"/><stop offset=".152" stop-color="#5dff00"/><stop offset=".155" stop-color="#67ff00"/><stop offset=".264" stop-color="#64ff00"/><stop offset=".317" stop-color="#97ff00"/><stop offset=".326" stop-color="#71ff00"/><stop offset=".333" stop-color="#43ff00"/><stop offset=".338" stop-color="#17ff00"/><stop offset=".34" stop-color="#00ff02"/><stop offset=".348" stop-color="#00ff9f"/><stop offset=".352" stop-color="#00ffe8"/><stop offset=".355" stop-color="#00f6ff"/><stop offset=".357" stop-color="#00daff"/><stop offset=".36" stop-color="#00cfff"/><stop offset=".362" stop-color="#00ffd9"/><stop offset=".369" stop-color="#00ff39"/><stop offset=".371" stop-color="#00ff28"/><stop offset="1" stop-color="#00ff27"/></linearGradient><linearGradient id="d39"><stop offset="0" stop-color="#00ff29"/><stop offset=".107" stop-color="#00ff42"/><stop offset=".133" stop-color="#00ff29"/><stop offset=".138" stop-color="#00ff12"/><stop offset=".14" stop-color="#0cff00"/><stop offset=".145" stop-color="#3eff00"/><stop offset=".155" stop-color="#5fff00"/><stop offset=".262" stop-color="#5bff00"/><stop offset=".312" stop-color="#8bff00"/><stop offset=".314" stop-color="#8aff00"/><stop offset=".324" stop-color="#66ff00"/><stop offset=".331" stop-color="#3aff00"/><stop offset=".336" stop-color="#0eff00"/><stop offset=".338" stop-color="#00ff09"/><stop offset=".34" stop-color="#00ff4b"/><stop offset=".343" stop-color="#00ff80"/><stop offset=".35" stop-color="#00fff2"/><stop offset=".352" stop-color="#00f0ff"/><stop offset=".355" stop-color="#00e5ff"/><stop offset=".357" stop-color="#00ffbb"/><stop offset=".362" stop-color="#00ff53"/><stop offset=".364" stop-color="#00ff2e"/><stop offset=".367" stop-color="#00ff28"/><stop offset="1" stop-color="#00ff27"/></linearGradient><linearGradient id="d40"><stop offset="0" stop-color="#00ff29"/><stop offset=".102" stop-color="#00ff3c"/><stop offset=".133" stop-color="#00ff19"/><stop offset=".138" stop-color="#00ff01"/><stop offset=".143" stop-color="#3bff00"/><stop offset=".145" stop-color="#4cff00"/><stop offset=".15" stop-color="#55ff00"/><stop offset=".26" stop-color="#54ff00"/><stop offset=".31" stop-color="#81ff00"/><stop offset=".321" stop-color="#5bff00"/><stop offset=".329" stop-color="#31ff00"/><stop offset=".333" stop-color="#06ff00"/><stop offset=".336" stop-color="#00ff1d"/><stop offset=".338" stop-color="#00ff5c"/><stop offset=".34" stop-color="#00ff8e"/><stop offset=".345" stop-color="#00ffda"/><stop offset=".348" stop-color="#00fff8"/><stop offset=".35" stop-color="#00faff"/><stop offset=".352" stop-color="#00ffa3"/><stop offset=".357" stop-color="#00ff36"/><stop offset=".36" stop-color="#00ff28"/><stop offset="1" stop-color="#00ff27"/></linearGradient><linearGradient id="d41"><stop offset="0" stop-color="#00ff28"/><stop offset=".098" stop-color="#00ff37"/><stop offset=".136" stop-color="#00ff09"/><stop offset=".138" stop-color="#06ff00"/><stop offset=".143" stop-color="#39ff00"/><stop offset=".145" stop-color="#47ff00"/><stop offset=".15" stop-color="#4eff00"/><stop offset=".257" stop-color="#4dff00"/><stop offset=".307" stop-color="#76ff00"/><stop offset=".319" stop-color="#4fff00"/><stop offset=".329" stop-color="#13ff00"/><stop offset=".331" stop-color="#00ff02"/><stop offset=".338" stop-color="#00ff9a"/><stop offset=".343" stop-color="#00ffe2"/><stop offset=".345" stop-color="#00ffee"/><stop offset=".348" stop-color="#00ff8b"/><stop offset=".35" stop-color="#00ff52"/><stop offset=".352" stop-color="#00ff2b"/><stop offset=".355" stop-color="#00ff27"/><stop offset="1" stop-color="#00ff27"/></linearGradient><linearGradient id="d42"><stop offset="0" stop-color="#00ff28"/><stop offset=".095" stop-color="#00ff33"/><stop offset=".136" stop-color="#00ff01"/><stop offset=".138" stop-color="#0bff00"/><stop offset=".143" stop-color="#35ff00"/><stop offset=".148" stop-color="#44ff00"/><stop offset=".252" stop-color="#44ff00"/><stop offset=".305" stop-color="#6cff00"/><stop offset=".314" stop-color="#4fff00"/><stop offset=".321" stop-color="#2cff00"/><stop offset=".326" stop-color="#0aff00"/><stop offset=".329" stop-color="#00ff09"/><stop offset=".333" stop-color="#00ff7d"/><stop offset=".338" stop-color="#00ffcc"/><stop offset=".34" stop-color="#00ffd5"/><stop offset=".343" stop-color="#00ff71"/><stop offset=".345" stop-color="#00ff33"/><stop offset=".35" stop-color="#00ff27"/><stop offset="1" stop-color="#00ff27"/></linearGradient><linearGradient id="d43"><stop offset="0" stop-color="#00ff28"/><stop offset=".093" stop-color="#00ff2f"/><stop offset=".119" stop-color="#00ff09"/><stop offset=".131" stop-color="#00ff00"/><stop offset=".136" stop-color="#05ff00"/><stop offset=".143" stop-color="#30ff00"/><stop offset=".148" stop-color="#3dff00"/><stop offset=".25" stop-color="#3cff00"/><stop offset=".3" stop-color="#60ff00"/><stop offset=".312" stop-color="#3fff00"/><stop offset=".321" stop-color="#0bff00"/><stop offset=".324" stop-color="#00ff07"/><stop offset=".326" stop-color="#00ff36"/><stop offset=".329" stop-color="#00ff72"/><stop offset=".333" stop-color="#00ffc1"/><stop offset=".338" stop-color="#00ff44"/><stop offset=".34" stop-color="#00ff28"/><stop offset=".343" stop-color="#00ff27"/><stop offset="1" stop-color="#00ff27"/></linearGradient><linearGradient id="d44"><stop offset="0" stop-color="#00ff28"/><stop offset=".09" stop-color="#00ff2c"/><stop offset=".119" stop-color="#00ff01"/><stop offset=".136" stop-color="#0aff00"/><stop offset=".143" stop-color="#2bff00"/><stop offset=".148" stop-color="#35ff00"/><stop offset=".243" stop-color="#34ff00"/><stop offset=".295" stop-color="#55ff00"/><stop offset=".305" stop-color="#3dff00"/><stop offset=".317" stop-color="#02ff00"/><stop offset=".319" stop-color="#00ff0e"/><stop offset=".324" stop-color="#00ff7c"/><stop offset=".326" stop-color="#00ffa1"/><stop offset=".329" stop-color="#00ff8e"/><stop offset=".331" stop-color="#00ff47"/><stop offset=".333" stop-color="#00ff27"/><stop offset=".336" stop-color="#00ff27"/><stop offset="1" stop-color="#00ff27"/></linearGradient><linearGradient id="d45"><stop offset="0" stop-color="#00ff27"/><stop offset=".086" stop-color="#00ff2a"/><stop offset=".098" stop-color="#00ff20"/><stop offset=".112" stop-color="#00ff02"/><stop offset=".136" stop-color="#0eff00"/><stop offset=".148" stop-color="#2dff00"/><stop offset=".238" stop-color="#2cff00"/><stop offset=".288" stop-color="#4aff00"/><stop offset=".3" stop-color="#32ff00"/><stop offset=".31" stop-color="#09ff00"/><stop offset=".312" stop-color="#00ff06"/><stop offset=".314" stop-color="#00ff1c"/><stop offset=".317" stop-color="#00ff59"/><stop offset=".319" stop-color="#00ff82"/><stop offset=".321" stop-color="#00ff98"/><stop offset=".324" stop-color="#00ff49"/><stop offset=".326" stop-color="#00ff27"/><stop offset=".329" stop-color="#00ff27"/><stop offset="1" stop-color="#00ff27"/></linearGradient><linearGradient id="d46"><stop offset="0" stop-color="#00ff27"/><stop offset=".083" stop-color="#00ff28"/><stop offset=".093" stop-color="#00ff21"/><stop offset=".11" stop-color="#01ff00"/><stop offset=".136" stop-color="#10ff00"/><stop offset=".148" stop-color="#25ff00"/><stop offset=".233" stop-color="#24ff00"/><stop offset=".283" stop-color="#3fff00"/><stop offset=".295" stop-color="#27ff00"/><stop offset=".305" stop-color="#01ff00"/><stop offset=".307" stop-color="#00ff0d"/><stop offset=".312" stop-color="#00ff61"/><stop offset=".314" stop-color="#00ff82"/><stop offset=".317" stop-color="#00ff4a"/><stop offset=".319" stop-color="#00ff27"/><stop offset=".321" stop-color="#00ff27"/><stop offset="1" stop-color="#00ff27"/></linearGradient><linearGradient id="d47"><stop offset="0" stop-color="#00ff27"/><stop offset=".081" stop-color="#00ff26"/><stop offset=".09" stop-color="#00ff1e"/><stop offset=".105" stop-color="#00ff00"/><stop offset=".148" stop-color="#1dff00"/><stop offset=".226" stop-color="#1cff00"/><stop offset=".279" stop-color="#35ff00"/><stop offset=".288" stop-color="#23ff00"/><stop offset=".298" stop-color="#05ff00"/><stop offset=".302" stop-color="#00ff13"/><stop offset=".307" stop-color="#00ff63"/><stop offset=".312" stop-color="#00ff27"/><stop offset=".314" stop-color="#00ff27"/><stop offset="1" stop-color="#00ff27"/></linearGradient><linearGradient id="d48"><stop offset="0" stop-color="#00ff27"/><stop offset=".079" stop-color="#00ff25"/><stop offset=".088" stop-color="#00ff1c"/><stop offset=".102" stop-color="#00ff00"/><stop offset=".145" stop-color="#14ff00"/><stop offset=".198" stop-color="#13ff00"/><stop offset=".25" stop-color="#29ff00"/><stop offset=".267" stop-color="#06ff00"/><stop offset=".274" stop-color="#00ff17"/><stop offset=".276" stop-color="#00ff3d"/><stop offset=".279" stop-color="#00ff54"/><stop offset=".281" stop-color="#00ff33"/><stop offset=".283" stop-color="#00ff27"/><stop offset="1" stop-color="#00ff27"/></linearGradient><linearGradient id="d49"><stop offset="0" stop-color="#00ff27"/><stop offset=".074" stop-color="#00ff25"/><stop offset=".102" stop-color="#02ff00"/><stop offset=".212" stop-color="#1cff00"/><stop offset=".226" stop-color="#04ff00"/><stop offset=".236" stop-color="#00ff1a"/><stop offset=".238" stop-color="#00ff31"/><stop offset=".24" stop-color="#00ff3c"/><stop offset=".245" stop-color="#00ff27"/><stop offset="1" stop-color="#00ff27"/></linearGradient><linearGradient id="d50"><stop offset="0" stop-color="#00ff27"/><stop offset=".071" stop-color="#00ff25"/><stop offset=".105" stop-color="#00ff00"/><stop offset=".167" stop-color="#11ff00"/><stop offset=".179" stop-color="#02ff00"/><stop offset=".186" stop-color="#00ff0d"/><stop offset=".195" stop-color="#00ff30"/><stop offset=".2" stop-color="#00ff27"/><stop offset="1" stop-color="#00ff27"/></linearGradient><linearGradient id="d51"><stop offset="0" stop-color="#00ff27"/><stop offset=".069" stop-color="#00ff25"/><stop offset=".1" stop-color="#00ff01"/><stop offset=".117" stop-color="#07ff00"/><stop offset=".124" stop-color="#01ff00"/><stop offset=".136" stop-color="#00ff10"/><stop offset=".145" stop-color="#00ff2c"/><stop offset="1" stop-color="#00ff27"/></linearGradient><linearGradient id="d52"><stop offset="0" stop-color="#00ff27"/><stop offset="1" stop-color="#00ff27"/></linearGradient></defs>
<rect x="103.5" y="587" width="420.1" height="275.5" fill="url(#d0)"/><rect x="103.5" y="862" width="420.1" height="13.5" fill="url(#d1)"/><rect x="103.5" y="875" width="420.1" height="3.5" fill="url(#d2)"/><rect x="103.5" y="878" width="420.1" height="2.5" fill="url(#d3)"/><rect x="103.5" y="880" width="420.1" height="1.5" fill="url(#d4)"/><rect x="103.5" y="881" width="420.1" height="1.5" fill="url(#d5)"/><rect x="103.5" y="882" width="420.1" height="1.5" fill="url(#d6)"/><rect x="103.5" y="883" width="420.1" height="1.5" fill="url(#d7)"/><rect x="103.5" y="884" width="420.1" height="2.5" fill="url(#d8)"/><rect x="103.5" y="886" width="420.1" height="1.5" fill="url(#d9)"/><rect x="103.5" y="887" width="420.1" height="1.5" fill="url(#d10)"/><rect x="103.5" y="888" width="420.1" height="4.5" fill="url(#d11)"/><rect x="103.5" y="892" width="420.1" height="4.5" fill="url(#d12)"/><rect x="103.5" y="896" width="420.1" height="4.5" fill="url(#d13)"/><rect x="103.5" y="900" width="420.1" height="12.5" fill="url(#d14)"/><rect x="103.5" y="912" width="420.1" height="9.5" fill="url(#d15)"/><rect x="103.5" y="921" width="420.1" height="3.5" fill="url(#d16)"/><rect x="103.5" y="924" width="420.1" height="10.5" fill="url(#d17)"/><rect x="103.5" y="934" width="420.1" height="11.5" fill="url(#d18)"/><rect x="103.5" y="945" width="420.1" height="2.5" fill="url(#d19)"/><rect x="103.5" y="947" width="420.1" height="2.5" fill="url(#d20)"/><rect x="103.5" y="949" width="420.1" height="1.5" fill="url(#d21)"/><rect x="103.5" y="950" width="420.1" height="1.5" fill="url(#d22)"/><rect x="103.5" y="951" width="420.1" height="1.5" fill="url(#d23)"/><rect x="103.5" y="952" width="420.1" height="1.5" fill="url(#d24)"/><rect x="103.5" y="953" width="420.1" height="1.5" fill="url(#d25)"/><rect x="103.5" y="954" width="420.1" height="2.5" fill="url(#d26)"/><rect x="103.5" y="956" width="420.1" height="1.5" fill="url(#d27)"/><rect x="103.5" y="957" width="420.1" height="1.5" fill="url(#d28)"/><rect x="103.5" y="958" width="420.1" height="1.5" fill="url(#d29)"/><rect x="103.5" y="959" width="420.1" height="1.5" fill="url(#d30)"/><rect x="103.5" y="960" width="420.1" height="1.5" fill="url(#d31)"/><rect x="103.5" y="961" width="420.1" height="1.5" fill="url(#d32)"/><rect x="103.5" y="962" width="420.1" height="1.5" fill="url(#d33)"/><rect x="103.5" y="963" width="420.1" height="1.5" fill="url(#d34)"/><rect x="103.5" y="964" width="420.1" height="1.5" fill="url(#d35)"/><rect x="103.5" y="965" width="420.1" height="1.5" fill="url(#d36)"/><rect x="103.5" y="966" width="420.1" height="1.5" fill="url(#d37)"/><rect x="103.5" y="967" width="420.1" height="1.5" fill="url(#d38)"/><rect x="103.5" y="968" width="420.1" height="1.5" fill="url(#d39)"/><rect x="103.5" y="969" width="420.1" height="1.5" fill="url(#d40)"/><rect x="103.5" y="970" width="420.1" height="1.5" fill="url(#d41)"/><rect x="103.5" y="971" width="420.1" height="1.5" fill="url(#d42)"/><rect x="103.5" y="972" width="420.1" height="1.5" fill="url(#d43)"/><rect x="103.5" y="973" width="420.1" height="1.5" fill="url(#d44)"/><rect x="103.5" y="974" width="420.1" height="1.5" fill="url(#d45)"/><rect x="103.5" y="975" width="420.1" height="1.5" fill="url(#d46)"/><rect x="103.5" y="976" width="420.1" height="1.5" fill="url(#d47)"/><rect x="103.5" y="977" width="420.1" height="1.5" fill="url(#d48)"/><rect x="103.5" y="978" width="420.1" height="1.5" fill="url(#d49)"/><rect x="103.5" y="979" width="420.1" height="1.5" fill="url(#d50)"/><rect x="103.5" y="980" width="420.1" height="1.5" fill="url(#d51)"/><rect x="103.5" y="981" width="420.1" height="10" fill="url(#d52)"/>
<!-- panel e --><defs><linearGradient id="e0"><stop offset="0" stop-color="#ff1a00"/><stop offset=".138" stop-color="#ff1a00"/><stop offset=".167" stop-color="#ff0100"/><stop offset=".176" stop-color="#ff1600"/><stop offset=".186" stop-color="#ff4000"/><stop offset=".2" stop-color="#ff9200"/><stop offset=".21" stop-color="#ffe500"/><stop offset=".214" stop-color="#f3ff00"/><stop offset=".238" stop-color="#41ff00"/><stop offset=".252" stop-color="#00ff01"/><stop offset=".271" stop-color="#00ff2f"/><stop offset=".31" stop-color="#00ffd6"/><stop offset=".324" stop-color="#00fdff"/><stop offset=".357" stop-color="#00c7ff"/><stop offset=".395" stop-color="#00c5ff"/><stop offset=".5" stop-color="#00dcff"/><stop offset=".6" stop-color="#00fffe"/><stop offset=".862" stop-color="#00ff96"/><stop offset="1" stop-color="#00ff76"/></linearGradient><linearGradient id="e1"><stop offset="0" stop-color="#ff1b00"/><stop offset=".138" stop-color="#ff1a00"/><stop offset=".167" stop-color="#ff0100"/><stop offset=".176" stop-color="#ff1800"/><stop offset=".19" stop-color="#ff5b00"/><stop offset=".2" stop-color="#ff9300"/><stop offset=".21" stop-color="#ffec00"/><stop offset=".214" stop-color="#ecff00"/><stop offset=".238" stop-color="#3bff00"/><stop offset=".248" stop-color="#0bff00"/><stop offset=".252" stop-color="#00ff04"/><stop offset=".271" stop-color="#00ff31"/><stop offset=".31" stop-color="#00ffd7"/><stop offset=".324" stop-color="#00fdff"/><stop offset=".357" stop-color="#00c2ff"/><stop offset=".4" stop-color="#00beff"/><stop offset=".5" stop-color="#00d3ff"/><stop offset=".595" stop-color="#00fffe"/><stop offset=".843" stop-color="#00ff9d"/><stop offset="1" stop-color="#00ff78"/></linearGradient><linearGradient id="e2"><stop offset="0" stop-color="#ff1c00"/><stop offset=".133" stop-color="#ff1c00"/><stop offset=".167" stop-color="#ff0200"/><stop offset=".181" stop-color="#ff2c00"/><stop offset=".195" stop-color="#ff7600"/><stop offset=".2" stop-color="#ff9500"/><stop offset=".21" stop-color="#fff500"/><stop offset=".214" stop-color="#e2ff00"/><stop offset=".233" stop-color="#4fff00"/><stop offset=".248" stop-color="#06ff00"/><stop offset=".262" stop-color="#00ff17"/><stop offset=".271" stop-color="#00ff34"/><stop offset=".31" stop-color="#00ffd7"/><stop offset=".324" stop-color="#00fcff"/><stop offset=".357" stop-color="#00bcff"/><stop offset=".4" stop-color="#00b6ff"/><stop offset=".495" stop-color="#00ccff"/><stop offset=".59" stop-color="#00ffff"/><stop offset=".824" stop-color="#00ffa4"/><stop offset="1" stop-color="#00ff79"/></linearGradient><linearGradient id="e3"><stop offset="0" stop-color="#ff1f00"/><stop offset=".129" stop-color="#ff1f00"/><stop offset=".157" stop-color="#ff0200"/><stop offset=".167" stop-color="#ff0300"/><stop offset=".181" stop-color="#ff2d00"/><stop offset=".195" stop-color="#ff7700"/><stop offset=".2" stop-color="#ff9800"/><stop offset=".21" stop-color="#ffff00"/><stop offset=".233" stop-color="#45ff00"/><stop offset=".248" stop-color="#01ff00"/><stop offset=".271" stop-color="#00ff38"/><stop offset=".31" stop-color="#00ffd8"/><stop offset=".324" stop-color="#00fbff"/><stop offset=".357" stop-color="#00b4ff"/><stop offset=".4" stop-color="#00adff"/><stop offset=".49" stop-color="#00c6ff"/><stop offset=".586" stop-color="#00ffff"/><stop offset=".805" stop-color="#00ffaa"/><stop offset="1" stop-color="#00ff78"/></linearGradient><linearGradient id="e4"><stop offset="0" stop-color="#ff2500"/><stop offset=".129" stop-color="#ff2400"/><stop offset=".157" stop-color="#ff0500"/><stop offset=".167" stop-color="#ff0700"/><stop offset=".176" stop-color="#ff2000"/><stop offset=".19" stop-color="#ff6300"/><stop offset=".2" stop-color="#ffa100"/><stop offset=".205" stop-color="#ffd700"/><stop offset=".21" stop-color="#f8ff00"/><stop offset=".233" stop-color="#3dff00"/><stop offset=".243" stop-color="#0cff00"/><stop offset=".248" stop-color="#00ff03"/><stop offset=".267" stop-color="#00ff2f"/><stop offset=".305" stop-color="#00ffd0"/><stop offset=".319" stop-color="#00ffff"/><stop offset=".343" stop-color="#00c3ff"/><stop offset=".357" stop-color="#00acff"/><stop offset=".395" stop-color="#00a8ff"/><stop offset=".486" stop-color="#00c2ff"/><stop offset=".586" stop-color="#00fffe"/><stop offset=".795" stop-color="#00ffab"/><stop offset="1" stop-color="#00ff75"/></linearGradient><linearGradient id="e5"><stop offset="0" stop-color="#ff2a00"/><stop offset=".129" stop-color="#ff2900"/><stop offset=".162" stop-color="#ff0700"/><stop offset=".171" stop-color="#ff1600"/><stop offset=".186" stop-color="#ff5000"/><stop offset=".2" stop-color="#ffa800"/><stop offset=".205" stop-color="#ffdd00"/><stop offset=".21" stop-color="#f3ff00"/><stop offset=".229" stop-color="#58ff00"/><stop offset=".243" stop-color="#08ff00"/><stop offset=".262" stop-color="#00ff26"/><stop offset=".305" stop-color="#00ffdb"/><stop offset=".314" stop-color="#00fffb"/><stop offset=".319" stop-color="#00f7ff"/><stop offset=".352" stop-color="#00abff"/><stop offset=".395" stop-color="#00a5ff"/><stop offset=".486" stop-color="#00c2ff"/><stop offset=".581" stop-color="#00ffff"/><stop offset=".79" stop-color="#00ffaa"/><stop offset="1" stop-color="#00ff71"/></linearGradient><linearGradient id="e6"><stop offset="0" stop-color="#ff2f00"/><stop offset=".124" stop-color="#ff2f00"/><stop offset=".162" stop-color="#ff0b00"/><stop offset=".171" stop-color="#ff1b00"/><stop offset=".186" stop-color="#ff5600"/><stop offset=".195" stop-color="#ff8b00"/><stop offset=".2" stop-color="#ffaf00"/><stop offset=".205" stop-color="#ffe300"/><stop offset=".21" stop-color="#efff00"/><stop offset=".229" stop-color="#52ff00"/><stop offset=".243" stop-color="#04ff00"/><stop offset=".262" stop-color="#00ff2d"/><stop offset=".3" stop-color="#00ffd3"/><stop offset=".314" stop-color="#00fbff"/><stop offset=".338" stop-color="#00bdff"/><stop offset=".352" stop-color="#00a6ff"/><stop offset=".395" stop-color="#00a2ff"/><stop offset=".481" stop-color="#00bfff"/><stop offset=".581" stop-color="#00fffe"/><stop offset=".786" stop-color="#00ffaa"/><stop offset="1" stop-color="#00ff6d"/></linearGradient><linearGradient id="e7"><stop offset="0" stop-color="#ff3400"/><stop offset=".124" stop-color="#ff3300"/><stop offset=".162" stop-color="#ff0f00"/><stop offset=".171" stop-color="#ff2000"/><stop offset=".186" stop-color="#ff5b00"/><stop offset=".195" stop-color="#ff9000"/><stop offset=".2" stop-color="#ffb500"/><stop offset=".205" stop-color="#ffea00"/><stop offset=".21" stop-color="#e9ff00"/><stop offset=".229" stop-color="#4cff00"/><stop offset=".243" stop-color="#00ff00"/><stop offset=".262" stop-color="#00ff34"/><stop offset=".305" stop-color="#00fff0"/><stop offset=".314" stop-color="#00f3ff"/><stop offset=".348" stop-color="#00a5ff"/><stop offset=".395" stop-color="#009fff"/><stop offset=".481" stop-color="#00beff"/><stop offset=".576" stop-color="#00feff"/><stop offset=".781" stop-color="#00ffa9"/><stop offset="1" stop-color="#00ff69"/></linearGradient><linearGradient id="e8"><stop offset="0" stop-color="#ff3800"/><stop offset=".124" stop-color="#ff3700"/><stop offset=".162" stop-color="#ff1400"/><stop offset=".171" stop-color="#ff2400"/><stop offset=".186" stop-color="#ff5f00"/><stop offset=".195" stop-color="#ff9400"/><stop offset=".2" stop-color="#ffbb00"/><stop offset=".205" stop-color="#fff100"/><stop offset=".21" stop-color="#e2ff00"/><stop offset=".229" stop-color="#44ff00"/><stop offset=".238" stop-color="#0dff00"/><stop offset=".243" stop-color="#00ff04"/><stop offset=".257" stop-color="#00ff2a"/><stop offset=".295" stop-color="#00ffd7"/><stop offset=".305" stop-color="#00fff9"/><stop offset=".31" stop-color="#00f7ff"/><stop offset=".333" stop-color="#00b7ff"/><stop offset=".348" stop-color="#009eff"/><stop offset=".39" stop-color="#009aff"/><stop offset=".476" stop-color="#00bbff"/><stop offset=".576" stop-color="#00ffff"/><stop offset=".771" stop-color="#00ffab"/><stop offset="1" stop-color="#00ff64"/></linearGradient><linearGradient id="e9"><stop offset="0" stop-color="#ff3c00"/><stop offset=".119" stop-color="#ff3c00"/><stop offset=".162" stop-color="#ff1800"/><stop offset=".171" stop-color="#ff2900"/><stop offset=".186" stop-color="#ff6400"/><stop offset=".195" stop-color="#ff9900"/><stop offset=".205" stop-color="#fffb00"/><stop offset=".224" stop-color="#5eff00"/><stop offset=".238" stop-color="#07ff00"/><stop offset=".257" stop-color="#00ff31"/><stop offset=".29" stop-color="#00ffcd"/><stop offset=".305" stop-color="#00fdff"/><stop offset=".338" stop-color="#00a3ff"/><stop offset=".362" stop-color="#0093ff"/><stop offset=".429" stop-color="#009fff"/><stop offset=".576" stop-color="#00fffe"/><stop offset=".762" stop-color="#00ffab"/><stop offset="1" stop-color="#00ff5f"/></linearGradient><linearGradient id="e10"><stop offset="0" stop-color="#ff3e00"/><stop offset=".119" stop-color="#ff3e00"/><stop offset=".162" stop-color="#ff1e00"/><stop offset=".171" stop-color="#ff3000"/><stop offset=".181" stop-color="#ff5600"/><stop offset=".195" stop-color="#ffa600"/><stop offset=".2" stop-color="#ffd800"/><stop offset=".205" stop-color="#f7ff00"/><stop offset=".224" stop-color="#54ff00"/><stop offset=".238" stop-color="#01ff00"/><stop offset=".257" stop-color="#00ff36"/><stop offset=".29" stop-color="#00ffd5"/><stop offset=".3" stop-color="#00fffa"/><stop offset=".305" stop-color="#00f5ff"/><stop offset=".338" stop-color="#0098ff"/><stop offset=".348" stop-color="#008bff"/><stop offset=".367" stop-color="#0088ff"/><stop offset=".424" stop-color="#0097ff"/><stop offset=".571" stop-color="#00ffff"/><stop offset=".757" stop-color="#00ffa9"/><stop offset="1" stop-color="#00ff57"/></linearGradient><linearGradient id="e11"><stop offset="0" stop-color="#ff4100"/><stop offset=".119" stop-color="#ff4000"/><stop offset=".162" stop-color="#ff2300"/><stop offset=".171" stop-color="#ff3700"/><stop offset=".186" stop-color="#ff7800"/><stop offset=".195" stop-color="#ffb800"/><stop offset=".2" stop-color="#ffe800"/><stop offset=".205" stop-color="#ecff00"/><stop offset=".219" stop-color="#6fff00"/><stop offset=".229" stop-color="#29ff00"/><stop offset=".238" stop-color="#00ff03"/><stop offset=".257" stop-color="#00ff3b"/><stop offset=".286" stop-color="#00ffc8"/><stop offset=".3" stop-color="#00fdff"/><stop offset=".333" stop-color="#0096ff"/><stop offset=".352" stop-color="#007dff"/><stop offset=".41" stop-color="#0087ff"/><stop offset=".571" stop-color="#00fffe"/><stop offset=".757" stop-color="#00ffa5"/><stop offset="1" stop-color="#00ff50"/></linearGradient><linearGradient id="e12"><stop offset="0" stop-color="#ff4300"/><stop offset=".114" stop-color="#ff4300"/><stop offset=".162" stop-color="#ff2700"/><stop offset=".171" stop-color="#ff3e00"/><stop offset=".186" stop-color="#ff8200"/><stop offset=".19" stop-color="#ff9e00"/><stop offset=".2" stop-color="#fff600"/><stop offset=".205" stop-color="#e0ff00"/><stop offset=".224" stop-color="#3fff00"/><stop offset=".233" stop-color="#08ff00"/><stop offset=".252" stop-color="#00ff2d"/><stop offset=".29" stop-color="#00ffe5"/><stop offset=".3" stop-color="#00f6ff"/><stop offset=".333" stop-color="#008bff"/><stop offset=".343" stop-color="#0079ff"/><stop offset=".357" stop-color="#0073ff"/><stop offset=".405" stop-color="#007dff"/><stop offset=".567" stop-color="#00ffff"/><stop offset=".748" stop-color="#00ffa6"/><stop offset="1" stop-color="#00ff49"/></linearGradient><linearGradient id="e13"><stop offset="0" stop-color="#ff4500"/><stop offset=".114" stop-color="#ff4500"/><stop offset=".162" stop-color="#ff2c00"/><stop offset=".171" stop-color="#ff4500"/><stop offset=".186" stop-color="#ff8c00"/><stop offset=".2" stop-color="#fdff00"/><stop offset=".224" stop-color="#35ff00"/><stop offset=".233" stop-color="#02ff00"/><stop offset=".252" stop-color="#00ff31"/><stop offset=".295" stop-color="#00ffff"/><stop offset=".329" stop-color="#008dff"/><stop offset=".343" stop-color="#006eff"/><stop offset=".352" stop-color="#0069ff"/><stop offset=".4" stop-color="#0073ff"/><stop offset=".567" stop-color="#00fffe"/><stop offset=".738" stop-color="#00ffa7"/><stop offset="1" stop-color="#00ff43"/></linearGradient><linearGradient id="e14"><stop offset="0" stop-color="#ff4800"/><stop offset=".114" stop-color="#ff4700"/><stop offset=".162" stop-color="#ff3000"/><stop offset=".171" stop-color="#ff4d00"/><stop offset=".181" stop-color="#ff7c00"/><stop offset=".186" stop-color="#ff9700"/><stop offset=".195" stop-color="#ffe600"/><stop offset=".2" stop-color="#f1ff00"/><stop offset=".219" stop-color="#4dff00"/><stop offset=".229" stop-color="#0fff00"/><stop offset=".233" stop-color="#00ff03"/><stop offset=".252" stop-color="#00ff37"/><stop offset=".286" stop-color="#00ffe2"/><stop offset=".295" stop-color="#00f7ff"/><stop offset=".329" stop-color="#0081ff"/><stop offset=".343" stop-color="#0064ff"/><stop offset=".352" stop-color="#005fff"/><stop offset=".395" stop-color="#0069ff"/><stop offset=".562" stop-color="#00feff"/><stop offset=".719" stop-color="#00ffae"/><stop offset="1" stop-color="#00ff3d"/></linearGradient><linearGradient id="e15"><stop offset="0" stop-color="#ff4a00"/><stop offset=".114" stop-color="#ff4a00"/><stop offset=".162" stop-color="#ff3400"/><stop offset=".171" stop-color="#ff5400"/><stop offset=".181" stop-color="#ff8500"/><stop offset=".186" stop-color="#ffa200"/><stop offset=".195" stop-color="#fff200"/><stop offset=".2" stop-color="#e6ff00"/><stop offset=".219" stop-color="#41ff00"/><stop offset=".229" stop-color="#08ff00"/><stop offset=".248" stop-color="#00ff2a"/><stop offset=".286" stop-color="#00ffeb"/><stop offset=".29" stop-color="#00fffe"/><stop offset=".295" stop-color="#00eeff"/><stop offset=".319" stop-color="#0095ff"/><stop offset=".333" stop-color="#006bff"/><stop offset=".348" stop-color="#0057ff"/><stop offset=".367" stop-color="#0057ff"/><stop offset=".395" stop-color="#0062ff"/><stop offset=".495" stop-color="#00c9ff"/><stop offset=".562" stop-color="#00ffff"/><stop offset=".686" stop-color="#00ffbc"/><stop offset="1" stop-color="#00ff37"/></linearGradient><linearGradient id="e16"><stop offset="0" stop-color="#ff4c00"/><stop offset=".114" stop-color="#ff4b00"/><stop offset=".148" stop-color="#ff3600"/><stop offset=".162" stop-color="#ff3700"/><stop offset=".171" stop-color="#ff5a00"/><stop offset=".181" stop-color="#ff8c00"/><stop offset=".195" stop-color="#fffb00"/><stop offset=".219" stop-color="#38ff00"/><stop offset=".229" stop-color="#03ff00"/><stop offset=".248" stop-color="#00ff2f"/><stop offset=".281" stop-color="#00ffde"/><stop offset=".29" stop-color="#00f9ff"/><stop offset=".319" stop-color="#008dff"/><stop offset=".333" stop-color="#0064ff"/><stop offset=".348" stop-color="#0051ff"/><stop offset=".371" stop-color="#0050ff"/><stop offset=".39" stop-color="#0059ff"/><stop offset=".49" stop-color="#00c5ff"/><stop offset=".562" stop-color="#00fffe"/><stop offset=".671" stop-color="#00ffc3"/><stop offset=".905" stop-color="#00ff63"/><stop offset="1" stop-color="#00ff2f"/></linearGradient><linearGradient id="e17"><stop offset="0" stop-color="#ff4d00"/><stop offset=".11" stop-color="#ff4d00"/><stop offset=".157" stop-color="#ff3500"/><stop offset=".162" stop-color="#ff3a00"/><stop offset=".171" stop-color="#ff5e00"/><stop offset=".181" stop-color="#ff9100"/><stop offset=".195" stop-color="#fdff00"/><stop offset=".219" stop-color="#31ff00"/><stop offset=".229" stop-color="#00ff01"/><stop offset=".248" stop-color="#00ff35"/><stop offset=".281" stop-color="#00ffe4"/><stop offset=".286" stop-color="#00fff9"/><stop offset=".29" stop-color="#00f3ff"/><stop offset=".319" stop-color="#0087ff"/><stop offset=".333" stop-color="#005fff"/><stop offset=".348" stop-color="#004cff"/><stop offset=".371" stop-color="#004bff"/><stop offset=".39" stop-color="#0055ff"/><stop offset=".438" stop-color="#0091ff"/><stop offset=".557" stop-color="#00feff"/><stop offset=".657" stop-color="#00ffca"/><stop offset=".895" stop-color="#00ff68"/><stop offset="1" stop-color="#00ff23"/></linearGradient><linearGradient id="e18"><stop offset="0" stop-color="#ff4f00"/><stop offset=".11" stop-color="#ff4f00"/><stop offset=".157" stop-color="#ff3600"/><stop offset=".162" stop-color="#ff3c00"/><stop offset=".171" stop-color="#ff6100"/><stop offset=".181" stop-color="#ff9500"/><stop offset=".19" stop-color="#ffe000"/><stop offset=".195" stop-color="#f7ff00"/><stop offset=".219" stop-color="#2aff00"/><stop offset=".229" stop-color="#00ff03"/><stop offset=".243" stop-color="#00ff26"/><stop offset=".281" stop-color="#00ffea"/><stop offset=".286" stop-color="#00fffe"/><stop offset=".29" stop-color="#00eeff"/><stop offset=".319" stop-color="#0083ff"/><stop offset=".333" stop-color="#005bff"/><stop offset=".348" stop-color="#0049ff"/><stop offset=".371" stop-color="#0047ff"/><stop offset=".39" stop-color="#0052ff"/><stop offset=".433" stop-color="#008cff"/><stop offset=".49" stop-color="#00c6ff"/><stop offset=".557" stop-color="#00fffe"/><stop offset=".648" stop-color="#00ffcd"/><stop offset=".886" stop-color="#00ff6c"/><stop offset=".943" stop-color="#00ff4a"/><stop offset="1" stop-color="#00ff15"/></linearGradient><linearGradient id="e19"><stop offset="0" stop-color="#ff5000"/><stop offset=".11" stop-color="#ff5000"/><stop offset=".157" stop-color="#ff3800"/><stop offset=".162" stop-color="#ff3e00"/><stop offset=".171" stop-color="#ff6500"/><stop offset=".181" stop-color="#ff9a00"/><stop offset=".19" stop-color="#ffe600"/><stop offset=".195" stop-color="#f1ff00"/><stop offset=".214" stop-color="#47ff00"/><stop offset=".224" stop-color="#09ff00"/><stop offset=".243" stop-color="#00ff2c"/><stop offset=".276" stop-color="#00ffda"/><stop offset=".286" stop-color="#00fbff"/><stop offset=".314" stop-color="#008eff"/><stop offset=".333" stop-color="#0057ff"/><stop offset=".348" stop-color="#0045ff"/><stop offset=".367" stop-color="#0042ff"/><stop offset=".386" stop-color="#004aff"/><stop offset=".438" stop-color="#0090ff"/><stop offset=".552" stop-color="#00feff"/><stop offset=".638" stop-color="#00ffd1"/><stop offset=".881" stop-color="#00ff6c"/><stop offset=".933" stop-color="#00ff49"/><stop offset="1" stop-color="#01ff04"/></linearGradient><linearGradient id="e20"><stop offset="0" stop-color="#ff5200"/><stop offset=".11" stop-color="#ff5100"/><stop offset=".157" stop-color="#ff3900"/><stop offset=".162" stop-color="#ff4000"/><stop offset=".171" stop-color="#ff6900"/><stop offset=".181" stop-color="#ff9f00"/><stop offset=".19" stop-color="#ffec00"/><stop offset=".195" stop-color="#ebff00"/><stop offset=".214" stop-color="#3eff00"/><stop offset=".224" stop-color="#04ff00"/><stop offset=".243" stop-color="#00ff32"/><stop offset=".276" stop-color="#00ffe1"/><stop offset=".286" stop-color="#00f6ff"/><stop offset=".314" stop-color="#0089ff"/><stop offset=".329" stop-color="#005eff"/><stop offset=".343" stop-color="#0044ff"/><stop offset=".367" stop-color="#003dff"/><stop offset=".386" stop-color="#0047ff"/><stop offset=".438" stop-color="#0090ff"/><stop offset=".552" stop-color="#00ffff"/><stop offset=".633" stop-color="#00ffd2"/><stop offset=".862" stop-color="#00ff73"/><stop offset=".914" stop-color="#00ff50"/><stop offset=".981" stop-color="#00ff06"/><stop offset="1" stop-color="#0dff00"/></linearGradient><linearGradient id="e21"><stop offset="0" stop-color="#ff5300"/><stop offset=".11" stop-color="#ff5300"/><stop offset=".157" stop-color="#ff3a00"/><stop offset=".162" stop-color="#ff4300"/><stop offset=".171" stop-color="#ff6d00"/><stop offset=".181" stop-color="#ffa400"/><stop offset=".19" stop-color="#fff300"/><stop offset=".195" stop-color="#e3ff00"/><stop offset=".214" stop-color="#35ff00"/><stop offset=".224" stop-color="#00ff01"/><stop offset=".243" stop-color="#00ff39"/><stop offset=".276" stop-color="#00ffe8"/><stop offset=".281" stop-color="#00fffc"/><stop offset=".286" stop-color="#00f0ff"/><stop offset=".314" stop-color="#0084ff"/><stop offset=".329" stop-color="#0059ff"/><stop offset=".343" stop-color="#0041ff"/><stop offset=".367" stop-color="#0039ff"/><stop offset=".386" stop-color="#0043ff"/><stop offset=".433" stop-color="#008aff"/><stop offset=".486" stop-color="#00c4ff"/><stop offset=".552" stop-color="#00fffe"/><stop offset=".629" stop-color="#00ffd3"/><stop offset=".838" stop-color="#00ff7c"/><stop offset=".895" stop-color="#00ff55"/><stop offset=".967" stop-color="#01ff04"/><stop offset="1" stop-color="#15ff00"/></linearGradient><linearGradient id="e22"><stop offset="0" stop-color="#ff5500"/><stop offset=".11" stop-color="#ff5400"/><stop offset=".157" stop-color="#ff3b00"/><stop offset=".167" stop-color="#ff5800"/><stop offset=".176" stop-color="#ff8b00"/><stop offset=".19" stop-color="#fff800"/><stop offset=".195" stop-color="#ddff00"/><stop offset=".214" stop-color="#2eff00"/><stop offset=".219" stop-color="#0fff00"/><stop offset=".224" stop-color="#00ff04"/><stop offset=".233" stop-color="#00ff1a"/><stop offset=".243" stop-color="#00ff3f"/><stop offset=".271" stop-color="#00ffd8"/><stop offset=".281" stop-color="#00fdff"/><stop offset=".31" stop-color="#0090ff"/><stop offset=".329" stop-color="#0056ff"/><stop offset=".343" stop-color="#003eff"/><stop offset=".367" stop-color="#0035ff"/><stop offset=".386" stop-color="#0040ff"/><stop offset=".429" stop-color="#0084ff"/><stop offset=".471" stop-color="#00b6ff"/><stop offset=".548" stop-color="#00feff"/><stop offset=".624" stop-color="#00ffd4"/><stop offset=".824" stop-color="#00ff80"/><stop offset=".881" stop-color="#00ff59"/><stop offset=".957" stop-color="#01ff00"/><stop offset="1" stop-color="#19ff00"/></linearGradient><linearGradient id="e23"><stop offset="0" stop-color="#ff5500"/><stop offset=".11" stop-color="#ff5500"/><stop offset=".157" stop-color="#ff3c00"/><stop offset=".167" stop-color="#ff5a00"/><stop offset=".176" stop-color="#ff8e00"/><stop offset=".19" stop-color="#fffc00"/><stop offset=".21" stop-color="#50ff00"/><stop offset=".219" stop-color="#0cff00"/><stop offset=".224" stop-color="#00ff06"/><stop offset=".238" stop-color="#00ff2e"/><stop offset=".271" stop-color="#00ffdc"/><stop offset=".281" stop-color="#00faff"/><stop offset=".31" stop-color="#008dff"/><stop offset=".329" stop-color="#0054ff"/><stop offset=".343" stop-color="#003cff"/><stop offset=".367" stop-color="#0033ff"/><stop offset=".386" stop-color="#003fff"/><stop offset=".429" stop-color="#0084ff"/><stop offset=".471" stop-color="#00b6ff"/><stop offset=".548" stop-color="#00ffff"/><stop offset=".614" stop-color="#00ffd8"/><stop offset=".833" stop-color="#00ff76"/><stop offset=".876" stop-color="#00ff56"/><stop offset=".948" stop-color="#00ff00"/><stop offset="1" stop-color="#1bff00"/></linearGradient><linearGradient id="e24"><stop offset="0" stop-color="#ff5600"/><stop offset=".105" stop-color="#ff5600"/><stop offset=".157" stop-color="#ff3d00"/><stop offset=".167" stop-color="#ff5c00"/><stop offset=".176" stop-color="#ff9000"/><stop offset=".19" stop-color="#feff00"/><stop offset=".21" stop-color="#4aff00"/><stop offset=".219" stop-color="#08ff00"/><stop offset=".229" stop-color="#00ff12"/><stop offset=".238" stop-color="#00ff33"/><stop offset=".271" stop-color="#00ffe0"/><stop offset=".281" stop-color="#00f6ff"/><stop offset=".31" stop-color="#008aff"/><stop offset=".329" stop-color="#0052ff"/><stop offset=".343" stop-color="#003aff"/><stop offset=".367" stop-color="#0030ff"/><stop offset=".386" stop-color="#003dff"/><stop offset=".429" stop-color="#0083ff"/><stop offset=".471" stop-color="#00b6ff"/><stop offset=".548" stop-color="#00fffe"/><stop offset=".824" stop-color="#00ff79"/><stop offset=".867" stop-color="#00ff57"/><stop offset=".938" stop-color="#00ff01"/><stop offset=".962" stop-color="#12ff00"/><stop offset="1" stop-color="#1dff00"/></linearGradient><linearGradient id="e25"><stop offset="0" stop-color="#ff5700"/><stop offset=".105" stop-color="#ff5700"/><stop offset=".157" stop-color="#ff3e00"/><stop offset=".167" stop-color="#ff5e00"/><stop offset=".176" stop-color="#ff9200"/><stop offset=".19" stop-color="#faff00"/><stop offset=".21" stop-color="#45ff00"/><stop offset=".219" stop-color="#05ff00"/><stop offset=".229" stop-color="#00ff14"/><stop offset=".238" stop-color="#00ff37"/><stop offset=".271" stop-color="#00ffe5"/><stop offset=".276" stop-color="#00fff9"/><stop offset=".281" stop-color="#00f3ff"/><stop offset=".31" stop-color="#0088ff"/><stop offset=".329" stop-color="#004fff"/><stop offset=".343" stop-color="#0038ff"/><stop offset=".367" stop-color="#002eff"/><stop offset=".386" stop-color="#003bff"/><stop offset=".429" stop-color="#0083ff"/><stop offset=".471" stop-color="#00b7ff"/><stop offset=".548" stop-color="#00fffd"/><stop offset=".814" stop-color="#00ff7b"/><stop offset=".852" stop-color="#00ff5e"/><stop offset=".929" stop-color="#00ff02"/><stop offset=".952" stop-color="#12ff00"/><stop offset="1" stop-color="#1fff00"/></linearGradient><linearGradient id="e26"><stop offset="0" stop-color="#ff5800"/><stop offset=".105" stop-color="#ff5800"/><stop offset=".157" stop-color="#ff3f00"/><stop offset=".162" stop-color="#ff4b00"/><stop offset=".171" stop-color="#ff7a00"/><stop offset=".181" stop-color="#ffb600"/><stop offset=".186" stop-color="#ffdf00"/><stop offset=".19" stop-color="#f6ff00"/><stop offset=".21" stop-color="#3fff00"/><stop offset=".219" stop-color="#01ff00"/><stop offset=".233" stop-color="#00ff27"/><stop offset=".271" stop-color="#00ffe9"/><stop offset=".276" stop-color="#00fffd"/><stop offset=".281" stop-color="#00efff"/><stop offset=".31" stop-color="#0085ff"/><stop offset=".329" stop-color="#004dff"/><stop offset=".343" stop-color="#0036ff"/><stop offset=".367" stop-color="#002bff"/><stop offset=".386" stop-color="#0039ff"/><stop offset=".429" stop-color="#0083ff"/><stop offset=".457" stop-color="#00a6ff"/><stop offset=".543" stop-color="#00feff"/><stop offset=".81" stop-color="#00ff79"/><stop offset=".843" stop-color="#00ff5f"/><stop offset=".924" stop-color="#02ff00"/><stop offset=".948" stop-color="#14ff00"/><stop offset="1" stop-color="#21ff00"/></linearGradient><linearGradient id="e27"><stop offset="0" stop-color="#ff5900"/><stop offset=".105" stop-color="#ff5900"/><stop offset=".157" stop-color="#ff4000"/><stop offset=".167" stop-color="#ff6300"/><stop offset=".176" stop-color="#ff9800"/><stop offset=".186" stop-color="#ffe400"/><stop offset=".19" stop-color="#f1ff00"/><stop offset=".21" stop-color="#38ff00"/><stop offset=".219" stop-color="#00ff02"/><stop offset=".238" stop-color="#00ff40"/><stop offset=".267" stop-color="#00ffd7"/><stop offset=".276" stop-color="#00feff"/><stop offset=".31" stop-color="#0082ff"/><stop offset=".329" stop-color="#004bff"/><stop offset=".343" stop-color="#0034ff"/><stop offset=".367" stop-color="#0029ff"/><stop offset=".386" stop-color="#0038ff"/><stop offset=".424" stop-color="#007cff"/><stop offset=".457" stop-color="#00a7ff"/><stop offset=".543" stop-color="#00ffff"/><stop offset=".8" stop-color="#00ff7b"/><stop offset=".833" stop-color="#00ff60"/><stop offset=".914" stop-color="#01ff00"/><stop offset=".938" stop-color="#13ff00"/><stop offset="1" stop-color="#23ff00"/></linearGradient><linearGradient id="e28"><stop offset="0" stop-color="#ff5a00"/><stop offset=".105" stop-color="#ff5a00"/><stop offset=".157" stop-color="#ff4200"/><stop offset=".167" stop-color="#ff6500"/><stop offset=".176" stop-color="#ff9b00"/><stop offset=".186" stop-color="#ffe800"/><stop offset=".19" stop-color="#ecff00"/><stop offset=".205" stop-color="#5dff00"/><stop offset=".214" stop-color="#10ff00"/><stop offset=".219" stop-color="#00ff04"/><stop offset=".233" stop-color="#00ff30"/><stop offset=".267" stop-color="#00ffdc"/><stop offset=".276" stop-color="#00faff"/><stop offset=".31" stop-color="#007fff"/><stop offset=".329" stop-color="#0049ff"/><stop offset=".343" stop-color="#0032ff"/><stop offset=".367" stop-color="#0027ff"/><stop offset=".386" stop-color="#0036ff"/><stop offset=".424" stop-color="#007cff"/><stop offset=".457" stop-color="#00a7ff"/><stop offset=".543" stop-color="#00ffff"/><stop offset=".79" stop-color="#00ff7d"/><stop offset=".824" stop-color="#00ff61"/><stop offset=".905" stop-color="#00ff00"/><stop offset=".929" stop-color="#13ff00"/><stop offset="1" stop-color="#25ff00"/></linearGradient><linearGradient id="e29"><stop offset="0" stop-color="#ff5b00"/><stop offset=".105" stop-color="#ff5b00"/><stop offset=".157" stop-color="#ff4300"/><stop offset=".167" stop-color="#ff6800"/><stop offset=".176" stop-color="#ff9e00"/><stop offset=".186" stop-color="#ffed00"/><stop offset=".19" stop-color="#e7ff00"/><stop offset=".205" stop-color="#56ff00"/><stop offset=".214" stop-color="#0cff00"/><stop offset=".219" stop-color="#00ff07"/><stop offset=".233" stop-color="#00ff35"/><stop offset=".267" stop-color="#00ffe1"/><stop offset=".276" stop-color="#00f6ff"/><stop offset=".31" stop-color="#007cff"/><stop offset=".329" stop-color="#0046ff"/><stop offset=".343" stop-color="#0030ff"/><stop offset=".367" stop-color="#0025ff"/><stop offset=".386" stop-color="#0035ff"/><stop offset=".424" stop-color="#007bff"/><stop offset=".457" stop-color="#00a7ff"/><stop offset=".543" stop-color="#00fffe"/><stop offset=".781" stop-color="#00ff7e"/><stop offset=".814" stop-color="#00ff62"/><stop offset=".895" stop-color="#00ff01"/><stop offset=".924" stop-color="#14ff00"/><stop offset="1" stop-color="#27ff00"/></linearGradient><linearGradient id="e30"><stop offset="0" stop-color="#ff5c00"/><stop offset=".105" stop-color="#ff5c00"/><stop offset=".152" stop-color="#ff4000"/><stop offset=".157" stop-color="#ff4500"/><stop offset=".167" stop-color="#ff6a00"/><stop offset=".176" stop-color="#ffa100"/><stop offset=".186" stop-color="#fff200"/><stop offset=".19" stop-color="#e1ff00"/><stop offset=".205" stop-color="#4eff00"/><stop offset=".214" stop-color="#07ff00"/><stop offset=".229" stop-color="#00ff26"/><stop offset=".267" stop-color="#00ffe6"/><stop offset=".271" stop-color="#00fffa"/><stop offset=".276" stop-color="#00f2ff"/><stop offset=".31" stop-color="#0078ff"/><stop offset=".329" stop-color="#0044ff"/><stop offset=".343" stop-color="#002eff"/><stop offset=".367" stop-color="#0022ff"/><stop offset=".386" stop-color="#0034ff"/><stop offset=".424" stop-color="#007bff"/><stop offset=".452" stop-color="#00a2ff"/><stop offset=".543" stop-color="#00fffd"/><stop offset=".776" stop-color="#00ff7c"/><stop offset=".886" stop-color="#00ff02"/><stop offset=".914" stop-color="#14ff00"/><stop offset="1" stop-color="#29ff00"/></linearGradient><linearGradient id="e31"><stop offset="0" stop-color="#ff5d00"/><stop offset=".105" stop-color="#ff5d00"/><stop offset=".152" stop-color="#ff4100"/><stop offset=".157" stop-color="#ff4600"/><stop offset=".167" stop-color="#ff6d00"/><stop offset=".176" stop-color="#ffa500"/><stop offset=".186" stop-color="#fff800"/><stop offset=".19" stop-color="#daff00"/><stop offset=".205" stop-color="#47ff00"/><stop offset=".214" stop-color="#03ff00"/><stop offset=".233" stop-color="#00ff3f"/><stop offset=".267" stop-color="#00ffea"/><stop offset=".271" stop-color="#00fffe"/><stop offset=".276" stop-color="#00eeff"/><stop offset=".31" stop-color="#0075ff"/><stop offset=".329" stop-color="#0042ff"/><stop offset=".343" stop-color="#002cff"/><stop offset=".367" stop-color="#0020ff"/><stop offset=".386" stop-color="#0032ff"/><stop offset=".443" stop-color="#0096ff"/><stop offset=".538" stop-color="#00feff"/><stop offset=".767" stop-color="#00ff7e"/><stop offset=".881" stop-color="#01ff00"/><stop offset=".905" stop-color="#14ff00"/><stop offset="1" stop-color="#2aff00"/></linearGradient><linearGradient id="e32"><stop offset="0" stop-color="#ff5f00"/><stop offset=".105" stop-color="#ff5e00"/><stop offset=".152" stop-color="#ff4200"/><stop offset=".157" stop-color="#ff4800"/><stop offset=".167" stop-color="#ff7000"/><stop offset=".176" stop-color="#ffa900"/><stop offset=".186" stop-color="#fffd00"/><stop offset=".205" stop-color="#3fff00"/><stop offset=".21" stop-color="#19ff00"/><stop offset=".214" stop-color="#00ff01"/><stop offset=".229" stop-color="#00ff2f"/><stop offset=".262" stop-color="#00ffda"/><stop offset=".271" stop-color="#00fcff"/><stop offset=".305" stop-color="#0082ff"/><stop offset=".324" stop-color="#004aff"/><stop offset=".343" stop-color="#002aff"/><stop offset=".367" stop-color="#001eff"/><stop offset=".386" stop-color="#0031ff"/><stop offset=".438" stop-color="#008fff"/><stop offset=".538" stop-color="#00ffff"/><stop offset=".757" stop-color="#00ff7f"/><stop offset=".871" stop-color="#00ff00"/><stop offset=".895" stop-color="#13ff00"/><stop offset="1" stop-color="#2cff00"/></linearGradient><linearGradient id="e33"><stop offset="0" stop-color="#ff6000"/><stop offset=".105" stop-color="#ff6000"/><stop offset=".152" stop-color="#ff4300"/><stop offset=".157" stop-color="#ff4b00"/><stop offset=".167" stop-color="#ff7500"/><stop offset=".176" stop-color="#ffaf00"/><stop offset=".181" stop-color="#ffda00"/><stop offset=".186" stop-color="#f8ff00"/><stop offset=".2" stop-color="#61ff00"/><stop offset=".21" stop-color="#0fff00"/><stop offset=".214" stop-color="#00ff06"/><stop offset=".224" stop-color="#00ff23"/><stop offset=".262" stop-color="#00ffe2"/><stop offset=".271" stop-color="#00f6ff"/><stop offset=".305" stop-color="#007dff"/><stop offset=".324" stop-color="#0046ff"/><stop offset=".338" stop-color="#002cff"/><stop offset=".362" stop-color="#001cff"/><stop offset=".381" stop-color="#0028ff"/><stop offset=".424" stop-color="#007bff"/><stop offset=".452" stop-color="#00a2ff"/><stop offset=".538" stop-color="#00fffe"/><stop offset=".743" stop-color="#00ff82"/><stop offset=".857" stop-color="#01ff03"/><stop offset=".89" stop-color="#16ff00"/><stop offset="1" stop-color="#2fff00"/></linearGradient><linearGradient id="e34"><stop offset="0" stop-color="#ff6300"/><stop offset=".105" stop-color="#ff6200"/><stop offset=".152" stop-color="#ff4600"/><stop offset=".157" stop-color="#ff4f00"/><stop offset=".167" stop-color="#ff7b00"/><stop offset=".176" stop-color="#ffba00"/><stop offset=".181" stop-color="#ffe700"/><stop offset=".186" stop-color="#eaff00"/><stop offset=".2" stop-color="#4fff00"/><stop offset=".21" stop-color="#04ff00"/><stop offset=".224" stop-color="#00ff2d"/><stop offset=".262" stop-color="#00ffec"/><stop offset=".267" stop-color="#00fefe"/><stop offset=".271" stop-color="#00edff"/><stop offset=".305" stop-color="#0076ff"/><stop offset=".324" stop-color="#0041ff"/><stop offset=".338" stop-color="#0028ff"/><stop offset=".362" stop-color="#0018ff"/><stop offset=".381" stop-color="#0026ff"/><stop offset=".424" stop-color="#007bff"/><stop offset=".448" stop-color="#009cff"/><stop offset=".538" stop-color="#00fffd"/><stop offset=".729" stop-color="#00ff81"/><stop offset=".838" stop-color="#00ff04"/><stop offset=".871" stop-color="#15ff00"/><stop offset="1" stop-color="#31ff00"/></linearGradient><linearGradient id="e35"><stop offset="0" stop-color="#ff6600"/><stop offset=".105" stop-color="#ff6500"/><stop offset=".152" stop-color="#ff4900"/><stop offset=".162" stop-color="#ff6900"/><stop offset=".171" stop-color="#ff9e00"/><stop offset=".181" stop-color="#fff600"/><stop offset=".186" stop-color="#d9ff00"/><stop offset=".2" stop-color="#3cff00"/><stop offset=".205" stop-color="#14ff00"/><stop offset=".21" stop-color="#00ff05"/><stop offset=".219" stop-color="#00ff24"/><stop offset=".257" stop-color="#00ffe2"/><stop offset=".267" stop-color="#00f6ff"/><stop offset=".3" stop-color="#007eff"/><stop offset=".319" stop-color="#0047ff"/><stop offset=".338" stop-color="#0024ff"/><stop offset=".362" stop-color="#0015ff"/><stop offset=".381" stop-color="#0024ff"/><stop offset=".438" stop-color="#0090ff"/><stop offset=".533" stop-color="#00fdff"/><stop offset=".714" stop-color="#00ff81"/><stop offset=".824" stop-color="#01ff03"/><stop offset=".857" stop-color="#15ff00"/><stop offset="1" stop-color="#34ff00"/></linearGradient><linearGradient id="e36"><stop offset="0" stop-color="#ff6800"/><stop offset=".105" stop-color="#ff6700"/><stop offset=".152" stop-color="#ff4b00"/><stop offset=".162" stop-color="#ff6e00"/><stop offset=".171" stop-color="#ffa600"/><stop offset=".181" stop-color="#fcff00"/><stop offset=".195" stop-color="#5dff00"/><stop offset=".205" stop-color="#0aff00"/><stop offset=".219" stop-color="#00ff2b"/><stop offset=".257" stop-color="#00ffeb"/><stop offset=".262" stop-color="#00fffe"/><stop offset=".267" stop-color="#00efff"/><stop offset=".3" stop-color="#0078ff"/><stop offset=".319" stop-color="#0043ff"/><stop offset=".338" stop-color="#0021ff"/><stop offset=".362" stop-color="#0013ff"/><stop offset=".381" stop-color="#0022ff"/><stop offset=".438" stop-color="#0090ff"/><stop offset=".533" stop-color="#00feff"/><stop offset=".705" stop-color="#00ff81"/><stop offset=".814" stop-color="#00ff00"/><stop offset=".843" stop-color="#15ff00"/><stop offset="1" stop-color="#36ff00"/></linearGradient><linearGradient id="e37"><stop offset="0" stop-color="#ff6900"/><stop offset=".105" stop-color="#ff6800"/><stop offset=".148" stop-color="#ff4a00"/><stop offset=".152" stop-color="#ff4e00"/><stop offset=".162" stop-color="#ff7200"/><stop offset=".171" stop-color="#ffad00"/><stop offset=".176" stop-color="#ffdc00"/><stop offset=".181" stop-color="#f2ff00"/><stop offset=".195" stop-color="#51ff00"/><stop offset=".205" stop-color="#03ff00"/><stop offset=".219" stop-color="#00ff31"/><stop offset=".252" stop-color="#00ffdc"/><stop offset=".262" stop-color="#00fbff"/><stop offset=".295" stop-color="#0084ff"/><stop offset=".319" stop-color="#0040ff"/><stop offset=".338" stop-color="#001fff"/><stop offset=".362" stop-color="#0011ff"/><stop offset=".381" stop-color="#0021ff"/><stop offset=".438" stop-color="#0090ff"/><stop offset=".533" stop-color="#00feff"/><stop offset=".695" stop-color="#00ff84"/><stop offset=".805" stop-color="#00ff01"/><stop offset=".833" stop-color="#14ff00"/><stop offset="1" stop-color="#37ff00"/></linearGradient><linearGradient id="e38"><stop offset="0" stop-color="#ff6b00"/><stop offset=".105" stop-color="#ff6a00"/><stop offset=".148" stop-color="#ff4b00"/><stop offset=".152" stop-color="#ff5000"/><stop offset=".162" stop-color="#ff7700"/><stop offset=".171" stop-color="#ffb500"/><stop offset=".176" stop-color="#ffe700"/><stop offset=".181" stop-color="#e6ff00"/><stop offset=".195" stop-color="#44ff00"/><stop offset=".2" stop-color="#19ff00"/><stop offset=".205" stop-color="#00ff03"/><stop offset=".219" stop-color="#00ff38"/><stop offset=".252" stop-color="#00ffe3"/><stop offset=".262" stop-color="#00f5ff"/><stop offset=".295" stop-color="#007fff"/><stop offset=".319" stop-color="#003cff"/><stop offset=".338" stop-color="#001cff"/><stop offset=".362" stop-color="#0010ff"/><stop offset=".381" stop-color="#0020ff"/><stop offset=".433" stop-color="#0089ff"/><stop offset=".533" stop-color="#00feff"/><stop offset=".69" stop-color="#00ff83"/><stop offset=".8" stop-color="#02ff00"/><stop offset=".829" stop-color="#15ff00"/><stop offset="1" stop-color="#38ff00"/></linearGradient><linearGradient id="e39"><stop offset="0" stop-color="#ff6d00"/><stop offset=".105" stop-color="#ff6c00"/><stop offset=".148" stop-color="#ff4d00"/><stop offset=".157" stop-color="#ff6500"/><stop offset=".167" stop-color="#ff9800"/><stop offset=".176" stop-color="#fff300"/><stop offset=".181" stop-color="#d9ff00"/><stop offset=".195" stop-color="#36ff00"/><stop offset=".2" stop-color="#0fff00"/><stop offset=".205" stop-color="#00ff08"/><stop offset=".214" stop-color="#00ff29"/><stop offset=".252" stop-color="#00ffea"/><stop offset=".257" stop-color="#00fffd"/><stop offset=".262" stop-color="#00efff"/><stop offset=".295" stop-color="#007aff"/><stop offset=".319" stop-color="#0039ff"/><stop offset=".338" stop-color="#001aff"/><stop offset=".362" stop-color="#000eff"/><stop offset=".381" stop-color="#001fff"/><stop offset=".433" stop-color="#0089ff"/><stop offset=".533" stop-color="#00ffff"/><stop offset=".686" stop-color="#00ff82"/><stop offset=".79" stop-color="#00ff00"/><stop offset=".824" stop-color="#16ff00"/><stop offset="1" stop-color="#39ff00"/></linearGradient><linearGradient id="e40"><stop offset="0" stop-color="#ff6f00"/><stop offset=".105" stop-color="#ff6e00"/><stop offset=".148" stop-color="#ff4e00"/><stop offset=".157" stop-color="#ff6a00"/><stop offset=".167" stop-color="#ff9f00"/><stop offset=".176" stop-color="#fdff00"/><stop offset=".19" stop-color="#59ff00"/><stop offset=".2" stop-color="#06ff00"/><stop offset=".214" stop-color="#00ff30"/><stop offset=".248" stop-color="#00ffdc"/><stop offset=".257" stop-color="#00fbff"/><stop offset=".29" stop-color="#0085ff"/><stop offset=".314" stop-color="#0040ff"/><stop offset=".338" stop-color="#0018ff"/><stop offset=".362" stop-color="#000dff"/><stop offset=".381" stop-color="#001eff"/><stop offset=".433" stop-color="#0089ff"/><stop offset=".533" stop-color="#00ffff"/><stop offset=".681" stop-color="#00ff81"/><stop offset=".781" stop-color="#00ff02"/><stop offset=".824" stop-color="#18ff00"/><stop offset="1" stop-color="#3aff00"/></linearGradient><linearGradient id="e41"><stop offset="0" stop-color="#ff7100"/><stop offset=".105" stop-color="#ff7000"/><stop offset=".148" stop-color="#ff5000"/><stop offset=".152" stop-color="#ff5c00"/><stop offset=".162" stop-color="#ff8a00"/><stop offset=".167" stop-color="#ffa900"/><stop offset=".171" stop-color="#ffdc00"/><stop offset=".176" stop-color="#efff00"/><stop offset=".19" stop-color="#49ff00"/><stop offset=".195" stop-color="#1cff00"/><stop offset=".2" stop-color="#00ff02"/><stop offset=".214" stop-color="#00ff37"/><stop offset=".248" stop-color="#00ffe5"/><stop offset=".257" stop-color="#00f4ff"/><stop offset=".29" stop-color="#007fff"/><stop offset=".314" stop-color="#003cff"/><stop offset=".333" stop-color="#001aff"/><stop offset=".362" stop-color="#000cff"/><stop offset=".381" stop-color="#001dff"/><stop offset=".433" stop-color="#0089ff"/><stop offset=".533" stop-color="#00ffff"/><stop offset=".671" stop-color="#00ff85"/><stop offset=".776" stop-color="#00ff00"/><stop offset=".819" stop-color="#18ff00"/><stop offset="1" stop-color="#3bff00"/></linearGradient><linearGradient id="e42"><stop offset="0" stop-color="#ff7300"/><stop offset=".1" stop-color="#ff7300"/><stop offset=".148" stop-color="#ff5300"/><stop offset=".152" stop-color="#ff6100"/><stop offset=".162" stop-color="#ff9100"/><stop offset=".167" stop-color="#ffb600"/><stop offset=".171" stop-color="#ffec00"/><stop offset=".176" stop-color="#deff00"/><stop offset=".19" stop-color="#38ff00"/><stop offset=".195" stop-color="#10ff00"/><stop offset=".2" stop-color="#00ff07"/><stop offset=".21" stop-color="#00ff28"/><stop offset=".243" stop-color="#00ffd7"/><stop offset=".252" stop-color="#00ffff"/><stop offset=".29" stop-color="#007aff"/><stop offset=".314" stop-color="#0038ff"/><stop offset=".333" stop-color="#0018ff"/><stop offset=".362" stop-color="#000aff"/><stop offset=".381" stop-color="#001cff"/><stop offset=".433" stop-color="#0089ff"/><stop offset=".533" stop-color="#00ffff"/><stop offset=".667" stop-color="#00ff84"/><stop offset=".767" stop-color="#00ff02"/><stop offset=".819" stop-color="#1aff00"/><stop offset="1" stop-color="#3cff00"/></linearGradient><linearGradient id="e43"><stop offset="0" stop-color="#ff7500"/><stop offset=".105" stop-color="#ff7400"/><stop offset=".143" stop-color="#ff5300"/><stop offset=".152" stop-color="#ff6700"/><stop offset=".162" stop-color="#ff9900"/><stop offset=".171" stop-color="#fffe00"/><stop offset=".186" stop-color="#59ff00"/><stop offset=".195" stop-color="#06ff00"/><stop offset=".21" stop-color="#00ff30"/><stop offset=".243" stop-color="#00ffe0"/><stop offset=".252" stop-color="#00f8ff"/><stop offset=".29" stop-color="#0074ff"/><stop offset=".314" stop-color="#0034ff"/><stop offset=".333" stop-color="#0015ff"/><stop offset=".362" stop-color="#0009ff"/><stop offset=".381" stop-color="#001cff"/><stop offset=".433" stop-color="#0089ff"/><stop offset=".533" stop-color="#00ffff"/><stop offset=".662" stop-color="#00ff84"/><stop offset=".729" stop-color="#00ff25"/><stop offset=".762" stop-color="#01ff00"/><stop offset=".819" stop-color="#1cff00"/><stop offset="1" stop-color="#3dff00"/></linearGradient><linearGradient id="e44"><stop offset="0" stop-color="#ff7700"/><stop offset=".1" stop-color="#ff7700"/><stop offset=".143" stop-color="#ff5400"/><stop offset=".148" stop-color="#ff5c00"/><stop offset=".157" stop-color="#ff8600"/><stop offset=".162" stop-color="#ffa400"/><stop offset=".167" stop-color="#ffd900"/><stop offset=".171" stop-color="#eeff00"/><stop offset=".186" stop-color="#46ff00"/><stop offset=".19" stop-color="#1aff00"/><stop offset=".195" stop-color="#00ff03"/><stop offset=".21" stop-color="#00ff38"/><stop offset=".243" stop-color="#00ffe9"/><stop offset=".248" stop-color="#00fffd"/><stop offset=".252" stop-color="#00f1ff"/><stop offset=".29" stop-color="#006fff"/><stop offset=".314" stop-color="#0030ff"/><stop offset=".333" stop-color="#0012ff"/><stop offset=".362" stop-color="#0008ff"/><stop offset=".381" stop-color="#001bff"/><stop offset=".433" stop-color="#0089ff"/><stop offset=".533" stop-color="#00ffff"/><stop offset=".657" stop-color="#00ff83"/><stop offset=".752" stop-color="#00ff01"/><stop offset=".776" stop-color="#12ff00"/><stop offset=".814" stop-color="#1dff00"/><stop offset="1" stop-color="#3eff00"/></linearGradient><linearGradient id="e45"><stop offset="0" stop-color="#ff7a00"/><stop offset=".1" stop-color="#ff7a00"/><stop offset=".143" stop-color="#ff5700"/><stop offset=".148" stop-color="#ff6100"/><stop offset=".157" stop-color="#ff8e00"/><stop offset=".162" stop-color="#ffb300"/><stop offset=".167" stop-color="#ffef00"/><stop offset=".171" stop-color="#d9ff00"/><stop offset=".181" stop-color="#66ff00"/><stop offset=".19" stop-color="#0dff00"/><stop offset=".195" stop-color="#00ff09"/><stop offset=".205" stop-color="#00ff2a"/><stop offset=".238" stop-color="#00ffdd"/><stop offset=".248" stop-color="#00faff"/><stop offset=".286" stop-color="#0078ff"/><stop offset=".314" stop-color="#002cff"/><stop offset=".333" stop-color="#0010ff"/><stop offset=".362" stop-color="#0006ff"/><stop offset=".381" stop-color="#001aff"/><stop offset=".433" stop-color="#0089ff"/><stop offset=".533" stop-color="#00fffe"/><stop offset=".648" stop-color="#00ff88"/><stop offset=".714" stop-color="#00ff24"/><stop offset=".748" stop-color="#02ff00"/><stop offset=".771" stop-color="#13ff00"/><stop offset=".814" stop-color="#1fff00"/><stop offset="1" stop-color="#3fff00"/></linearGradient><linearGradient id="e46"><stop offset="0" stop-color="#ff7c00"/><stop offset=".1" stop-color="#ff7c00"/><stop offset=".133" stop-color="#ff5b00"/><stop offset=".143" stop-color="#ff5b00"/><stop offset=".148" stop-color="#ff6800"/><stop offset=".157" stop-color="#ff9800"/><stop offset=".167" stop-color="#faff00"/><stop offset=".181" stop-color="#50ff00"/><stop offset=".186" stop-color="#22ff00"/><stop offset=".19" stop-color="#02ff00"/><stop offset=".205" stop-color="#00ff32"/><stop offset=".238" stop-color="#00ffe7"/><stop offset=".243" stop-color="#00fffb"/><stop offset=".248" stop-color="#00f3ff"/><stop offset=".286" stop-color="#0072ff"/><stop offset=".31" stop-color="#0032ff"/><stop offset=".333" stop-color="#000dff"/><stop offset=".362" stop-color="#0005ff"/><stop offset=".381" stop-color="#0019ff"/><stop offset=".433" stop-color="#0089ff"/><stop offset=".533" stop-color="#00fffe"/><stop offset=".643" stop-color="#00ff88"/><stop offset=".705" stop-color="#00ff28"/><stop offset=".738" stop-color="#00ff00"/><stop offset=".762" stop-color="#13ff00"/><stop offset=".81" stop-color="#1fff00"/><stop offset="1" stop-color="#3fff00"/></linearGradient><linearGradient id="e47"><stop offset="0" stop-color="#ff7f00"/><stop offset=".1" stop-color="#ff7f00"/><stop offset=".138" stop-color="#ff5b00"/><stop offset=".143" stop-color="#ff5f00"/><stop offset=".152" stop-color="#ff8600"/><stop offset=".157" stop-color="#ffa500"/><stop offset=".162" stop-color="#ffe200"/><stop offset=".167" stop-color="#e3ff00"/><stop offset=".176" stop-color="#6fff00"/><stop offset=".186" stop-color="#13ff00"/><stop offset=".19" stop-color="#00ff06"/><stop offset=".2" stop-color="#00ff25"/><stop offset=".233" stop-color="#00ffdb"/><stop offset=".243" stop-color="#00fcff"/><stop offset=".281" stop-color="#007aff"/><stop offset=".31" stop-color="#002eff"/><stop offset=".333" stop-color="#000bff"/><stop offset=".362" stop-color="#0004ff"/><stop offset=".381" stop-color="#0019ff"/><stop offset=".433" stop-color="#0089ff"/><stop offset=".533" stop-color="#00fffe"/><stop offset=".638" stop-color="#00ff87"/><stop offset=".7" stop-color="#00ff24"/><stop offset=".729" stop-color="#00ff02"/><stop offset=".757" stop-color="#14ff00"/><stop offset=".81" stop-color="#21ff00"/><stop offset="1" stop-color="#40ff00"/></linearGradient><linearGradient id="e48"><stop offset="0" stop-color="#ff8100"/><stop offset=".1" stop-color="#ff8100"/><stop offset=".138" stop-color="#ff5d00"/><stop offset=".143" stop-color="#ff6500"/><stop offset=".152" stop-color="#ff9100"/><stop offset=".157" stop-color="#ffbb00"/><stop offset=".162" stop-color="#fffc00"/><stop offset=".176" stop-color="#58ff00"/><stop offset=".186" stop-color="#06ff00"/><stop offset=".2" stop-color="#00ff2e"/><stop offset=".233" stop-color="#00ffe5"/><stop offset=".238" stop-color="#00fff9"/><stop offset=".243" stop-color="#00f4ff"/><stop offset=".281" stop-color="#0074ff"/><stop offset=".31" stop-color="#002aff"/><stop offset=".333" stop-color="#0009ff"/><stop offset=".362" stop-color="#0003ff"/><stop offset=".381" stop-color="#0018ff"/><stop offset=".433" stop-color="#0089ff"/><stop offset=".533" stop-color="#00fffe"/><stop offset=".629" stop-color="#00ff8d"/><stop offset=".69" stop-color="#00ff27"/><stop offset=".724" stop-color="#01ff00"/><stop offset=".748" stop-color="#13ff00"/><stop offset=".805" stop-color="#22ff00"/><stop offset="1" stop-color="#41ff00"/></linearGradient><linearGradient id="e49"><stop offset="0" stop-color="#ff8400"/><stop offset=".1" stop-color="#ff8400"/><stop offset=".138" stop-color="#ff6100"/><stop offset=".143" stop-color="#ff6d00"/><stop offset=".152" stop-color="#ff9c00"/><stop offset=".157" stop-color="#ffd700"/><stop offset=".162" stop-color="#e9ff00"/><stop offset=".176" stop-color="#41ff00"/><stop offset=".181" stop-color="#18ff00"/><stop offset=".186" stop-color="#00ff03"/><stop offset=".2" stop-color="#00ff37"/><stop offset=".229" stop-color="#00ffd9"/><stop offset=".238" stop-color="#00fcff"/><stop offset=".276" stop-color="#007cff"/><stop offset=".305" stop-color="#0030ff"/><stop offset=".329" stop-color="#000bff"/><stop offset=".357" stop-color="#0002ff"/><stop offset=".381" stop-color="#0018ff"/><stop offset=".433" stop-color="#0089ff"/><stop offset=".533" stop-color="#00fffd"/><stop offset=".624" stop-color="#00ff8c"/><stop offset=".686" stop-color="#00ff23"/><stop offset=".714" stop-color="#00ff01"/><stop offset=".743" stop-color="#14ff00"/><stop offset=".8" stop-color="#23ff00"/><stop offset="1" stop-color="#41ff00"/></linearGradient><linearGradient id="e50"><stop offset="0" stop-color="#ff8700"/><stop offset=".1" stop-color="#ff8700"/><stop offset=".133" stop-color="#ff6200"/><stop offset=".138" stop-color="#ff6600"/><stop offset=".148" stop-color="#ff8c00"/><stop offset=".152" stop-color="#ffb100"/><stop offset=".157" stop-color="#fff600"/><stop offset=".171" stop-color="#5dff00"/><stop offset=".181" stop-color="#0aff00"/><stop offset=".195" stop-color="#00ff2a"/><stop offset=".229" stop-color="#00ffe5"/><stop offset=".233" stop-color="#00fff9"/><stop offset=".238" stop-color="#00f4ff"/><stop offset=".276" stop-color="#0076ff"/><stop offset=".305" stop-color="#002dff"/><stop offset=".329" stop-color="#0009ff"/><stop offset=".357" stop-color="#0002ff"/><stop offset=".381" stop-color="#0018ff"/><stop offset=".433" stop-color="#0089ff"/><stop offset=".533" stop-color="#00fffd"/><stop offset=".624" stop-color="#00ff84"/><stop offset=".681" stop-color="#00ff1f"/><stop offset=".71" stop-color="#02ff00"/><stop offset=".733" stop-color="#13ff00"/><stop offset=".805" stop-color="#25ff00"/><stop offset="1" stop-color="#42ff00"/></linearGradient><linearGradient id="e51"><stop offset="0" stop-color="#ff8a00"/><stop offset=".1" stop-color="#ff8a00"/><stop offset=".133" stop-color="#ff6500"/><stop offset=".138" stop-color="#ff6d00"/><stop offset=".148" stop-color="#ff9800"/><stop offset=".152" stop-color="#ffd100"/><stop offset=".157" stop-color="#ecff00"/><stop offset=".171" stop-color="#45ff00"/><stop offset=".176" stop-color="#1bff00"/><stop offset=".181" stop-color="#00ff01"/><stop offset=".195" stop-color="#00ff34"/><stop offset=".224" stop-color="#00ffd9"/><stop offset=".233" stop-color="#00fcff"/><stop offset=".276" stop-color="#0070ff"/><stop offset=".305" stop-color="#0029ff"/><stop offset=".329" stop-color="#0007ff"/><stop offset=".357" stop-color="#0001ff"/><stop offset=".381" stop-color="#0017ff"/><stop offset=".433" stop-color="#0089ff"/><stop offset=".533" stop-color="#00fffd"/><stop offset=".619" stop-color="#00ff82"/><stop offset=".671" stop-color="#00ff21"/><stop offset=".7" stop-color="#01ff00"/><stop offset=".724" stop-color="#13ff00"/><stop offset=".795" stop-color="#25ff00"/><stop offset="1" stop-color="#43ff00"/></linearGradient><linearGradient id="e52"><stop offset="0" stop-color="#ff8e00"/><stop offset=".1" stop-color="#ff8e00"/><stop offset=".124" stop-color="#ff6d00"/><stop offset=".133" stop-color="#ff6a00"/><stop offset=".143" stop-color="#ff8a00"/><stop offset=".148" stop-color="#ffab00"/><stop offset=".152" stop-color="#fff400"/><stop offset=".157" stop-color="#cfff00"/><stop offset=".167" stop-color="#5eff00"/><stop offset=".176" stop-color="#0cff00"/><stop offset=".181" stop-color="#00ff08"/><stop offset=".19" stop-color="#00ff28"/><stop offset=".224" stop-color="#00ffe5"/><stop offset=".229" stop-color="#00fffa"/><stop offset=".233" stop-color="#00f4ff"/><stop offset=".276" stop-color="#006aff"/><stop offset=".305" stop-color="#0026ff"/><stop offset=".329" stop-color="#0006ff"/><stop offset=".357" stop-color="#0001ff"/><stop offset=".381" stop-color="#0017ff"/><stop offset=".433" stop-color="#0089ff"/><stop offset=".533" stop-color="#00fffc"/><stop offset=".614" stop-color="#00ff80"/><stop offset=".662" stop-color="#00ff23"/><stop offset=".69" stop-color="#00ff00"/><stop offset=".719" stop-color="#14ff00"/><stop offset=".79" stop-color="#26ff00"/><stop offset="1" stop-color="#43ff00"/></linearGradient><linearGradient id="e53"><stop offset="0" stop-color="#ff9100"/><stop offset=".1" stop-color="#ff9100"/><stop offset=".129" stop-color="#ff6b00"/><stop offset=".133" stop-color="#ff7000"/><stop offset=".143" stop-color="#ff9500"/><stop offset=".148" stop-color="#ffce00"/><stop offset=".152" stop-color="#ecff00"/><stop offset=".167" stop-color="#46ff00"/><stop offset=".176" stop-color="#00ff00"/><stop offset=".19" stop-color="#00ff32"/><stop offset=".219" stop-color="#00ffda"/><stop offset=".229" stop-color="#00fcff"/><stop offset=".271" stop-color="#0072ff"/><stop offset=".3" stop-color="#002cff"/><stop offset=".329" stop-color="#0005ff"/><stop offset=".357" stop-color="#0000ff"/><stop offset=".381" stop-color="#0018ff"/><stop offset=".433" stop-color="#0089ff"/><stop offset=".533" stop-color="#00fffb"/><stop offset=".61" stop-color="#00ff7c"/><stop offset=".652" stop-color="#00ff25"/><stop offset=".681" stop-color="#00ff01"/><stop offset=".71" stop-color="#14ff00"/><stop offset=".79" stop-color="#28ff00"/><stop offset="1" stop-color="#44ff00"/></linearGradient><linearGradient id="e54"><stop offset="0" stop-color="#ff9400"/><stop offset=".1" stop-color="#ff9400"/><stop offset=".129" stop-color="#ff6f00"/><stop offset=".138" stop-color="#ff8a00"/><stop offset=".143" stop-color="#ffa900"/><stop offset=".148" stop-color="#fff600"/><stop offset=".162" stop-color="#5dff00"/><stop offset=".171" stop-color="#0dff00"/><stop offset=".176" stop-color="#00ff08"/><stop offset=".186" stop-color="#00ff26"/><stop offset=".219" stop-color="#00ffe6"/><stop offset=".224" stop-color="#00fffb"/><stop offset=".229" stop-color="#00f3ff"/><stop offset=".271" stop-color="#006dff"/><stop offset=".3" stop-color="#0029ff"/><stop offset=".329" stop-color="#0004ff"/><stop offset=".357" stop-color="#0000ff"/><stop offset=".381" stop-color="#0018ff"/><stop offset=".433" stop-color="#0089ff"/><stop offset=".533" stop-color="#00fffa"/><stop offset=".605" stop-color="#00ff78"/><stop offset=".643" stop-color="#00ff27"/><stop offset=".671" stop-color="#00ff02"/><stop offset=".7" stop-color="#13ff00"/><stop offset=".786" stop-color="#28ff00"/><stop offset="1" stop-color="#44ff00"/></linearGradient><linearGradient id="e55"><stop offset="0" stop-color="#ff9800"/><stop offset=".1" stop-color="#ff9800"/><stop offset=".124" stop-color="#ff7200"/><stop offset=".129" stop-color="#ff7500"/><stop offset=".138" stop-color="#ff9600"/><stop offset=".143" stop-color="#ffd200"/><stop offset=".148" stop-color="#e7ff00"/><stop offset=".162" stop-color="#44ff00"/><stop offset=".171" stop-color="#01ff00"/><stop offset=".186" stop-color="#00ff31"/><stop offset=".214" stop-color="#00ffdb"/><stop offset=".224" stop-color="#00fbff"/><stop offset=".267" stop-color="#0075ff"/><stop offset=".3" stop-color="#0026ff"/><stop offset=".329" stop-color="#0003ff"/><stop offset=".357" stop-color="#0000ff"/><stop offset=".381" stop-color="#0019ff"/><stop offset=".433" stop-color="#008aff"/><stop offset=".529" stop-color="#00feff"/><stop offset=".557" stop-color="#00ffcd"/><stop offset=".633" stop-color="#00ff29"/><stop offset=".667" stop-color="#02ff00"/><stop offset=".69" stop-color="#13ff00"/><stop offset=".786" stop-color="#2aff00"/><stop offset="1" stop-color="#45ff00"/></linearGradient><linearGradient id="e56"><stop offset="0" stop-color="#ff9c00"/><stop offset=".1" stop-color="#ff9b00"/><stop offset=".124" stop-color="#ff7800"/><stop offset=".133" stop-color="#ff9100"/><stop offset=".138" stop-color="#ffb700"/><stop offset=".143" stop-color="#faff00"/><stop offset=".157" stop-color="#57ff00"/><stop offset=".167" stop-color="#0cff00"/><stop offset=".171" stop-color="#00ff08"/><stop offset=".181" stop-color="#00ff26"/><stop offset=".214" stop-color="#00ffe9"/><stop offset=".219" stop-color="#00fffc"/><stop offset=".224" stop-color="#00f2ff"/><stop offset=".262" stop-color="#007cff"/><stop offset=".295" stop-color="#002cff"/><stop offset=".324" stop-color="#0006ff"/><stop offset=".357" stop-color="#0000ff"/><stop offset=".381" stop-color="#001bff"/><stop offset=".429" stop-color="#0084ff"/><stop offset=".529" stop-color="#00fffc"/><stop offset=".624" stop-color="#00ff2a"/><stop offset=".657" stop-color="#02ff00"/><stop offset=".681" stop-color="#13ff00"/><stop offset=".781" stop-color="#2bff00"/><stop offset="1" stop-color="#45ff00"/></linearGradient><linearGradient id="e57"><stop offset="0" stop-color="#ffa000"/><stop offset=".095" stop-color="#ffa000"/><stop offset=".119" stop-color="#ff7f00"/><stop offset=".129" stop-color="#ff9100"/><stop offset=".133" stop-color="#ffaa00"/><stop offset=".138" stop-color="#fff700"/><stop offset=".157" stop-color="#3bff00"/><stop offset=".167" stop-color="#00ff01"/><stop offset=".181" stop-color="#00ff32"/><stop offset=".21" stop-color="#00ffdf"/><stop offset=".219" stop-color="#00f8ff"/><stop offset=".262" stop-color="#0075ff"/><stop offset=".295" stop-color="#0028ff"/><stop offset=".324" stop-color="#0004ff"/><stop offset=".352" stop-color="#0000ff"/><stop offset=".376" stop-color="#0016ff"/><stop offset=".429" stop-color="#0087ff"/><stop offset=".524" stop-color="#00fffc"/><stop offset=".614" stop-color="#00ff2b"/><stop offset=".648" stop-color="#01ff00"/><stop offset=".676" stop-color="#14ff00"/><stop offset=".776" stop-color="#2cff00"/><stop offset="1" stop-color="#46ff00"/></linearGradient><linearGradient id="e58"><stop offset="0" stop-color="#ffa500"/><stop offset=".095" stop-color="#ffa400"/><stop offset=".114" stop-color="#ff8700"/><stop offset=".119" stop-color="#ff8a00"/><stop offset=".129" stop-color="#ffa900"/><stop offset=".133" stop-color="#ffee00"/><stop offset=".138" stop-color="#d8ff00"/><stop offset=".152" stop-color="#48ff00"/><stop offset=".162" stop-color="#08ff00"/><stop offset=".176" stop-color="#00ff28"/><stop offset=".205" stop-color="#00ffd5"/><stop offset=".214" stop-color="#00feff"/><stop offset=".257" stop-color="#007aff"/><stop offset=".29" stop-color="#002cff"/><stop offset=".319" stop-color="#0006ff"/><stop offset=".348" stop-color="#0000ff"/><stop offset=".371" stop-color="#0012ff"/><stop offset=".429" stop-color="#008bff"/><stop offset=".519" stop-color="#00fff9"/><stop offset=".605" stop-color="#00ff2c"/><stop offset=".638" stop-color="#01ff00"/><stop offset=".667" stop-color="#14ff00"/><stop offset=".771" stop-color="#2dff00"/><stop offset="1" stop-color="#46ff00"/></linearGradient><linearGradient id="e59"><stop offset="0" stop-color="#ffaa00"/><stop offset=".09" stop-color="#ffaa00"/><stop offset=".114" stop-color="#ff9200"/><stop offset=".124" stop-color="#ffae00"/><stop offset=".129" stop-color="#ffeb00"/><stop offset=".133" stop-color="#deff00"/><stop offset=".143" stop-color="#7eff00"/><stop offset=".152" stop-color="#2eff00"/><stop offset=".162" stop-color="#00ff04"/><stop offset=".176" stop-color="#00ff35"/><stop offset=".205" stop-color="#00ffe5"/><stop offset=".21" stop-color="#00fffa"/><stop offset=".214" stop-color="#00f4ff"/><stop offset=".252" stop-color="#007eff"/><stop offset=".286" stop-color="#002fff"/><stop offset=".314" stop-color="#0007ff"/><stop offset=".348" stop-color="#0000ff"/><stop offset=".371" stop-color="#0017ff"/><stop offset=".424" stop-color="#0089ff"/><stop offset=".51" stop-color="#00fffc"/><stop offset=".595" stop-color="#00ff2c"/><stop offset=".629" stop-color="#01ff00"/><stop offset=".657" stop-color="#14ff00"/><stop offset=".767" stop-color="#2eff00"/><stop offset="1" stop-color="#47ff00"/></linearGradient><linearGradient id="e60"><stop offset="0" stop-color="#ffaf00"/><stop offset=".086" stop-color="#ffaf00"/><stop offset=".11" stop-color="#ff9c00"/><stop offset=".119" stop-color="#ffb500"/><stop offset=".124" stop-color="#ffeb00"/><stop offset=".129" stop-color="#e2ff00"/><stop offset=".148" stop-color="#38ff00"/><stop offset=".157" stop-color="#02ff00"/><stop offset=".171" stop-color="#00ff2c"/><stop offset=".2" stop-color="#00ffdc"/><stop offset=".21" stop-color="#00f9ff"/><stop offset=".252" stop-color="#0075ff"/><stop offset=".286" stop-color="#0029ff"/><stop offset=".314" stop-color="#0005ff"/><stop offset=".343" stop-color="#0000ff"/><stop offset=".362" stop-color="#000dff"/><stop offset=".414" stop-color="#0080ff"/><stop offset=".5" stop-color="#00fffd"/><stop offset=".586" stop-color="#00ff2c"/><stop offset=".619" stop-color="#02ff00"/><stop offset=".648" stop-color="#14ff00"/><stop offset=".767" stop-color="#30ff00"/><stop offset="1" stop-color="#47ff00"/></linearGradient><linearGradient id="e61"><stop offset="0" stop-color="#ffb500"/><stop offset=".081" stop-color="#ffb500"/><stop offset=".105" stop-color="#ffa700"/><stop offset=".114" stop-color="#ffbf00"/><stop offset=".119" stop-color="#ffed00"/><stop offset=".124" stop-color="#e5ff00"/><stop offset=".143" stop-color="#41ff00"/><stop offset=".152" stop-color="#08ff00"/><stop offset=".167" stop-color="#00ff24"/><stop offset=".195" stop-color="#00ffd4"/><stop offset=".205" stop-color="#00feff"/><stop offset=".248" stop-color="#0079ff"/><stop offset=".281" stop-color="#002bff"/><stop offset=".31" stop-color="#0005ff"/><stop offset=".338" stop-color="#0000ff"/><stop offset=".362" stop-color="#0013ff"/><stop offset=".41" stop-color="#007fff"/><stop offset=".49" stop-color="#00fffd"/><stop offset=".576" stop-color="#00ff2b"/><stop offset=".61" stop-color="#02ff00"/><stop offset=".638" stop-color="#15ff00"/><stop offset=".762" stop-color="#31ff00"/><stop offset="1" stop-color="#47ff00"/></linearGradient><linearGradient id="e62"><stop offset="0" stop-color="#ffbb00"/><stop offset=".1" stop-color="#ffb200"/><stop offset=".11" stop-color="#ffc900"/><stop offset=".114" stop-color="#ffef00"/><stop offset=".119" stop-color="#e8ff00"/><stop offset=".143" stop-color="#29ff00"/><stop offset=".152" stop-color="#00ff04"/><stop offset=".167" stop-color="#00ff33"/><stop offset=".195" stop-color="#00ffe6"/><stop offset=".2" stop-color="#00fffb"/><stop offset=".205" stop-color="#00f2ff"/><stop offset=".243" stop-color="#007cff"/><stop offset=".276" stop-color="#002cff"/><stop offset=".305" stop-color="#0006ff"/><stop offset=".338" stop-color="#0000ff"/><stop offset=".357" stop-color="#0012ff"/><stop offset=".405" stop-color="#007fff"/><stop offset=".481" stop-color="#00fffd"/><stop offset=".567" stop-color="#00ff2a"/><stop offset=".595" stop-color="#00ff02"/><stop offset=".624" stop-color="#13ff00"/><stop offset=".752" stop-color="#31ff00"/><stop offset="1" stop-color="#47ff00"/></linearGradient><linearGradient id="e63"><stop offset="0" stop-color="#ffc200"/><stop offset=".095" stop-color="#ffbe00"/><stop offset=".105" stop-color="#ffd300"/><stop offset=".11" stop-color="#fff100"/><stop offset=".114" stop-color="#edff00"/><stop offset=".138" stop-color="#32ff00"/><stop offset=".148" stop-color="#00ff00"/><stop offset=".162" stop-color="#00ff2b"/><stop offset=".19" stop-color="#00ffe0"/><stop offset=".195" stop-color="#00fff7"/><stop offset=".2" stop-color="#00f6ff"/><stop offset=".238" stop-color="#007eff"/><stop offset=".271" stop-color="#002eff"/><stop offset=".3" stop-color="#0006ff"/><stop offset=".333" stop-color="#0000ff"/><stop offset=".357" stop-color="#001aff"/><stop offset=".4" stop-color="#0080ff"/><stop offset=".471" stop-color="#00fffc"/><stop offset=".557" stop-color="#00ff28"/><stop offset=".586" stop-color="#00ff00"/><stop offset=".614" stop-color="#14ff00"/><stop offset=".748" stop-color="#32ff00"/><stop offset="1" stop-color="#47ff00"/></linearGradient><linearGradient id="e64"><stop offset="0" stop-color="#ffc800"/><stop offset=".086" stop-color="#ffc700"/><stop offset=".095" stop-color="#ffd100"/><stop offset=".105" stop-color="#fff200"/><stop offset=".11" stop-color="#f3ff00"/><stop offset=".133" stop-color="#3bff00"/><stop offset=".143" stop-color="#04ff00"/><stop offset=".157" stop-color="#00ff25"/><stop offset=".186" stop-color="#00ffda"/><stop offset=".195" stop-color="#00faff"/><stop offset=".233" stop-color="#0080ff"/><stop offset=".267" stop-color="#002fff"/><stop offset=".295" stop-color="#0007ff"/><stop offset=".329" stop-color="#0000ff"/><stop offset=".352" stop-color="#001aff"/><stop offset=".395" stop-color="#0080ff"/><stop offset=".462" stop-color="#00fffb"/><stop offset=".548" stop-color="#00ff25"/><stop offset=".576" stop-color="#01ff00"/><stop offset=".605" stop-color="#14ff00"/><stop offset=".743" stop-color="#33ff00"/><stop offset="1" stop-color="#47ff00"/></linearGradient><linearGradient id="e65"><stop offset="0" stop-color="#ffcf00"/><stop offset=".081" stop-color="#ffd200"/><stop offset=".09" stop-color="#ffdc00"/><stop offset=".105" stop-color="#f9ff00"/><stop offset=".114" stop-color="#bcff00"/><stop offset=".129" stop-color="#45ff00"/><stop offset=".138" stop-color="#08ff00"/><stop offset=".148" stop-color="#00ff11"/><stop offset=".157" stop-color="#00ff36"/><stop offset=".181" stop-color="#00ffd4"/><stop offset=".19" stop-color="#00fdff"/><stop offset=".229" stop-color="#0082ff"/><stop offset=".262" stop-color="#0030ff"/><stop offset=".29" stop-color="#0007ff"/><stop offset=".324" stop-color="#0000ff"/><stop offset=".348" stop-color="#001aff"/><stop offset=".39" stop-color="#0081ff"/><stop offset=".452" stop-color="#00fffc"/><stop offset=".533" stop-color="#00ff2c"/><stop offset=".562" stop-color="#00ff01"/><stop offset=".595" stop-color="#15ff00"/><stop offset=".738" stop-color="#34ff00"/><stop offset="1" stop-color="#47ff00"/></linearGradient><linearGradient id="e66"><stop offset="0" stop-color="#ffd700"/><stop offset=".071" stop-color="#ffda00"/><stop offset=".1" stop-color="#fdff00"/><stop offset=".11" stop-color="#c9ff00"/><stop offset=".129" stop-color="#2aff00"/><stop offset=".133" stop-color="#0dff00"/><stop offset=".138" stop-color="#00ff05"/><stop offset=".152" stop-color="#00ff31"/><stop offset=".181" stop-color="#00ffe9"/><stop offset=".186" stop-color="#00fffe"/><stop offset=".19" stop-color="#00f0ff"/><stop offset=".229" stop-color="#0076ff"/><stop offset=".262" stop-color="#0027ff"/><stop offset=".29" stop-color="#0004ff"/><stop offset=".319" stop-color="#0000ff"/><stop offset=".343" stop-color="#001bff"/><stop offset=".443" stop-color="#00fffe"/><stop offset=".524" stop-color="#00ff26"/><stop offset=".552" stop-color="#02ff00"/><stop offset=".581" stop-color="#14ff00"/><stop offset=".733" stop-color="#35ff00"/><stop offset="1" stop-color="#47ff00"/></linearGradient><linearGradient id="e67"><stop offset="0" stop-color="#ffde00"/><stop offset=".057" stop-color="#ffdf00"/><stop offset=".09" stop-color="#ffff00"/><stop offset=".095" stop-color="#f7ff00"/><stop offset=".105" stop-color="#cdff00"/><stop offset=".124" stop-color="#30ff00"/><stop offset=".129" stop-color="#11ff00"/><stop offset=".133" stop-color="#00ff03"/><stop offset=".148" stop-color="#00ff2c"/><stop offset=".176" stop-color="#00ffe5"/><stop offset=".181" stop-color="#00fffb"/><stop offset=".186" stop-color="#00f2ff"/><stop offset=".224" stop-color="#0077ff"/><stop offset=".257" stop-color="#0027ff"/><stop offset=".286" stop-color="#0004ff"/><stop offset=".314" stop-color="#0001ff"/><stop offset=".338" stop-color="#001eff"/><stop offset=".433" stop-color="#00fdff"/><stop offset=".438" stop-color="#00fff5"/><stop offset=".51" stop-color="#00ff2b"/><stop offset=".538" stop-color="#00ff00"/><stop offset=".567" stop-color="#14ff00"/><stop offset=".724" stop-color="#36ff00"/><stop offset="1" stop-color="#47ff00"/></linearGradient><linearGradient id="e68"><stop offset="0" stop-color="#ffe700"/><stop offset=".048" stop-color="#ffe700"/><stop offset=".076" stop-color="#fffc00"/><stop offset=".09" stop-color="#eaff00"/><stop offset=".1" stop-color="#c7ff00"/><stop offset=".119" stop-color="#32ff00"/><stop offset=".129" stop-color="#00ff01"/><stop offset=".143" stop-color="#00ff28"/><stop offset=".171" stop-color="#00ffe2"/><stop offset=".176" stop-color="#00fff9"/><stop offset=".181" stop-color="#00f3ff"/><stop offset=".219" stop-color="#0077ff"/><stop offset=".248" stop-color="#0030ff"/><stop offset=".276" stop-color="#0007ff"/><stop offset=".305" stop-color="#0002ff"/><stop offset=".329" stop-color="#001aff"/><stop offset=".424" stop-color="#00faff"/><stop offset=".429" stop-color="#00fff7"/><stop offset=".5" stop-color="#00ff21"/><stop offset=".524" stop-color="#00ff00"/><stop offset=".557" stop-color="#15ff00"/><stop offset=".714" stop-color="#36ff00"/><stop offset="1" stop-color="#47ff00"/></linearGradient><linearGradient id="e69"><stop offset="0" stop-color="#fff000"/><stop offset=".043" stop-color="#fff100"/><stop offset=".062" stop-color="#fffd00"/><stop offset=".081" stop-color="#e5ff00"/><stop offset=".095" stop-color="#bbff00"/><stop offset=".114" stop-color="#32ff00"/><stop offset=".124" stop-color="#00ff00"/><stop offset=".138" stop-color="#00ff26"/><stop offset=".148" stop-color="#00ff5d"/><stop offset=".167" stop-color="#00ffe0"/><stop offset=".171" stop-color="#00fff8"/><stop offset=".176" stop-color="#00f4ff"/><stop offset=".214" stop-color="#0076ff"/><stop offset=".243" stop-color="#002eff"/><stop offset=".271" stop-color="#0007ff"/><stop offset=".3" stop-color="#0004ff"/><stop offset=".324" stop-color="#0021ff"/><stop offset=".419" stop-color="#00fff9"/><stop offset=".486" stop-color="#00ff22"/><stop offset=".51" stop-color="#00ff00"/><stop offset=".543" stop-color="#15ff00"/><stop offset=".71" stop-color="#38ff00"/><stop offset="1" stop-color="#47ff00"/></linearGradient><linearGradient id="e70"><stop offset="0" stop-color="#fffa00"/><stop offset=".043" stop-color="#fffe00"/><stop offset=".076" stop-color="#d7ff00"/><stop offset=".09" stop-color="#abff00"/><stop offset=".11" stop-color="#2fff00"/><stop offset=".119" stop-color="#00ff01"/><stop offset=".133" stop-color="#00ff25"/><stop offset=".143" stop-color="#00ff5c"/><stop offset=".162" stop-color="#00ffe0"/><stop offset=".167" stop-color="#00fff8"/><stop offset=".171" stop-color="#00f4ff"/><stop offset=".21" stop-color="#0074ff"/><stop offset=".238" stop-color="#002cff"/><stop offset=".262" stop-color="#000aff"/><stop offset=".29" stop-color="#0006ff"/><stop offset=".314" stop-color="#0021ff"/><stop offset=".41" stop-color="#00fffa"/><stop offset=".471" stop-color="#00ff22"/><stop offset=".495" stop-color="#00ff00"/><stop offset=".529" stop-color="#15ff00"/><stop offset=".7" stop-color="#38ff00"/><stop offset="1" stop-color="#47ff00"/></linearGradient><linearGradient id="e71"><stop offset="0" stop-color="#f9ff00"/><stop offset=".038" stop-color="#f3ff00"/><stop offset=".071" stop-color="#c7ff00"/><stop offset=".086" stop-color="#9aff00"/><stop offset=".11" stop-color="#10ff00"/><stop offset=".114" stop-color="#00ff02"/><stop offset=".129" stop-color="#00ff25"/><stop offset=".138" stop-color="#00ff5d"/><stop offset=".157" stop-color="#00ffe2"/><stop offset=".162" stop-color="#00fffa"/><stop offset=".167" stop-color="#00f2ff"/><stop offset=".2" stop-color="#007eff"/><stop offset=".229" stop-color="#0032ff"/><stop offset=".252" stop-color="#000eff"/><stop offset=".281" stop-color="#0007ff"/><stop offset=".305" stop-color="#0021ff"/><stop offset=".4" stop-color="#00fff8"/><stop offset=".457" stop-color="#00ff20"/><stop offset=".481" stop-color="#02ff00"/><stop offset=".529" stop-color="#19ff00"/><stop offset=".695" stop-color="#3aff00"/><stop offset="1" stop-color="#47ff00"/></linearGradient><linearGradient id="e72"><stop offset="0" stop-color="#ecff00"/><stop offset=".029" stop-color="#eaff00"/><stop offset=".062" stop-color="#c1ff00"/><stop offset=".081" stop-color="#88ff00"/><stop offset=".105" stop-color="#0cff00"/><stop offset=".11" stop-color="#00ff04"/><stop offset=".124" stop-color="#00ff28"/><stop offset=".152" stop-color="#00ffe7"/><stop offset=".157" stop-color="#00fffe"/><stop offset=".162" stop-color="#00efff"/><stop offset=".195" stop-color="#0079ff"/><stop offset=".224" stop-color="#002dff"/><stop offset=".248" stop-color="#000cff"/><stop offset=".271" stop-color="#0009ff"/><stop offset=".295" stop-color="#0022ff"/><stop offset=".386" stop-color="#00fbff"/><stop offset=".39" stop-color="#00fff4"/><stop offset=".438" stop-color="#00ff2b"/><stop offset=".462" stop-color="#00ff01"/><stop offset=".51" stop-color="#18ff00"/><stop offset=".681" stop-color="#3aff00"/><stop offset="1" stop-color="#47ff00"/></linearGradient><linearGradient id="e73"><stop offset="0" stop-color="#dfff00"/><stop offset=".024" stop-color="#ddff00"/><stop offset=".057" stop-color="#b0ff00"/><stop offset=".076" stop-color="#79ff00"/><stop offset=".1" stop-color="#07ff00"/><stop offset=".105" stop-color="#00ff06"/><stop offset=".119" stop-color="#00ff2b"/><stop offset=".143" stop-color="#00ffd1"/><stop offset=".152" stop-color="#00fcff"/><stop offset=".186" stop-color="#0082ff"/><stop offset=".214" stop-color="#0031ff"/><stop offset=".238" stop-color="#000eff"/><stop offset=".262" stop-color="#000bff"/><stop offset=".276" stop-color="#0014ff"/><stop offset=".29" stop-color="#002eff"/><stop offset=".376" stop-color="#00fffc"/><stop offset=".424" stop-color="#00ff25"/><stop offset=".448" stop-color="#01ff00"/><stop offset=".5" stop-color="#1aff00"/><stop offset=".671" stop-color="#3bff00"/><stop offset="1" stop-color="#47ff00"/></linearGradient><linearGradient id="e74"><stop offset="0" stop-color="#cfff00"/><stop offset=".024" stop-color="#cbff00"/><stop offset=".048" stop-color="#a8ff00"/><stop offset=".071" stop-color="#68ff00"/><stop offset=".095" stop-color="#02ff00"/><stop offset=".105" stop-color="#00ff10"/><stop offset=".114" stop-color="#00ff30"/><stop offset=".138" stop-color="#00ffd9"/><stop offset=".143" stop-color="#00fff4"/><stop offset=".148" stop-color="#00f6ff"/><stop offset=".181" stop-color="#007aff"/><stop offset=".205" stop-color="#0035ff"/><stop offset=".229" stop-color="#0010ff"/><stop offset=".252" stop-color="#000cff"/><stop offset=".267" stop-color="#0016ff"/><stop offset=".281" stop-color="#002fff"/><stop offset=".343" stop-color="#00c3ff"/><stop offset=".362" stop-color="#00fbff"/><stop offset=".367" stop-color="#00fff2"/><stop offset=".41" stop-color="#00ff20"/><stop offset=".433" stop-color="#02ff00"/><stop offset=".495" stop-color="#1dff00"/><stop offset=".662" stop-color="#3cff00"/><stop offset="1" stop-color="#47ff00"/></linearGradient><linearGradient id="e75"><stop offset="0" stop-color="#bcff00"/><stop offset=".019" stop-color="#bbff00"/><stop offset=".038" stop-color="#9dff00"/><stop offset=".067" stop-color="#55ff00"/><stop offset=".086" stop-color="#0aff00"/><stop offset=".1" stop-color="#00ff13"/><stop offset=".11" stop-color="#00ff38"/><stop offset=".133" stop-color="#00ffe5"/><stop offset=".138" stop-color="#00fffd"/><stop offset=".143" stop-color="#00edff"/><stop offset=".176" stop-color="#006eff"/><stop offset=".2" stop-color="#002cff"/><stop offset=".219" stop-color="#0010ff"/><stop offset=".243" stop-color="#000eff"/><stop offset=".257" stop-color="#0018ff"/><stop offset=".271" stop-color="#0032ff"/><stop offset=".329" stop-color="#00bcff"/><stop offset=".348" stop-color="#00f7ff"/><stop offset=".352" stop-color="#00fff5"/><stop offset=".39" stop-color="#00ff2a"/><stop offset=".414" stop-color="#00ff00"/><stop offset=".471" stop-color="#1bff00"/><stop offset=".648" stop-color="#3cff00"/><stop offset="1" stop-color="#47ff00"/></linearGradient><linearGradient id="e76"><stop offset="0" stop-color="#a7ff00"/><stop offset=".024" stop-color="#9cff00"/><stop offset=".057" stop-color="#4eff00"/><stop offset=".081" stop-color="#01ff00"/><stop offset=".09" stop-color="#00ff0f"/><stop offset=".1" stop-color="#00ff2c"/><stop offset=".124" stop-color="#00ffda"/><stop offset=".129" stop-color="#00fff6"/><stop offset=".133" stop-color="#00f3ff"/><stop offset=".162" stop-color="#0080ff"/><stop offset=".186" stop-color="#0035ff"/><stop offset=".205" stop-color="#0014ff"/><stop offset=".229" stop-color="#0010ff"/><stop offset=".243" stop-color="#0017ff"/><stop offset=".262" stop-color="#0038ff"/><stop offset=".31" stop-color="#00abff"/><stop offset=".333" stop-color="#00f9ff"/><stop offset=".338" stop-color="#00fff0"/><stop offset=".357" stop-color="#00ff76"/><stop offset=".371" stop-color="#00ff2e"/><stop offset=".381" stop-color="#00ff14"/><stop offset=".395" stop-color="#00ff02"/><stop offset=".457" stop-color="#1cff00"/><stop offset=".633" stop-color="#3cff00"/><stop offset="1" stop-color="#47ff00"/></linearGradient><linearGradient id="e77"><stop offset="0" stop-color="#90ff00"/><stop offset=".019" stop-color="#87ff00"/><stop offset=".071" stop-color="#01ff00"/><stop offset=".086" stop-color="#00ff17"/><stop offset=".095" stop-color="#00ff45"/><stop offset=".114" stop-color="#00ffda"/><stop offset=".119" stop-color="#00fff7"/><stop offset=".124" stop-color="#00f1ff"/><stop offset=".152" stop-color="#007aff"/><stop offset=".176" stop-color="#002fff"/><stop offset=".19" stop-color="#0017ff"/><stop offset=".214" stop-color="#0012ff"/><stop offset=".233" stop-color="#0020ff"/><stop offset=".252" stop-color="#0043ff"/><stop offset=".29" stop-color="#00a0ff"/><stop offset=".314" stop-color="#00f1ff"/><stop offset=".319" stop-color="#00fff6"/><stop offset=".338" stop-color="#00ff6f"/><stop offset=".352" stop-color="#00ff28"/><stop offset=".376" stop-color="#00ff00"/><stop offset=".438" stop-color="#1cff00"/><stop offset=".619" stop-color="#3dff00"/><stop offset="1" stop-color="#47ff00"/></linearGradient><linearGradient id="e78"><stop offset="0" stop-color="#76ff00"/><stop offset=".014" stop-color="#6fff00"/><stop offset=".057" stop-color="#06ff00"/><stop offset=".071" stop-color="#00ff11"/><stop offset=".081" stop-color="#00ff33"/><stop offset=".1" stop-color="#00ffc9"/><stop offset=".11" stop-color="#00faff"/><stop offset=".138" stop-color="#007cff"/><stop offset=".157" stop-color="#003aff"/><stop offset=".176" stop-color="#0017ff"/><stop offset=".195" stop-color="#0015ff"/><stop offset=".214" stop-color="#0020ff"/><stop offset=".238" stop-color="#004bff"/><stop offset=".276" stop-color="#00abff"/><stop offset=".295" stop-color="#00f8ff"/><stop offset=".3" stop-color="#00ffea"/><stop offset=".314" stop-color="#00ff70"/><stop offset=".324" stop-color="#00ff3c"/><stop offset=".333" stop-color="#00ff1a"/><stop offset=".352" stop-color="#00ff00"/><stop offset=".419" stop-color="#1dff00"/><stop offset=".6" stop-color="#3eff00"/><stop offset="1" stop-color="#47ff00"/></linearGradient><linearGradient id="e79"><stop offset="0" stop-color="#4eff00"/><stop offset=".038" stop-color="#05ff00"/><stop offset=".052" stop-color="#00ff13"/><stop offset=".062" stop-color="#00ff3d"/><stop offset=".086" stop-color="#00fff7"/><stop offset=".09" stop-color="#00f0ff"/><stop offset=".114" stop-color="#0083ff"/><stop offset=".133" stop-color="#003eff"/><stop offset=".152" stop-color="#001cff"/><stop offset=".171" stop-color="#001bff"/><stop offset=".19" stop-color="#002aff"/><stop offset=".21" stop-color="#004eff"/><stop offset=".248" stop-color="#00acff"/><stop offset=".267" stop-color="#00f3ff"/><stop offset=".271" stop-color="#00fff0"/><stop offset=".286" stop-color="#00ff6d"/><stop offset=".295" stop-color="#00ff38"/><stop offset=".305" stop-color="#00ff18"/><stop offset=".324" stop-color="#01ff00"/><stop offset=".348" stop-color="#12ff00"/><stop offset=".4" stop-color="#20ff00"/><stop offset=".581" stop-color="#3fff00"/><stop offset="1" stop-color="#47ff00"/></linearGradient><linearGradient id="e80"><stop offset="0" stop-color="#15ff00"/><stop offset=".014" stop-color="#02ff00"/><stop offset=".029" stop-color="#00ff1c"/><stop offset=".038" stop-color="#00ff59"/><stop offset=".057" stop-color="#00fff5"/><stop offset=".062" stop-color="#00f1ff"/><stop offset=".086" stop-color="#0083ff"/><stop offset=".105" stop-color="#0040ff"/><stop offset=".119" stop-color="#0028ff"/><stop offset=".138" stop-color="#0026ff"/><stop offset=".152" stop-color="#0030ff"/><stop offset=".171" stop-color="#0053ff"/><stop offset=".214" stop-color="#00baff"/><stop offset=".233" stop-color="#00ffff"/><stop offset=".238" stop-color="#00ffda"/><stop offset=".248" stop-color="#00ff78"/><stop offset=".257" stop-color="#00ff3d"/><stop offset=".267" stop-color="#00ff19"/><stop offset=".286" stop-color="#01ff00"/><stop offset=".31" stop-color="#12ff00"/><stop offset=".367" stop-color="#21ff00"/><stop offset=".552" stop-color="#40ff00"/><stop offset="1" stop-color="#47ff00"/></linearGradient><linearGradient id="e81"><stop offset="0" stop-color="#00ff14"/><stop offset=".005" stop-color="#00ff26"/><stop offset=".01" stop-color="#00ff46"/><stop offset=".029" stop-color="#00fff2"/><stop offset=".033" stop-color="#00f3ff"/><stop offset=".052" stop-color="#0097ff"/><stop offset=".067" stop-color="#0060ff"/><stop offset=".081" stop-color="#003dff"/><stop offset=".09" stop-color="#0037ff"/><stop offset=".11" stop-color="#003aff"/><stop offset=".129" stop-color="#0055ff"/><stop offset=".171" stop-color="#00b7ff"/><stop offset=".19" stop-color="#00feff"/><stop offset=".195" stop-color="#00ffd6"/><stop offset=".205" stop-color="#00ff6c"/><stop offset=".214" stop-color="#00ff2c"/><stop offset=".219" stop-color="#00ff19"/><stop offset=".238" stop-color="#01ff00"/><stop offset=".262" stop-color="#12ff00"/><stop offset=".329" stop-color="#23ff00"/><stop offset=".514" stop-color="#40ff00"/><stop offset="1" stop-color="#47ff00"/></linearGradient><linearGradient id="e82"><stop offset="0" stop-color="#00fffd"/><stop offset=".029" stop-color="#008cff"/><stop offset=".048" stop-color="#006eff"/><stop offset=".067" stop-color="#0073ff"/><stop offset=".081" stop-color="#008aff"/><stop offset=".1" stop-color="#00baff"/><stop offset=".114" stop-color="#00fffb"/><stop offset=".124" stop-color="#00ff73"/><stop offset=".133" stop-color="#00ff2f"/><stop offset=".138" stop-color="#00ff1b"/><stop offset=".157" stop-color="#00ff00"/><stop offset=".186" stop-color="#13ff00"/><stop offset=".252" stop-color="#24ff00"/><stop offset=".448" stop-color="#42ff00"/><stop offset="1" stop-color="#47ff00"/></linearGradient></defs>
<rect x="712.5" y="587" width="420.7" height="60.5" fill="url(#e0)"/><rect x="712.5" y="647" width="420.7" height="60.5" fill="url(#e1)"/><rect x="712.5" y="707" width="420.7" height="50.5" fill="url(#e2)"/><rect x="712.5" y="757" width="420.7" height="46.5" fill="url(#e3)"/><rect x="712.5" y="803" width="420.7" height="19.5" fill="url(#e4)"/><rect x="712.5" y="822" width="420.7" height="14.5" fill="url(#e5)"/><rect x="712.5" y="836" width="420.7" height="13.5" fill="url(#e6)"/><rect x="712.5" y="849" width="420.7" height="12.5" fill="url(#e7)"/><rect x="712.5" y="861" width="420.7" height="12.5" fill="url(#e8)"/><rect x="712.5" y="873" width="420.7" height="9.5" fill="url(#e9)"/><rect x="712.5" y="882" width="420.7" height="7.5" fill="url(#e10)"/><rect x="712.5" y="889" width="420.7" height="6.5" fill="url(#e11)"/><rect x="712.5" y="895" width="420.7" height="5.5" fill="url(#e12)"/><rect x="712.5" y="900" width="420.7" height="5.5" fill="url(#e13)"/><rect x="712.5" y="905" width="420.7" height="5.5" fill="url(#e14)"/><rect x="712.5" y="910" width="420.7" height="4.5" fill="url(#e15)"/><rect x="712.5" y="914" width="420.7" height="3.5" fill="url(#e16)"/><rect x="712.5" y="917" width="420.7" height="2.5" fill="url(#e17)"/><rect x="712.5" y="919" width="420.7" height="2.5" fill="url(#e18)"/><rect x="712.5" y="921" width="420.7" height="2.5" fill="url(#e19)"/><rect x="712.5" y="923" width="420.7" height="2.5" fill="url(#e20)"/><rect x="712.5" y="925" width="420.7" height="2.5" fill="url(#e21)"/><rect x="712.5" y="927" width="420.7" height="1.5" fill="url(#e22)"/><rect x="712.5" y="928" width="420.7" height="1.5" fill="url(#e23)"/><rect x="712.5" y="929" width="420.7" height="1.5" fill="url(#e24)"/><rect x="712.5" y="930" width="420.7" height="1.5" fill="url(#e25)"/><rect x="712.5" y="931" width="420.7" height="1.5" fill="url(#e26)"/><rect x="712.5" y="932" width="420.7" height="1.5" fill="url(#e27)"/><rect x="712.5" y="933" width="420.7" height="1.5" fill="url(#e28)"/><rect x="712.5" y="934" width="420.7" height="1.5" fill="url(#e29)"/><rect x="712.5" y="935" width="420.7" height="1.5" fill="url(#e30)"/><rect x="712.5" y="936" width="420.7" height="1.5" fill="url(#e31)"/><rect x="712.5" y="937" width="420.7" height="1.5" fill="url(#e32)"/><rect x="712.5" y="938" width="420.7" height="2.5" fill="url(#e33)"/><rect x="712.5" y="940" width="420.7" height="2.5" fill="url(#e34)"/><rect x="712.5" y="942" width="420.7" height="2.5" fill="url(#e35)"/><rect x="712.5" y="944" width="420.7" height="1.5" fill="url(#e36)"/><rect x="712.5" y="945" width="420.7" height="1.5" fill="url(#e37)"/><rect x="712.5" y="946" width="420.7" height="1.5" fill="url(#e38)"/><rect x="712.5" y="947" width="420.7" height="1.5" fill="url(#e39)"/><rect x="712.5" y="948" width="420.7" height="1.5" fill="url(#e40)"/><rect x="712.5" y="949" width="420.7" height="1.5" fill="url(#e41)"/><rect x="712.5" y="950" width="420.7" height="1.5" fill="url(#e42)"/><rect x="712.5" y="951" width="420.7" height="1.5" fill="url(#e43)"/><rect x="712.5" y="952" width="420.7" height="1.5" fill="url(#e44)"/><rect x="712.5" y="953" width="420.7" height="1.5" fill="url(#e45)"/><rect x="712.5" y="954" width="420.7" height="1.5" fill="url(#e46)"/><rect x="712.5" y="955" width="420.7" height="1.5" fill="url(#e47)"/><rect x="712.5" y="956" width="420.7" height="1.5" fill="url(#e48)"/><rect x="712.5" y="957" width="420.7" height="1.5" fill="url(#e49)"/><rect x="712.5" y="958" width="420.7" height="1.5" fill="url(#e50)"/><rect x="712.5" y="959" width="420.7" height="1.5" fill="url(#e51)"/><rect x="712.5" y="960" width="420.7" height="1.5" fill="url(#e52)"/><rect x="712.5" y="961" width="420.7" height="1.5" fill="url(#e53)"/><rect x="712.5" y="962" width="420.7" height="1.5" fill="url(#e54)"/><rect x="712.5" y="963" width="420.7" height="1.5" fill="url(#e55)"/><rect x="712.5" y="964" width="420.7" height="1.5" fill="url(#e56)"/><rect x="712.5" y="965" width="420.7" height="1.5" fill="url(#e57)"/><rect x="712.5" y="966" width="420.7" height="1.5" fill="url(#e58)"/><rect x="712.5" y="967" width="420.7" height="1.5" fill="url(#e59)"/><rect x="712.5" y="968" width="420.7" height="1.5" fill="url(#e60)"/><rect x="712.5" y="969" width="420.7" height="1.5" fill="url(#e61)"/><rect x="712.5" y="970" width="420.7" height="1.5" fill="url(#e62)"/><rect x="712.5" y="971" width="420.7" height="1.5" fill="url(#e63)"/><rect x="712.5" y="972" width="420.7" height="1.5" fill="url(#e64)"/><rect x="712.5" y="973" width="420.7" height="1.5" fill="url(#e65)"/><rect x="712.5" y="974" width="420.7" height="1.5" fill="url(#e66)"/><rect x="712.5" y="975" width="420.7" height="1.5" fill="url(#e67)"/><rect x="712.5" y="976" width="420.7" height="1.5" fill="url(#e68)"/><rect x="712.5" y="977" width="420.7" height="1.5" fill="url(#e69)"/><rect x="712.5" y="978" width="420.7" height="1.5" fill="url(#e70)"/><rect x="712.5" y="979" width="420.7" height="1.5" fill="url(#e71)"/><rect x="712.5" y="980" width="420.7" height="1.5" fill="url(#e72)"/><rect x="712.5" y="981" width="420.7" height="1.5" fill="url(#e73)"/><rect x="712.5" y="982" width="420.7" height="1.5" fill="url(#e74)"/><rect x="712.5" y="983" width="420.7" height="1.5" fill="url(#e75)"/><rect x="712.5" y="984" width="420.7" height="1.5" fill="url(#e76)"/><rect x="712.5" y="985" width="420.7" height="1.5" fill="url(#e77)"/><rect x="712.5" y="986" width="420.7" height="1.5" fill="url(#e78)"/><rect x="712.5" y="987" width="420.7" height="1.5" fill="url(#e79)"/><rect x="712.5" y="988" width="420.7" height="1.5" fill="url(#e80)"/><rect x="712.5" y="989" width="420.7" height="1.5" fill="url(#e81)"/><rect x="712.5" y="990" width="420.7" height="1" fill="url(#e82)"/><path d="M713.4 989.5C716.4 989.2 726.2 988.4 731.5 987.8C736.8 987.3 741.9 986.8 745.3 986.2C748.7 985.7 750.1 985.1 752 984.6C753.9 984.1 755.4 983.5 756.8 983C758.3 982.5 759.5 981.9 760.8 981.4C762 980.8 763.3 980.3 764.5 979.8C765.7 979.2 766.8 978.7 767.8 978.1C768.9 977.6 769.9 977.1 770.8 976.5C771.7 976 772.6 975.4 773.5 974.9C774.4 974.4 775.2 973.8 776 973.3C776.8 972.7 777.6 972.2 778.3 971.7C779.1 971.1 779.8 970.6 780.6 970C781.3 969.5 782 969 782.7 968.4C783.3 967.9 784 967.3 784.6 966.8C785.3 966.3 785.9 965.7 786.4 965.2C787 964.6 787.6 964.1 788.1 963.6C788.6 963 789.1 962.5 789.6 961.9C790.1 961.4 790.6 960.9 791.1 960.3C791.6 959.8 792.1 959.2 792.5 958.7C793 958.2 793.5 957.6 793.9 957.1C794.4 956.5 794.8 956 795.2 955.5C795.7 954.9 796.1 954.4 796.5 953.9C796.9 953.3 797.3 952.8 797.7 952.2C798.1 951.7 798.5 951.2 798.8 950.6C799.2 950.1 799.6 949.5 799.9 949C800.3 948.5 800.6 947.9 800.9 947.4C801.2 946.8 801.6 946.3 801.9 945.8C802.2 945.2 802.5 944.7 802.8 944.1C803 943.6 803.1 943.5 803.6 942.5C804.1 941.6 804.4 941.2 805.6 938.5C806.8 935.8 809.4 930.4 810.8 926.4C812.2 922.3 813.2 918.3 814 914.2C814.8 910.2 815.1 906.2 815.6 902.1C816 898.1 816.4 894 816.7 890C817 886 817.3 881.9 817.6 877.9C817.9 873.8 818.1 869.8 818.4 865.8C818.6 861.7 818.9 857.7 819.1 853.6C819.4 849.6 819.6 845.6 819.8 841.5C820.1 837.5 820.3 833.4 820.5 829.4C820.7 825.4 820.9 821.3 821.1 817.3C821.3 813.2 821.4 809.2 821.6 805.2C821.7 801.1 821.9 797.1 822 793C822.1 789 822.1 785 822.2 780.9C822.3 776.9 822.3 772.8 822.4 768.8C822.4 764.8 822.4 760.7 822.5 756.7C822.5 752.6 822.6 748.6 822.6 744.6C822.7 740.5 822.7 736.5 822.7 732.4C822.8 728.4 822.8 724.4 822.9 720.3C822.9 716.3 822.9 712.2 823 708.2C823 704.2 823 700.1 823.1 696.1C823.1 692 823.1 688 823.1 684C823.2 679.9 823.2 675.9 823.2 671.8C823.2 667.8 823.3 663.8 823.3 659.7C823.3 655.7 823.3 651.6 823.3 647.6C823.4 643.6 823.4 639.5 823.4 635.5C823.4 631.4 823.4 627.4 823.4 623.4C823.4 619.3 823.5 615.3 823.5 611.2C823.5 607.2 823.5 603.2 823.5 599.1C823.5 595.1 823.5 589 823.5 587" stroke="#042" stroke-width="1.2" fill="none" opacity=".8"/><path d="M712.5 991C717.4 991 736.4 990.9 741.8 990.9C747.2 990.9 743.8 990.9 744.8 990.9C745.9 990.9 747 990.9 748.2 990.8C749.3 990.8 750.6 990.8 751.8 990.8C753.1 990.8 754.5 990.8 755.9 990.8C757.3 990.7 758.7 990.7 760.2 990.7C761.7 990.7 763.3 990.6 765 990.6C766.7 990.6 768.4 990.5 770.2 990.5C772.1 990.5 774 990.4 776 990.4C778 990.3 780.1 990.3 782.3 990.2C784.5 990.2 786.8 990.1 789.2 990C791.6 990 794.1 989.9 796.8 989.8C799.4 989.7 802.2 989.6 805.2 989.5C808.2 989.4 811.4 989.2 814.7 989.1C818 988.9 821.4 988.8 824.9 988.6C828.3 988.4 831.9 988.2 835.4 988C838.8 987.8 842.2 987.5 845.6 987.2C848.9 986.9 852.1 986.6 855.5 986.3C858.8 985.9 862.1 985.5 865.8 985.1C869.4 984.6 873.1 984.1 877.4 983.6C881.7 983 886.3 982.4 891.4 981.7C896.4 981 902 980.2 907.7 979.3C913.4 978.4 919.4 977.5 925.7 976.4C932 975.2 938.6 974 945.5 972.6C952.3 971.3 959.6 969.7 966.7 968C973.8 966.2 980.6 964.3 988.3 962.1C995.9 960 1003.7 957.6 1012.6 954.8C1021.6 952.1 1030.3 949.1 1041.9 945.6C1053.4 942.2 1066.8 938.5 1082 934.1C1097.2 929.8 1124.7 922.1 1133.2 919.7" stroke="#042" stroke-width="1.2" fill="none" opacity=".8"/>
<!-- panel c -->
<path d="M1356.9 163.1L1449.7 163.1L1449.7 368.6L1441.5 368.6L1441.5 408.4L1433.2 408.4L1433.2 425L1424.5 425L1424.5 435.2L1416.3 435.2L1416.3 441L1407.9 441L1407.9 443.9L1378.9 448.2L1356.9 451.1Z" fill="#ff8000"/>
<clipPath id="hc"><path d="M1356.9 163.1H1449.7V336L1444.1 333.9L1422.4 328.8L1400.7 325.2L1378.9 323.3L1356.9 322.7Z"/></clipPath>
<path d="M1350 183.9L1456 79.6M1350 223.4L1456 119.1M1350 261.2L1456 156.9M1350 297.3L1456 193M1350 335.5L1456 231.2M1350 373.3L1456 269M1350 409.4L1456 305.1" stroke="#000" stroke-width="2" fill="none" clip-path="url(#hc)"/>
<path d="M1356.9 451.1L1378.9 448.2L1407.9 443.9L1425.3 441L1451.3 435.9L1473 430.1L1494.7 423.6L1509.2 417.8L1517.9 413.5L1526.6 409.9L1535.2 409.1L1542.5 410.1L1543.4 413.8L1534.5 414.2L1533.8 426.5L1526.6 433L1509.2 441L1487.5 446.8L1465.8 451.1L1444.1 454L1422.4 455.9L1393.4 457.3L1356.9 457.9Z" fill="#0000ff"/>
<path d="M1356.9 322.7C1360.6 322.8 1371.6 322.9 1378.9 323.3C1386.2 323.7 1393.5 324.3 1400.7 325.2C1408 326.1 1415.2 327.4 1422.4 328.8C1429.6 330.2 1436.9 332 1444.1 333.9C1451.3 335.8 1458.6 337.9 1465.8 340.4C1473 342.9 1480.3 345.9 1487.5 349.1C1494.7 352.4 1503.2 356.5 1509.2 359.9C1515.2 363.3 1519.4 366 1523.7 369.3C1528 372.6 1532.1 376.1 1535.2 379.5C1538.3 382.9 1540.7 386.2 1542.5 389.6C1544.3 393 1545.5 396.6 1546.1 399.7C1546.7 402.8 1546.6 405.8 1546.1 408.4C1545.6 411 1544.8 413 1543.2 415.6C1541.6 418.2 1539.5 421.4 1536.7 424.3C1533.9 427.2 1531.2 430.2 1526.6 433C1522 435.8 1515.7 438.7 1509.2 441C1502.7 443.3 1494.7 445.1 1487.5 446.8C1480.3 448.5 1473 449.9 1465.8 451.1C1458.6 452.3 1451.3 453.2 1444.1 454C1436.9 454.8 1430.9 455.3 1422.4 455.9C1414 456.4 1404.3 457 1393.4 457.3C1382.5 457.6 1363 457.8 1356.9 457.9" stroke="#000" stroke-width="2" fill="none"/>
<path d="M1532 370.1L1599 316.3" stroke="#000" stroke-width="2.8" fill="none"/>
<path d="M1609.3 307.4L1594 310.6L1603.4 322.4Z" fill="#000"/>
<text x="1498" y="292" font-size="28.6">isotherm at 673 K</text>
<!-- panel f -->
<path d="M1357.3 826.8L1369.1 826.8L1369.1 807.1L1399.4 807.1L1399.4 786.9L1436.8 786.9L1436.8 887.8L1433 887.8L1433 931.5L1428.5 931.5L1428.5 950.5L1424.7 950.5L1424.7 959.5L1420.7 959.5L1420.7 965.1L1417.3 965.1L1417.3 969.6L1414 969.6L1414 974.1L1409.5 974.1L1409.5 978.5L1405 978.5L1405 981.9L1398.3 981.9L1398.3 984.1L1391.6 984.1L1384.8 986.4L1373.6 988.2L1357.3 989.7Z" fill="#ff8000"/>
<path d="M1357 989.9L1398.3 986.4L1437.2 981.5L1466.4 975.7L1485.9 969.9L1497.5 964L1503.4 961.5L1508.4 962.5L1508.8 967L1503.4 971.8L1495.6 976.7L1485.9 980.6L1466.4 985.4L1441.1 988.7L1417.8 990.7L1357 992Z" fill="#0000ff"/>
<path d="M1357.5 609C1362.8 609.3 1378.8 609.7 1389 610.6C1399.2 611.5 1408.6 612.7 1418.4 614.5C1428.2 616.3 1438 618.8 1447.8 621.4C1457.6 624 1467.5 626.8 1477.3 630.2C1487.1 633.6 1496.9 637.9 1506.7 642C1516.5 646.1 1526.3 650 1536.1 654.7C1545.9 659.4 1555.7 664.4 1565.5 670.4C1575.3 676.4 1586.7 684.8 1594.9 691C1603.1 697.2 1608 701.2 1614.5 707.6C1621 714 1627.6 721 1634.1 729.2C1640.6 737.4 1647.8 747.9 1653.7 756.7C1659.6 765.5 1664.4 773.4 1669.2 782C1674 790.6 1679.2 799.1 1682.3 808.1C1685.4 817.1 1686.9 828.9 1687.9 836.2C1689 843.5 1688.8 845.9 1688.6 852C1688.4 858.1 1688 865.8 1686.5 873C1685 880.2 1682.8 887.8 1679.5 895C1676.2 902.2 1671.4 910.2 1666.7 916.4C1662 922.6 1657 927.1 1651.2 932C1645.4 936.9 1638.2 941.6 1631.7 945.6C1625.2 949.6 1618.8 953.1 1612.3 956.3C1605.8 959.5 1599.3 962.4 1592.8 965C1586.3 967.6 1579.9 969.7 1573.4 971.8C1566.9 973.9 1560.4 976 1553.9 977.7C1547.4 979.4 1541 980.8 1534.5 982.1C1528 983.4 1521.5 984.4 1515 985.4C1508.5 986.4 1502.1 987.3 1495.6 988C1489.1 988.7 1482.6 989.2 1476.1 989.7C1469.6 990.2 1464.4 990.4 1456.7 990.7C1449 991 1434.5 991.4 1430 991.5" stroke="#000" stroke-width="2" fill="none"/>
<path d="M1666.1 905L1623 852.5" stroke="#000" stroke-width="2.8" fill="none"/>
<path d="M1615.4 843L1629.4 848.6L1618 858Z" fill="#000"/>
<text x="1500.8" y="827.2" font-size="28.6">isotherm at 413 K</text>
<rect x="103.5" y="54" width="420.1" height="404" fill="none" stroke="#000" stroke-width="1.8"/>
<path d="M103.5 458v8M145.5 458v4.3M187.5 458v8M229.5 458v4.3M271.5 458v8M313.6 458v4.3M355.6 458v8M397.6 458v4.3M439.6 458v8M481.6 458v4.3M523.6 458v8M103.5 458h-8M103.5 417.6h-4.3M103.5 377.2h-8M103.5 336.8h-4.3M103.5 296.4h-8M103.5 256h-4.3M103.5 215.6h-8M103.5 175.2h-4.3M103.5 134.8h-8M103.5 94.4h-4.3M103.5 54h-8" stroke="#000" stroke-width="1.8" fill="none"/>
<g font-size="25" text-anchor="middle">
<text x="103.5" y="491">0</text>
<text x="187.5" y="491">100</text>
<text x="271.5" y="491">200</text>
<text x="355.6" y="491">300</text>
<text x="439.6" y="491">400</text>
<text x="523.6" y="491">500</text>
</g>
<g font-size="25" text-anchor="end">
<text x="90" y="466">0</text>
<text x="90" y="385.2">1000</text>
<text x="90" y="304.4">2000</text>
<text x="90" y="223.6">3000</text>
<text x="90" y="142.8">4000</text>
<text x="90" y="62">5000</text>
</g>
<text x="313.6" y="519.5" font-size="34.5" text-anchor="middle">Depth (μm)</text>
<text transform="translate(31.7 256) rotate(-90)" font-size="34.5" text-anchor="middle">Time (μs)</text>
<text x="109.5" y="42.7" font-size="42">(a) W</text>
<rect x="712.5" y="54" width="420.7" height="404" fill="none" stroke="#000" stroke-width="1.8"/>
<path d="M712.5 458v8M754.6 458v4.3M796.6 458v8M838.7 458v4.3M880.8 458v8M922.9 458v4.3M964.9 458v8M1007 458v4.3M1049.1 458v8M1091.1 458v4.3M1133.2 458v8M712.5 458h-8M712.5 417.6h-4.3M712.5 377.2h-8M712.5 336.8h-4.3M712.5 296.4h-8M712.5 256h-4.3M712.5 215.6h-8M712.5 175.2h-4.3M712.5 134.8h-8M712.5 94.4h-4.3M712.5 54h-8" stroke="#000" stroke-width="1.8" fill="none"/>
<g font-size="25" text-anchor="middle">
<text x="712.5" y="491">0</text>
<text x="796.6" y="491">100</text>
<text x="880.8" y="491">200</text>
<text x="964.9" y="491">300</text>
<text x="1049.1" y="491">400</text>
<text x="1133.2" y="491">500</text>
</g>
<g font-size="25" text-anchor="end">
<text x="699" y="466">0</text>
<text x="699" y="385.2">1000</text>
<text x="699" y="304.4">2000</text>
<text x="699" y="223.6">3000</text>
<text x="699" y="142.8">4000</text>
<text x="699" y="62">5000</text>
</g>
<text x="922.9" y="519.5" font-size="34.5" text-anchor="middle">Depth (μm)</text>
<text transform="translate(640.7 256) rotate(-90)" font-size="34.5" text-anchor="middle">Time (μs)</text>
<text x="718.5" y="42.7" font-size="42">(b) W</text>
<rect x="1356.7" y="54" width="420.9" height="404" fill="none" stroke="#000" stroke-width="1.8"/>
<path d="M1356.7 458v8M1398.8 458v4.3M1440.9 458v8M1483 458v4.3M1525.1 458v8M1567.2 458v4.3M1609.2 458v8M1651.3 458v4.3M1693.4 458v8M1735.5 458v4.3M1777.6 458v8M1356.7 458h-8M1356.7 417.6h-4.3M1356.7 377.2h-8M1356.7 336.8h-4.3M1356.7 296.4h-8M1356.7 256h-4.3M1356.7 215.6h-8M1356.7 175.2h-4.3M1356.7 134.8h-8M1356.7 94.4h-4.3M1356.7 54h-8" stroke="#000" stroke-width="1.8" fill="none"/>
<g font-size="25" text-anchor="middle">
<text x="1356.7" y="491">0</text>
<text x="1440.9" y="491">100</text>
<text x="1525.1" y="491">200</text>
<text x="1609.2" y="491">300</text>
<text x="1693.4" y="491">400</text>
<text x="1777.6" y="491">500</text>
</g>
<g font-size="25" text-anchor="end">
<text x="1343.2" y="466">0</text>
<text x="1343.2" y="385.2">1000</text>
<text x="1343.2" y="304.4">2000</text>
<text x="1343.2" y="223.6">3000</text>
<text x="1343.2" y="142.8">4000</text>
<text x="1343.2" y="62">5000</text>
</g>
<text x="1567.2" y="519.5" font-size="34.5" text-anchor="middle">Depth (μm)</text>
<text transform="translate(1284.9 256) rotate(-90)" font-size="34.5" text-anchor="middle">Time (μs)</text>
<text x="1362.7" y="42.7" font-size="42">(c) W</text>
<rect x="103.5" y="587" width="420.1" height="404" fill="none" stroke="#000" stroke-width="1.8"/>
<path d="M103.5 991v8M145.5 991v4.3M187.5 991v8M229.5 991v4.3M271.5 991v8M313.6 991v4.3M355.6 991v8M397.6 991v4.3M439.6 991v8M481.6 991v4.3M523.6 991v8M103.5 991h-8M103.5 950.6h-4.3M103.5 910.2h-8M103.5 869.8h-4.3M103.5 829.4h-8M103.5 789h-4.3M103.5 748.6h-8M103.5 708.2h-4.3M103.5 667.8h-8M103.5 627.4h-4.3M103.5 587h-8" stroke="#000" stroke-width="1.8" fill="none"/>
<g font-size="25" text-anchor="middle">
<text x="103.5" y="1024">0</text>
<text x="187.5" y="1024">100</text>
<text x="271.5" y="1024">200</text>
<text x="355.6" y="1024">300</text>
<text x="439.6" y="1024">400</text>
<text x="523.6" y="1024">500</text>
</g>
<g font-size="25" text-anchor="end">
<text x="90" y="999">0</text>
<text x="90" y="918.2">1000</text>
<text x="90" y="837.4">2000</text>
<text x="90" y="756.6">3000</text>
<text x="90" y="675.8">4000</text>
<text x="90" y="595">5000</text>
</g>
<text x="313.6" y="1052.5" font-size="34.5" text-anchor="middle">Depth (μm)</text>
<text transform="translate(31.7 789) rotate(-90)" font-size="34.5" text-anchor="middle">Time (μs)</text>
<text x="109.5" y="575.7" font-size="42">(d) W</text>
<rect x="712.5" y="587" width="420.7" height="404" fill="none" stroke="#000" stroke-width="1.8"/>
<path d="M712.5 991v8M754.6 991v4.3M796.6 991v8M838.7 991v4.3M880.8 991v8M922.9 991v4.3M964.9 991v8M1007 991v4.3M1049.1 991v8M1091.1 991v4.3M1133.2 991v8M712.5 991h-8M712.5 940.5h-4.3M712.5 890h-8M712.5 839.5h-4.3M712.5 789h-8M712.5 738.5h-4.3M712.5 688h-8M712.5 637.5h-4.3M712.5 587h-8" stroke="#000" stroke-width="1.8" fill="none"/>
<g font-size="25" text-anchor="middle">
<text x="712.5" y="1024">0</text>
<text x="796.6" y="1024">200</text>
<text x="880.8" y="1024">400</text>
<text x="964.9" y="1024">600</text>
<text x="1049.1" y="1024">800</text>
<text x="1133.2" y="1024">1000</text>
</g>
<g font-size="25" text-anchor="end">
<text x="699" y="999">0</text>
<text x="699" y="898">5000</text>
<text x="699" y="797">10000</text>
<text x="699" y="696">15000</text>
<text x="699" y="595">20000</text>
</g>
<text x="922.9" y="1052.5" font-size="34.5" text-anchor="middle">Depth (μm)</text>
<text transform="translate(631.2 789) rotate(-90)" font-size="34.5" text-anchor="middle">Time (μs)</text>
<text x="718.5" y="575.7" font-size="42">(e) Mo</text>
<rect x="1356.7" y="587" width="420.9" height="404" fill="none" stroke="#000" stroke-width="1.8"/>
<path d="M1356.7 991v8M1398.8 991v4.3M1440.9 991v8M1483 991v4.3M1525.1 991v8M1567.2 991v4.3M1609.2 991v8M1651.3 991v4.3M1693.4 991v8M1735.5 991v4.3M1777.6 991v8M1356.7 991h-8M1356.7 940.5h-4.3M1356.7 890h-8M1356.7 839.5h-4.3M1356.7 789h-8M1356.7 738.5h-4.3M1356.7 688h-8M1356.7 637.5h-4.3M1356.7 587h-8" stroke="#000" stroke-width="1.8" fill="none"/>
<g font-size="25" text-anchor="middle">
<text x="1356.7" y="1024">0</text>
<text x="1440.9" y="1024">200</text>
<text x="1525.1" y="1024">400</text>
<text x="1609.2" y="1024">600</text>
<text x="1693.4" y="1024">800</text>
<text x="1777.6" y="1024">1000</text>
</g>
<g font-size="25" text-anchor="end">
<text x="1343.2" y="999">0</text>
<text x="1343.2" y="898">5000</text>
<text x="1343.2" y="797">10000</text>
<text x="1343.2" y="696">15000</text>
<text x="1343.2" y="595">20000</text>
</g>
<text x="1567.2" y="1052.5" font-size="34.5" text-anchor="middle">Depth (μm)</text>
<text transform="translate(1275.4 789) rotate(-90)" font-size="34.5" text-anchor="middle">Time (μs)</text>
<text x="1362.7" y="575.7" font-size="42">(f) Mo</text>
<linearGradient id="cba" x1="0" y1="1" x2="0" y2="0"><stop offset="0" stop-color="#0000ff"/><stop offset="0.25" stop-color="#00ffff"/><stop offset="0.5" stop-color="#00ff00"/><stop offset="0.75" stop-color="#ffff00"/><stop offset="1" stop-color="#ff0000"/></linearGradient>
<rect x="530" y="61" width="28.8" height="390" fill="url(#cba)"/>
<rect x="530" y="54" width="28.8" height="7" fill="#fff"/>
<rect x="530" y="451" width="28.8" height="7" fill="#000"/>
<rect x="530" y="54" width="28.8" height="404" fill="none" stroke="#000" stroke-width="1.5"/>
<g font-size="19">
<text x="573.8" y="67.7">1040</text>
<text x="573.8" y="111">837</text>
<text x="573.8" y="154.4">633</text>
<text x="573.8" y="197.7">430</text>
<text x="573.8" y="241">227</text>
<text x="573.8" y="284.4">23</text>
<text x="573.8" y="327.7">-180</text>
<text x="573.8" y="371">-383</text>
<text x="573.8" y="414.4">-587</text>
<text x="573.8" y="457.7">-790</text>
</g>
<path d="M558.8 61h8M558.8 104.3h8M558.8 147.7h8M558.8 191h8M558.8 234.3h8M558.8 277.7h8M558.8 321h8M558.8 364.3h8M558.8 407.7h8M558.8 451h8" stroke="#000" stroke-width="1.5" fill="none"/>
<linearGradient id="cbb" x1="0" y1="1" x2="0" y2="0"><stop offset="0" stop-color="#0000ff"/><stop offset="0.25" stop-color="#00ffff"/><stop offset="0.5" stop-color="#00ff00"/><stop offset="0.75" stop-color="#ffff00"/><stop offset="1" stop-color="#ff0000"/></linearGradient>
<rect x="1139.2" y="61" width="28.8" height="390" fill="url(#cbb)"/>
<rect x="1139.2" y="54" width="28.8" height="14" fill="#fff"/>
<rect x="1139.2" y="451" width="28.8" height="7" fill="#000"/>
<rect x="1139.2" y="54" width="28.8" height="404" fill="none" stroke="#000" stroke-width="1.5"/>
<g font-size="19">
<text x="1183" y="67.7">-0.0</text>
<text x="1183" y="111">-0.3</text>
<text x="1183" y="154.4">-0.5</text>
<text x="1183" y="197.7">-0.8</text>
<text x="1183" y="241">-1.0</text>
<text x="1183" y="284.4">-1.3</text>
<text x="1183" y="327.7">-1.6</text>
<text x="1183" y="371">-1.8</text>
<text x="1183" y="414.4">-2.1</text>
<text x="1183" y="457.7">-2.3</text>
</g>
<path d="M1168 61h8M1168 104.3h8M1168 147.7h8M1168 191h8M1168 234.3h8M1168 277.7h8M1168 321h8M1168 364.3h8M1168 407.7h8M1168 451h8" stroke="#000" stroke-width="1.5" fill="none"/>
<linearGradient id="cbd" x1="0" y1="1" x2="0" y2="0"><stop offset="0" stop-color="#0000ff"/><stop offset="0.25" stop-color="#00ffff"/><stop offset="0.5" stop-color="#00ff00"/><stop offset="0.75" stop-color="#ffff00"/><stop offset="1" stop-color="#ff0000"/></linearGradient>
<rect x="530" y="594" width="28.8" height="390" fill="url(#cbd)"/>
<rect x="530" y="587" width="28.8" height="7" fill="#fff"/>
<rect x="530" y="984" width="28.8" height="7" fill="#000"/>
<rect x="530" y="587" width="28.8" height="404" fill="none" stroke="#000" stroke-width="1.5"/>
<g font-size="19">
<text x="573.8" y="600.7">22</text>
<text x="573.8" y="644">17</text>
<text x="573.8" y="687.4">12</text>
<text x="573.8" y="730.7">8</text>
<text x="573.8" y="774">3</text>
<text x="573.8" y="817.4">-1</text>
<text x="573.8" y="860.7">-6</text>
<text x="573.8" y="904">-10</text>
<text x="573.8" y="947.4">-15</text>
<text x="573.8" y="990.7">-19</text>
</g>
<path d="M558.8 594h8M558.8 637.3h8M558.8 680.7h8M558.8 724h8M558.8 767.3h8M558.8 810.7h8M558.8 854h8M558.8 897.3h8M558.8 940.7h8M558.8 984h8" stroke="#000" stroke-width="1.5" fill="none"/>
<linearGradient id="cbe" x1="0" y1="1" x2="0" y2="0"><stop offset="0" stop-color="#0000ff"/><stop offset="0.25" stop-color="#00ffff"/><stop offset="0.5" stop-color="#00ff00"/><stop offset="0.75" stop-color="#ffff00"/><stop offset="1" stop-color="#ff0000"/></linearGradient>
<rect x="1139.2" y="594" width="28.8" height="390" fill="url(#cbe)"/>
<rect x="1139.2" y="587" width="28.8" height="7" fill="#fff"/>
<rect x="1139.2" y="984" width="28.8" height="7" fill="#000"/>
<rect x="1139.2" y="587" width="28.8" height="404" fill="none" stroke="#000" stroke-width="1.5"/>
<g font-size="19">
<text x="1183" y="600.7">505</text>
<text x="1183" y="644">398</text>
<text x="1183" y="687.4">291</text>
<text x="1183" y="730.7">183</text>
<text x="1183" y="774">76</text>
<text x="1183" y="817.4">-31</text>
<text x="1183" y="860.7">-138</text>
<text x="1183" y="904">-246</text>
<text x="1183" y="947.4">-353</text>
<text x="1183" y="990.7">-460</text>
</g>
<path d="M1168 594h8M1168 637.3h8M1168 680.7h8M1168 724h8M1168 767.3h8M1168 810.7h8M1168 854h8M1168 897.3h8M1168 940.7h8M1168 984h8" stroke="#000" stroke-width="1.5" fill="none"/>
<rect x="1783.6" y="54" width="28" height="202" fill="#ff8000"/>
<rect x="1783.6" y="256" width="28" height="202" fill="#0000ff"/>
<rect x="1783.6" y="54" width="28" height="404" fill="none" stroke="#444" stroke-width="1"/>
<text transform="translate(1825.6 152.3) rotate(90)" font-size="21.6" text-anchor="middle">dPE<tspan font-size="14.5" dy="5">xx</tspan><tspan dy="-5">/dt &gt; 0</tspan></text>
<text transform="translate(1825.6 354.8) rotate(90)" font-size="21.6" text-anchor="middle">dPE<tspan font-size="14.5" dy="5">xx</tspan><tspan dy="-5">/dt &lt; 0</tspan></text>
<rect x="1783.6" y="587" width="28" height="202" fill="#ff8000"/>
<rect x="1783.6" y="789" width="28" height="202" fill="#0000ff"/>
<rect x="1783.6" y="587" width="28" height="404" fill="none" stroke="#444" stroke-width="1"/>
<text transform="translate(1825.6 685.3) rotate(90)" font-size="21.6" text-anchor="middle">dPE<tspan font-size="14.5" dy="5">xx</tspan><tspan dy="-5">/dt &gt; 0</tspan></text>
<text transform="translate(1825.6 887.8) rotate(90)" font-size="21.6" text-anchor="middle">dPE<tspan font-size="14.5" dy="5">xx</tspan><tspan dy="-5">/dt &lt; 0</tspan></text>
<text x="578.8" y="41.2" font-size="34.8" text-anchor="end">S<tspan font-size="23" dy="8">xx</tspan><tspan dy="-8"> (MPa)</tspan></text>
<text x="1188" y="41.2" font-size="34.8" text-anchor="end">PE<tspan font-size="23" dy="8">xx</tspan><tspan dy="-8"> (%)</tspan></text>
<text x="1831.6" y="36" font-size="34.5" text-anchor="end">dPE<tspan font-size="23" dy="8">xx</tspan><tspan dy="-8">/dt (s</tspan><tspan font-size="21" dy="-14">-1</tspan><tspan dy="14">)</tspan></text>
<text x="578.8" y="574.2" font-size="34.8" text-anchor="end">S<tspan font-size="23" dy="8">zz</tspan><tspan dy="-8"> (MPa)</tspan></text>
<text x="1188" y="574.2" font-size="34.8" text-anchor="end">S<tspan font-size="23" dy="8">xx</tspan><tspan dy="-8"> (MPa)</tspan></text>
<text x="1831.6" y="569" font-size="34.5" text-anchor="end">dPE<tspan font-size="23" dy="8">xx</tspan><tspan dy="-8">/dt (s</tspan><tspan font-size="21" dy="-14">-1</tspan><tspan dy="14">)</tspan></text>
<g font-size="25" text-anchor="middle">
<text x="254.1" y="171">0</text><text x="494" y="432.5">0</text>
<text x="839" y="701">0</text><text x="1114" y="963">0</text>
</g>
</svg></body></html>
